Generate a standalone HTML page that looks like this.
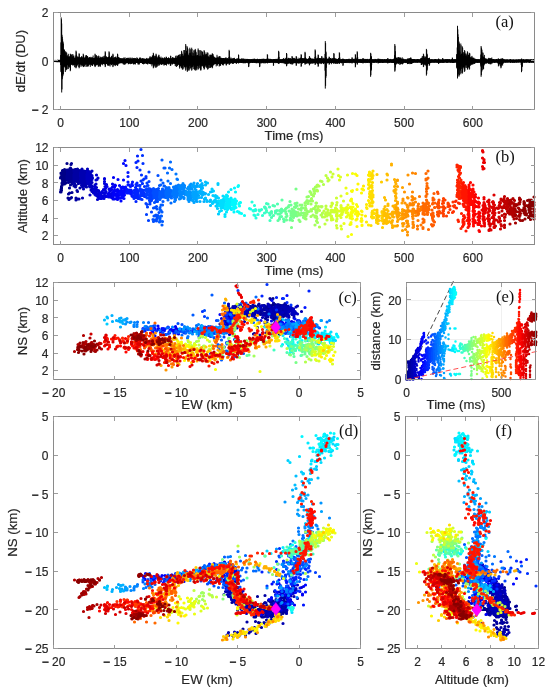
<!DOCTYPE html>
<html lang="en"><head><meta charset="utf-8"><title>Lightning flash mapping, panels (a)-(f)</title>
<style>html,body{margin:0;padding:0;background:#fff}body{width:550px;height:692px;overflow:hidden}svg{display:block}text{font-family:"Liberation Sans",sans-serif;fill:#262626;stroke:#262626;stroke-width:.18px}text.s{font-family:"Liberation Serif",serif;font-size:16.5px;fill:#111;stroke:none}</style></head><body>
<svg width="550" height="692" viewBox="0 0 550 692">
<rect width="550" height="692" fill="#fff"/><defs>
<clipPath id="ca"><rect x="51.5" y="10.5" width="485" height="101"/></clipPath>
<clipPath id="cb"><rect x="51.5" y="145.5" width="485" height="101"/></clipPath>
<clipPath id="cc"><rect x="51.5" y="280.5" width="311" height="101"/></clipPath>
<clipPath id="ce"><rect x="404.5" y="280.5" width="133" height="101"/></clipPath>
<clipPath id="cd"><rect x="51.5" y="414.5" width="311" height="236"/></clipPath>
<clipPath id="cf"><rect x="403.5" y="414.5" width="137" height="236"/></clipPath>
</defs>
<g clip-path="url(#ca)"><path d="M53.5 61H534.5" stroke="#000" stroke-width="1.7" fill="none"/>
<path d="M53.5 62.0V60.0M53.8 62.0V60.0M54 62.1V59.9M54.3 62.0V60.0M54.6 62.0V60.0M54.9 62.0V60.0M55.1 62.0V60.0M55.4 62.1V60.0M55.7 62.0V59.9M56 62.0V60.0M56.2 62.0V60.0M56.5 62.0V60.0M56.8 62.2V60.0M57.1 62.2V60.0M57.3 62.0V59.9M57.6 62.1V59.8M57.9 62.1V60.0M58.2 62.0V59.9M58.4 62.0V59.9M58.7 62.2V60.0M59 62.1V60.0M59.3 62.1V59.8M59.5 62.2V60.0M59.8 62.0V60.0M60.1 62.0V59.8M60.4 62.0V60.0M60.6 65.0V55.0M60.9 72.1V42.4M61.2 70.7V17.4M61.5 75.6V19.3M61.7 92.5V23.5M62 89.4V34.8M62.3 79.2V36.8M62.6 77.4V39.2M62.8 68.3V51.3M63.1 75.6V41.6M63.4 74.1V43.5M63.7 66.8V49.0M63.9 66.5V50.2M64.2 66.4V54.4M64.5 66.2V49.6M64.8 67.5V52.3M65 66.2V52.5M65.3 72.0V51.2M65.6 67.4V55.1M65.9 70.4V52.9M66.1 67.9V51.8M66.4 69.4V56.4M66.7 69.8V52.7M67 65.5V56.1M67.2 65.1V55.9M67.5 64.9V56.8M67.8 69.1V54.9M68.1 64.8V56.9M68.3 68.9V53.8M68.6 66.4V57.1M68.9 66.9V56.4M69.2 64.4V57.0M69.4 67.6V56.2M69.7 64.4V57.4M70 66.7V57.5M70.3 71.2V53.7M70.5 70.2V54.5M70.8 65.1V56.6M71.1 64.3V54.3M71.4 64.8V57.6M71.6 64.3V55.0M71.9 64.2V57.7M72.2 64.5V54.1M72.5 64.2V56.6M72.7 65.1V56.7M73 65.8V54.3M73.3 64.7V55.8M73.6 65.0V55.8M73.8 64.2V57.9M74.1 64.6V57.6M74.4 65.1V57.9M74.7 67.1V57.9M74.9 64.7V57.9M75.2 67.5V55.5M75.5 64.4V57.9M75.8 65.0V57.4M76 68.3V50.6M76.3 67.5V51.6M76.6 66.3V54.7M76.9 66.3V56.5M77.1 64.1V57.9M77.4 65.3V57.2M77.7 64.4V56.5M78 64.1V58.0M78.2 64.1V56.7M78.5 64.1V57.7M78.8 67.0V57.1M79.1 68.3V53.2M79.3 67.5V54.0M79.6 64.1V57.4M79.9 65.7V57.2M80.2 64.2V58.0M80.4 64.7V57.4M80.7 64.1V58.0M81 66.9V57.5M81.3 64.3V57.3M81.5 65.5V56.2M81.8 64.1V57.7M82.1 64.1V58.0M82.4 65.8V57.4M82.6 65.5V58.0M82.9 65.0V56.5M83.2 67.1V53.7M83.5 66.5V54.5M83.7 66.9V55.4M84 66.2V57.8M84.3 66.0V57.8M84.6 64.5V57.8M84.8 64.5V57.6M85.1 66.8V58.1M85.4 64.2V57.4M85.7 64.8V55.3M85.9 64.1V57.3M86.2 64.5V56.5M86.5 64.1V55.1M86.8 66.6V55.9M87 66.8V56.5M87.3 64.3V56.1M87.6 66.0V56.1M87.9 66.1V58.0M88.1 66.6V57.6M88.4 65.7V57.9M88.7 64.1V58.0M89 65.2V57.3M89.2 64.2V57.9M89.5 64.6V57.2M89.8 64.1V57.3M90.1 64.1V58.1M90.3 66.9V57.7M90.6 64.5V57.8M90.9 64.6V56.8M91.2 65.1V58.1M91.4 64.0V58.1M91.7 65.2V57.6M92 65.5V57.8M92.2 64.0V57.0M92.5 66.0V58.0M92.8 64.6V58.1M93.1 64.6V55.5M93.3 64.1V58.1M93.6 64.0V58.2M93.9 64.0V58.1M94.2 64.0V58.0M94.4 65.8V58.1M94.7 64.9V57.6M95 67.1V53.7M95.3 66.5V54.5M95.5 65.7V57.9M95.8 65.1V57.1M96.1 64.3V55.9M96.4 65.2V55.1M96.6 63.9V58.2M96.9 65.3V57.6M97.2 63.9V56.0M97.5 64.5V58.2M97.7 64.9V57.5M98 63.9V58.2M98.3 66.7V56.7M98.6 63.8V55.6M98.8 66.2V57.6M99.1 66.7V58.3M99.4 65.6V58.3M99.7 64.1V58.0M99.9 65.4V56.3M100.2 64.7V58.2M100.5 66.7V57.2M100.8 64.9V58.0M101 63.7V58.2M101.3 64.3V57.1M101.6 63.7V58.2M101.9 64.3V58.1M102.1 63.7V56.8M102.4 64.2V57.8M102.7 65.3V56.7M103 63.7V57.8M103.2 63.9V58.3M103.5 63.7V57.9M103.8 63.8V56.2M104.1 63.9V57.6M104.3 63.7V55.6M104.6 63.8V58.3M104.9 64.8V57.6M105.2 67.1V51.3M105.4 66.5V52.3M105.7 64.0V57.1M106 63.7V57.3M106.3 63.7V56.2M106.5 64.0V57.2M106.8 63.7V57.7M107.1 64.3V57.6M107.4 63.7V57.3M107.6 65.2V58.1M107.9 65.6V57.2M108.2 65.5V57.5M108.5 65.2V56.7M108.7 64.5V57.6M109 65.8V51.3M109.3 65.4V52.3M109.6 63.7V56.3M109.8 63.9V57.4M110.1 66.5V57.4M110.4 64.1V58.0M110.7 64.4V58.1M110.9 63.8V57.0M111.2 64.3V58.3M111.5 65.2V56.2M111.8 64.4V56.2M112 63.7V55.6M112.3 63.9V58.3M112.6 64.0V58.3M112.9 67.1V53.7M113.1 66.5V54.5M113.4 64.9V58.1M113.7 63.7V58.1M114 63.8V57.3M114.2 64.5V58.3M114.5 65.3V57.8M114.8 63.8V57.3M115.1 63.7V57.0M115.3 66.1V58.3M115.6 64.8V56.6M115.9 65.2V58.0M116.2 64.8V58.0M116.4 64.8V57.7M116.7 63.6V58.3M117 63.5V56.5M117.3 65.4V58.5M117.5 65.8V53.7M117.8 65.4V54.5M118.1 64.3V58.0M118.4 63.6V57.0M118.6 63.2V57.3M118.9 63.6V58.9M119.2 63.3V58.4M119.5 63.1V57.6M119.7 63.2V59.0M120 63.4V58.9M120.3 63.0V58.3M120.6 63.1V58.2M120.8 63.0V58.8M121.1 63.2V58.5M121.4 63.0V58.4M121.7 63.1V58.9M121.9 63.2V58.5M122.2 63.0V58.6M122.5 63.0V58.4M122.8 63.4V58.7M123 63.5V59.0M123.3 64.4V58.9M123.6 63.5V57.6M123.9 63.3V59.0M124.1 64.6V59.0M124.4 64.6V59.1M124.7 63.3V57.9M125 63.2V57.3M125.2 64.5V59.0M125.5 63.1V59.0M125.8 64.0V59.0M126.1 63.0V58.6M126.3 63.0V58.8M126.6 63.0V58.0M126.9 63.2V59.0M127.2 63.1V57.8M127.4 63.0V58.8M127.7 62.9V58.1M128 62.9V58.1M128.3 64.3V57.7M128.5 63.9V58.8M128.8 63.9V58.6M129.1 63.5V58.7M129.3 63.3V59.1M129.6 63.2V58.8M129.9 63.6V57.6M130.2 63.1V57.7M130.4 64.2V59.1M130.7 63.0V58.5M131 63.1V59.0M131.3 63.8V59.1M131.5 63.3V59.1M131.8 63.8V58.1M132.1 63.7V57.5M132.4 63.1V58.8M132.6 63.1V58.9M132.9 62.9V58.8M133.2 63.1V58.0M133.5 64.4V58.3M133.7 62.9V59.1M134 64.3V59.1M134.3 64.1V57.9M134.6 63.8V58.8M134.8 62.9V58.5M135.1 64.0V58.2M135.4 64.5V58.6M135.7 63.0V58.3M135.9 62.9V58.7M136.2 62.9V59.1M136.5 63.0V59.1M136.8 62.9V57.4M137 62.9V59.1M137.3 62.9V58.4M137.6 63.0V57.9M137.9 63.7V59.1M138.1 64.6V59.1M138.4 62.9V58.9M138.7 64.2V59.0M139 64.2V58.9M139.2 64.5V58.9M139.5 63.2V57.7M139.8 63.0V59.1M140.1 62.9V57.6M140.3 63.0V59.1M140.6 62.9V57.7M140.9 62.9V59.0M141.2 63.1V58.4M141.4 62.9V59.1M141.7 62.9V58.9M142 63.1V58.5M142.3 62.9V58.6M142.5 64.0V58.2M142.8 63.6V59.1M143.1 62.9V59.0M143.4 63.7V58.6M143.6 64.4V59.1M143.9 63.8V58.1M144.2 62.9V59.0M144.5 63.3V59.1M144.7 63.6V59.1M145 64.0V58.6M145.3 63.0V59.1M145.6 62.9V59.1M145.8 63.0V59.1M146.1 62.9V59.1M146.4 64.0V58.4M146.7 63.5V58.7M146.9 63.2V57.9M147.2 63.2V58.5M147.5 64.4V59.1M147.8 62.9V59.0M148 64.2V59.1M148.3 62.9V59.1M148.6 63.2V58.7M148.9 63.3V58.2M149.1 63.3V58.8M149.4 63.5V58.6M149.7 64.0V57.3M150 63.7V56.2M150.2 63.8V58.4M150.5 63.8V58.3M150.8 64.1V56.8M151.1 64.5V57.8M151.3 63.9V58.0M151.6 63.9V57.3M151.9 66.3V56.8M152.2 63.9V58.3M152.4 63.9V55.5M152.7 64.2V55.5M153 65.2V57.9M153.3 68.3V52.8M153.5 67.5V53.6M153.8 64.3V57.4M154.1 64.3V58.2M154.4 64.0V57.6M154.6 65.5V55.7M154.9 66.4V57.6M155.2 67.5V56.2M155.5 64.1V58.1M155.7 64.5V55.8M156 67.8V53.7M156.3 67.1V54.5M156.6 65.6V56.7M156.8 64.1V58.0M157.1 64.1V58.2M157.4 66.6V58.2M157.7 64.7V56.6M157.9 63.8V58.3M158.2 64.0V58.4M158.5 64.0V56.0M158.8 65.8V54.7M159 65.4V55.3M159.3 65.1V58.5M159.6 63.5V57.0M159.9 63.4V57.4M160.1 64.1V58.0M160.4 64.3V58.3M160.7 63.3V58.3M161 63.8V56.6M161.2 64.7V58.3M161.5 64.5V58.8M161.8 65.0V58.8M162.1 63.8V58.2M162.3 63.6V57.7M162.6 64.0V58.1M162.9 64.3V57.7M163.2 63.4V58.7M163.4 64.4V58.6M163.7 63.5V58.7M164 65.7V58.6M164.3 63.4V58.7M164.5 64.6V57.3M164.8 65.0V58.7M165.1 64.6V58.7M165.4 64.1V57.8M165.6 65.0V58.5M165.9 63.3V58.6M166.2 63.5V56.6M166.5 65.6V57.0M166.7 63.8V58.7M167 63.5V58.7M167.3 63.4V58.4M167.5 63.4V58.2M167.8 63.3V58.6M168.1 64.3V58.1M168.4 63.3V57.9M168.6 64.4V57.3M168.9 63.3V58.7M169.2 63.3V58.0M169.5 63.6V58.7M169.7 63.3V58.7M170 63.3V58.7M170.3 65.6V58.7M170.6 65.8V55.7M170.8 65.4V56.2M171.1 64.3V58.3M171.4 63.3V58.4M171.7 63.3V58.7M171.9 63.4V58.7M172.2 63.7V58.7M172.5 64.5V57.1M172.8 63.6V58.5M173 63.5V58.4M173.3 63.3V58.6M173.6 63.3V57.6M173.9 63.6V57.7M174.1 63.4V58.5M174.4 63.6V58.3M174.7 64.0V58.4M175 63.5V58.0M175.2 65.9V57.8M175.5 64.1V57.7M175.8 66.3V56.0M176.1 64.1V55.5M176.3 64.5V58.1M176.6 67.0V57.8M176.9 64.2V58.0M177.2 65.5V57.6M177.4 66.0V55.6M177.7 64.2V56.3M178 64.5V56.7M178.3 64.6V57.5M178.5 64.4V54.9M178.8 64.6V56.1M179.1 64.6V57.1M179.4 66.9V54.6M179.6 68.6V57.1M179.9 64.6V57.0M180.2 66.1V54.1M180.5 66.2V56.9M180.7 64.9V56.8M181 67.5V55.8M181.3 65.2V54.3M181.6 68.3V50.8M181.8 67.5V51.8M182.1 66.7V56.2M182.4 69.5V53.7M182.7 66.1V55.8M182.9 69.6V56.0M183.2 65.1V56.0M183.5 65.2V55.7M183.8 68.6V50.1M184 65.5V55.8M184.3 67.1V54.2M184.6 66.6V50.1M184.9 65.7V52.9M185.1 67.4V55.5M185.4 67.2V53.4M185.7 70.7V44.0M186 69.7V45.7M186.2 67.5V54.2M186.5 65.6V50.8M186.8 66.8V50.9M187.1 65.4V52.3M187.3 71.9V46.4M187.6 70.8V47.9M187.9 65.4V49.2M188.2 68.4V55.3M188.4 68.0V54.6M188.7 70.3V55.8M189 70.7V55.9M189.3 66.2V52.9M189.5 65.3V55.9M189.8 69.5V47.7M190.1 68.6V49.0M190.4 65.3V53.5M190.6 67.9V52.7M190.9 65.3V50.1M191.2 66.0V55.4M191.5 67.3V55.4M191.7 70.7V47.7M192 69.7V49.0M192.3 67.3V52.4M192.6 66.5V56.0M192.8 65.3V55.7M193.1 66.9V56.0M193.4 65.3V55.9M193.7 65.3V53.1M193.9 69.2V50.5M194.2 69.0V49.8M194.5 69.8V56.1M194.8 65.3V55.5M195 65.6V51.5M195.3 70.7V48.9M195.6 69.7V50.1M195.9 65.3V52.8M196.1 66.4V51.8M196.4 68.5V56.2M196.7 70.3V55.1M197 68.4V56.2M197.2 66.1V56.2M197.5 65.6V55.0M197.8 65.6V56.1M198.1 69.7V48.4M198.3 68.9V49.7M198.6 65.6V56.0M198.9 66.8V54.5M199.2 65.2V56.2M199.4 65.2V56.4M199.7 68.2V50.2M200 65.3V56.3M200.3 68.9V56.4M200.5 69.9V55.5M200.8 70.7V50.1M201.1 69.7V51.2M201.4 66.4V56.5M201.6 65.4V56.5M201.9 65.1V51.1M202.2 66.2V55.5M202.5 65.1V51.8M202.7 66.2V52.3M203 65.1V54.1M203.3 66.7V56.7M203.6 68.0V55.0M203.8 65.0V56.8M204.1 69.7V50.1M204.4 68.9V51.2M204.6 66.6V56.6M204.9 66.5V54.5M205.2 65.0V56.0M205.5 64.8V54.3M205.7 66.6V55.5M206 65.2V52.4M206.3 68.2V56.4M206.6 64.9V53.9M206.8 66.9V54.3M207.1 66.8V56.0M207.4 66.7V56.5M207.7 69.7V52.3M207.9 68.9V53.1M208.2 68.6V57.3M208.5 64.8V56.9M208.8 64.8V56.0M209 67.5V57.2M209.3 68.1V57.4M209.6 65.0V57.5M209.9 64.5V55.1M210.1 65.4V54.5M210.4 67.4V54.9M210.7 68.0V55.9M211 64.5V56.5M211.2 66.8V57.6M211.5 66.3V54.7M211.8 67.1V57.1M212.1 66.8V56.2M212.3 68.3V53.2M212.6 67.5V54.0M212.9 64.6V57.7M213.2 65.6V54.3M213.4 64.3V56.2M213.7 65.1V57.1M214 64.1V56.6M214.3 64.3V57.8M214.5 64.1V57.3M214.8 64.1V57.9M215.1 64.1V57.8M215.4 64.0V57.8M215.6 64.0V58.0M215.9 64.0V57.7M216.2 66.4V58.0M216.5 64.6V58.1M216.7 63.9V57.9M217 63.9V54.8M217.3 65.8V56.7M217.6 64.8V57.8M217.8 64.0V58.1M218.1 63.8V58.2M218.4 64.0V57.9M218.7 63.9V57.2M218.9 63.9V56.3M219.2 66.5V57.8M219.5 65.6V56.3M219.8 65.3V56.5M220 64.4V56.3M220.3 65.6V58.2M220.6 65.8V57.9M220.9 64.3V58.3M221.1 63.9V57.7M221.4 63.7V58.4M221.7 64.1V58.0M222 63.6V58.4M222.2 63.6V58.1M222.5 65.1V58.4M222.8 63.5V58.5M223.1 63.6V58.2M223.3 65.5V58.2M223.6 64.5V58.0M223.9 64.1V58.6M224.2 63.4V58.2M224.4 63.4V58.5M224.7 63.4V58.6M225 63.4V58.4M225.3 63.4V57.8M225.5 63.3V58.6M225.8 63.3V57.7M226.1 65.3V57.5M226.4 65.4V58.7M226.6 64.1V58.7M226.9 64.2V58.7M227.2 63.3V58.2M227.5 63.4V58.5M227.7 63.3V58.3M228 63.9V58.8M228.3 63.2V58.8M228.6 63.2V58.9M228.8 63.1V57.1M229.1 64.6V49.8M229.4 64.8V51.0M229.7 63.7V56.5M229.9 63.0V59.0M230.2 63.0V59.0M230.5 63.5V58.9M230.8 63.4V58.4M231 63.1V57.5M231.3 62.9V58.8M231.6 62.9V59.1M231.9 62.9V58.7M232.1 63.3V59.1M232.4 63.6V58.2M232.7 63.7V59.1M233 63.7V59.2M233.2 62.8V59.2M233.5 63.7V58.3M233.8 62.8V58.1M234.1 62.8V59.2M234.3 62.8V57.8M234.6 62.8V58.3M234.9 62.8V59.2M235.2 63.3V59.3M235.4 62.7V59.3M235.7 62.7V59.2M236 63.1V59.3M236.3 62.8V59.3M236.5 63.9V59.3M236.8 62.6V58.4M237.1 62.6V59.4M237.4 62.8V58.4M237.6 62.6V59.2M237.9 63.1V58.8M238.2 62.8V58.7M238.5 63.4V54.5M238.7 63.2V55.1M239 63.0V58.4M239.3 62.7V59.3M239.6 62.6V59.3M239.8 62.9V59.4M240.1 62.5V59.4M240.4 62.6V59.5M240.7 62.8V59.3M240.9 62.6V58.9M241.2 62.9V58.8M241.5 63.0V59.4M241.8 63.0V58.5M242 62.8V58.5M242.3 62.5V59.5M242.6 62.6V59.5M242.8 62.9V58.9M243.1 63.3V58.6M243.4 63.2V59.2M243.7 62.8V58.6M243.9 62.9V59.4M244.2 62.5V59.3M244.5 62.6V59.5M244.8 63.4V59.4M245 62.9V58.7M245.3 62.9V59.5M245.6 63.2V59.5M245.9 62.5V59.5M246.1 62.5V59.4M246.4 62.8V59.2M246.7 62.6V59.3M247 62.6V58.8M247.2 62.5V59.1M247.5 62.5V59.2M247.8 63.0V59.2M248.1 63.4V59.3M248.3 63.1V59.5M248.6 67.1V59.1M248.9 66.5V59.2M249.2 63.4V59.5M249.4 62.5V59.4M249.7 63.3V59.2M250 62.5V59.3M250.3 62.8V59.5M250.5 62.6V59.5M250.8 62.9V59.5M251.1 62.8V59.2M251.4 62.5V59.1M251.6 62.5V59.5M251.9 62.5V59.5M252.2 62.5V59.5M252.5 63.0V59.3M252.7 62.7V59.5M253 62.6V58.8M253.3 62.5V59.5M253.6 62.5V59.2M253.8 62.7V59.2M254.1 62.9V58.7M254.4 62.9V59.1M254.7 62.5V58.7M254.9 62.9V59.3M255.2 62.5V59.5M255.5 62.6V59.5M255.8 62.8V59.1M256 63.1V59.5M256.3 63.3V59.2M256.6 62.9V59.5M256.9 62.9V59.2M257.1 62.6V59.5M257.4 62.6V58.7M257.7 62.5V59.5M258 63.3V59.5M258.2 62.5V59.0M258.5 62.5V59.5M258.8 63.0V59.4M259.1 62.6V59.5M259.3 63.1V59.5M259.6 67.1V59.1M259.9 66.5V58.9M260.2 63.4V59.1M260.4 62.7V59.5M260.7 62.4V59.2M261 63.2V59.0M261.3 63.3V59.0M261.5 62.5V59.6M261.8 63.1V59.5M262.1 62.6V58.7M262.4 62.7V59.5M262.6 62.6V59.0M262.9 63.2V59.3M263.2 62.5V58.9M263.5 63.2V59.6M263.7 62.5V58.7M264 62.5V58.9M264.3 63.4V59.5M264.6 62.4V59.2M264.8 62.4V59.6M265.1 62.7V58.9M265.4 63.3V59.5M265.7 63.1V59.1M265.9 62.8V59.0M266.2 62.4V59.6M266.5 62.4V58.9M266.8 63.0V59.6M267 63.0V58.6M267.3 63.4V54.2M267.6 63.2V54.9M267.9 62.6V58.3M268.1 62.5V59.6M268.4 62.4V59.3M268.7 62.8V59.1M269 62.8V58.7M269.2 62.4V59.5M269.5 62.7V59.5M269.8 63.0V59.3M270.1 62.9V59.3M270.3 62.5V58.8M270.6 62.4V59.3M270.9 62.4V59.5M271.2 62.4V59.5M271.4 62.5V59.2M271.7 62.6V59.3M272 62.6V59.6M272.3 62.4V59.5M272.5 62.5V59.6M272.8 62.4V59.4M273.1 63.0V59.5M273.4 65.8V59.1M273.6 65.4V59.3M273.9 62.9V59.3M274.2 62.9V59.5M274.5 62.4V59.0M274.7 62.5V59.6M275 62.5V59.6M275.3 62.5V59.2M275.6 62.4V59.4M275.8 63.2V59.1M276.1 62.5V58.8M276.4 62.8V59.4M276.7 62.4V59.0M276.9 62.8V59.3M277.2 62.8V59.4M277.5 63.1V59.4M277.8 62.4V58.7M278 63.2V59.5M278.3 63.0V57.4M278.6 63.9V50.8M278.9 63.6V51.8M279.1 62.5V56.9M279.4 63.3V59.3M279.7 62.7V59.6M279.9 62.4V59.5M280.2 62.5V59.5M280.5 62.9V59.4M280.8 62.4V59.4M281 62.8V59.4M281.3 62.7V59.6M281.6 62.8V59.5M281.9 62.4V59.2M282.1 63.3V59.5M282.4 62.6V58.9M282.7 62.9V59.3M283 62.6V59.2M283.2 62.6V59.0M283.5 62.6V58.1M283.8 63.0V59.3M284.1 63.8V59.3M284.3 63.3V59.3M284.6 62.8V59.2M284.9 62.8V59.2M285.2 64.2V57.8M285.4 62.9V59.2M285.7 63.9V59.0M286 63.5V58.1M286.3 63.4V58.2M286.5 66.3V53.0M286.8 65.8V53.8M287.1 63.1V57.8M287.4 62.8V59.2M287.6 64.2V59.0M287.9 62.8V59.1M288.2 63.8V59.2M288.5 62.8V58.2M288.7 63.2V57.8M289 63.8V58.9M289.3 63.1V59.2M289.6 63.1V58.1M289.8 63.1V59.1M290.1 62.8V59.1M290.4 64.1V59.2M290.7 63.3V58.0M290.9 64.1V58.7M291.2 63.8V59.2M291.5 62.8V59.1M291.8 63.5V59.1M292 64.6V56.1M292.3 64.3V56.6M292.6 63.1V57.9M292.9 64.2V59.2M293.1 62.8V58.3M293.4 63.3V58.2M293.7 62.9V59.2M294 63.0V57.8M294.2 63.3V58.2M294.5 62.8V58.6M294.8 62.8V59.2M295.1 62.8V59.0M295.3 62.9V58.5M295.6 63.3V58.9M295.9 63.0V59.2M296.2 65.8V56.1M296.4 65.4V56.6M296.7 62.9V59.1M297 63.1V59.1M297.3 63.4V59.2M297.5 63.0V59.1M297.8 62.8V59.2M298.1 63.0V57.7M298.4 63.4V59.2M298.6 62.9V59.1M298.9 63.7V59.2M299.2 62.8V59.0M299.5 63.3V59.1M299.7 62.9V58.1M300 62.8V59.2M300.3 62.8V57.7M300.6 62.8V59.1M300.8 63.1V57.8M301.1 66.8V54.2M301.4 66.2V54.9M301.7 63.3V58.3M301.9 62.8V59.2M302.2 63.2V58.5M302.5 63.5V58.1M302.8 62.8V59.2M303 63.0V59.2M303.3 63.0V58.9M303.6 63.0V58.2M303.9 62.8V58.2M304.1 63.0V59.0M304.4 62.8V58.9M304.7 63.1V57.8M305 64.6V51.8M305.2 64.3V52.7M305.5 62.8V57.3M305.8 63.5V59.2M306.1 64.0V58.8M306.3 63.4V58.6M306.6 62.9V58.7M306.9 62.9V59.2M307.2 63.2V59.2M307.4 62.8V59.2M307.7 62.8V59.2M308 63.8V59.0M308.3 63.0V58.5M308.5 63.4V58.9M308.8 63.0V58.1M309.1 62.8V59.0M309.4 65.4V56.1M309.6 64.9V56.6M309.9 63.1V57.9M310.2 62.8V58.7M310.5 62.8V57.8M310.7 64.0V58.0M311 63.4V59.2M311.3 62.8V58.8M311.6 62.9V59.0M311.8 63.3V58.5M312.1 63.7V59.2M312.4 62.8V58.7M312.7 63.3V58.8M312.9 63.1V59.1M313.2 63.4V59.2M313.5 62.8V58.7M313.8 62.9V59.2M314 63.3V59.1M314.3 62.8V59.2M314.6 63.1V59.2M314.9 62.9V56.9M315.1 64.9V49.4M315.4 64.5V50.5M315.7 63.5V56.3M316 62.8V59.1M316.2 63.3V58.5M316.5 62.8V58.7M316.8 62.9V58.9M317.1 63.4V58.4M317.3 63.5V57.8M317.6 64.2V59.0M317.9 63.0V57.9M318.1 66.8V54.5M318.4 66.2V55.1M318.7 63.6V58.4M319 63.8V58.7M319.2 62.8V59.2M319.5 62.8V58.0M319.8 62.8V59.1M320.1 63.5V58.8M320.3 62.8V58.2M320.6 62.8V58.3M320.9 63.7V58.7M321.2 64.1V58.6M321.4 63.0V58.5M321.7 63.5V56.1M322 63.2V56.6M322.3 62.8V58.1M322.5 63.1V59.2M322.8 62.8V59.2M323.1 63.0V59.2M323.4 63.3V59.2M323.6 64.1V57.8M323.9 63.9V58.9M324.2 62.8V58.1M324.5 62.9V58.9M324.7 62.8V59.2M325 70.7V54.0M325.3 88.6V41.1M325.6 85.9V43.1M325.8 78.0V51.3M326.1 76.3V52.3M326.4 67.8V57.1M326.7 62.9V59.1M326.9 62.8V58.6M327.2 63.6V59.2M327.5 62.9V58.8M327.8 62.8V58.9M328 62.8V58.9M328.3 63.1V59.2M328.6 62.9V58.3M328.9 62.8V58.9M329.1 64.6V56.6M329.4 64.3V57.1M329.7 63.0V59.2M330 62.9V58.6M330.2 63.3V59.1M330.5 62.9V58.0M330.8 62.8V59.0M331.1 62.8V59.2M331.3 62.9V59.0M331.6 64.2V59.1M331.9 62.9V57.9M332.2 62.9V59.2M332.4 62.8V58.1M332.7 63.0V59.2M333 62.8V59.2M333.3 62.8V59.2M333.5 62.8V58.2M333.8 63.9V53.0M334.1 63.6V53.8M334.4 62.8V57.8M334.6 62.8V58.3M334.9 63.0V59.2M335.2 62.8V58.4M335.5 63.7V59.1M335.7 63.5V58.7M336 62.9V58.4M336.3 63.8V59.1M336.6 62.8V59.3M336.8 62.7V59.3M337.1 63.6V59.3M337.4 63.9V59.3M337.7 62.7V59.2M337.9 62.8V58.9M338.2 62.6V59.2M338.5 63.1V58.2M338.8 63.4V58.3M339 62.6V57.9M339.3 63.9V52.3M339.6 63.6V53.1M339.9 62.6V57.5M340.1 62.6V59.4M340.4 62.6V59.5M340.7 62.6V59.5M341 62.7V59.4M341.2 62.5V59.0M341.5 63.3V59.5M341.8 62.6V59.4M342.1 62.6V59.3M342.3 62.9V58.9M342.6 62.7V59.3M342.9 65.8V58.6M343.2 65.4V58.8M343.4 62.9V59.4M343.7 62.5V59.1M344 62.8V59.0M344.3 62.7V59.3M344.5 62.8V59.6M344.8 63.0V59.6M345.1 62.8V59.6M345.4 63.0V59.6M345.6 62.5V59.4M345.9 62.9V59.6M346.2 62.8V59.3M346.5 62.4V59.6M346.7 62.6V59.1M347 63.1V59.4M347.3 62.5V59.2M347.6 62.5V59.6M347.8 62.5V59.4M348.1 62.9V59.0M348.4 62.5V59.6M348.7 62.4V58.9M348.9 62.7V59.4M349.2 63.2V58.7M349.5 62.6V59.6M349.8 62.4V59.5M350 62.4V59.3M350.3 62.4V59.4M350.6 62.8V59.4M350.9 63.1V59.0M351.1 62.8V59.6M351.4 62.4V59.2M351.7 62.7V59.5M352 63.4V57.4M352.2 63.2V57.7M352.5 62.4V59.5M352.8 62.5V59.6M353.1 62.5V59.0M353.3 62.4V58.9M353.6 62.4V59.2M353.9 62.4V58.9M354.2 62.8V58.9M354.4 62.4V59.5M354.7 62.7V59.6M355 63.2V58.6M355.3 67.3V54.2M355.5 66.7V54.9M355.8 63.5V58.3M356.1 62.7V59.4M356.3 62.8V58.9M356.6 62.5V59.3M356.9 63.0V57.6M357.2 64.6V51.3M357.4 64.3V52.3M357.7 62.8V57.1M358 62.4V58.9M358.3 62.4V59.4M358.5 62.7V59.6M358.8 62.4V59.6M359.1 62.4V59.4M359.4 62.6V59.6M359.6 62.4V59.5M359.9 62.6V59.0M360.2 62.7V58.9M360.5 62.8V59.4M360.7 62.4V59.5M361 62.4V59.6M361.3 62.8V59.4M361.6 63.0V59.5M361.8 63.0V59.4M362.1 62.5V58.9M362.4 62.4V59.2M362.7 62.9V59.6M362.9 63.4V58.1M363.2 63.2V58.4M363.5 62.5V58.8M363.8 62.4V59.4M364 62.4V59.1M364.3 63.0V59.6M364.6 62.4V59.6M364.9 62.4V58.8M365.1 62.4V59.0M365.4 62.4V59.5M365.7 63.1V59.1M366 62.4V59.4M366.2 62.8V59.2M366.5 62.4V59.4M366.8 62.8V59.3M367.1 62.9V58.9M367.3 63.0V59.5M367.6 62.4V59.3M367.9 62.7V58.9M368.2 62.4V59.6M368.4 62.4V59.6M368.7 62.4V59.6M369 63.1V59.5M369.3 63.0V59.5M369.5 62.7V58.9M369.8 62.4V59.6M370.1 62.4V59.6M370.4 66.5V58.1M370.6 76.8V52.8M370.9 75.2V53.6M371.2 70.7V56.1M371.5 69.7V56.6M371.7 64.9V59.1M372 62.8V59.6M372.3 62.5V59.2M372.6 62.3V59.6M372.8 62.4V59.5M373.1 62.7V59.6M373.4 62.5V59.6M373.7 62.8V59.5M373.9 62.7V59.1M374.2 62.6V59.7M374.5 62.7V59.6M374.8 62.4V59.5M375 62.4V58.9M375.3 62.3V59.6M375.6 62.4V59.1M375.9 62.4V59.5M376.1 62.4V59.6M376.4 62.8V59.3M376.7 62.4V59.6M377 62.3V59.5M377.2 62.4V59.7M377.5 62.4V59.5M377.8 62.3V58.9M378.1 63.4V58.6M378.3 63.2V58.8M378.6 62.9V59.5M378.9 62.6V59.0M379.2 62.4V59.5M379.4 63.0V58.9M379.7 62.8V59.6M380 62.9V58.9M380.3 62.4V59.7M380.5 62.4V59.3M380.8 62.9V59.6M381.1 62.8V59.2M381.4 62.6V59.7M381.6 62.3V59.6M381.9 62.4V59.0M382.2 62.3V59.3M382.5 63.0V59.6M382.7 62.4V59.6M383 62.9V59.0M383.3 62.7V59.7M383.6 62.5V59.7M383.8 62.7V59.7M384.1 62.4V59.4M384.4 62.3V59.1M384.7 62.8V59.7M384.9 62.4V59.3M385.2 62.3V59.3M385.5 62.4V59.7M385.8 62.6V59.5M386 62.7V59.5M386.3 62.7V59.7M386.6 62.3V59.0M386.9 62.3V59.7M387.1 62.9V59.7M387.4 62.4V59.4M387.7 63.4V58.1M388 63.2V58.4M388.2 62.8V59.4M388.5 62.3V59.7M388.8 62.8V59.6M389.1 62.6V59.0M389.3 62.3V59.6M389.6 62.9V59.7M389.9 62.9V59.1M390.2 62.3V59.7M390.4 62.4V59.6M390.7 62.4V58.9M391 62.4V59.2M391.3 63.0V59.7M391.5 62.4V59.7M391.8 62.6V59.6M392.1 62.9V59.4M392.4 62.9V59.3M392.6 62.5V59.7M392.9 63.0V59.6M393.2 62.5V59.5M393.4 63.0V59.4M393.7 62.7V58.8M394 63.0V58.8M394.3 63.1V58.8M394.5 64.7V55.1M394.8 71.7V44.0M395.1 70.6V45.7M395.4 67.5V51.2M395.6 65.0V56.6M395.9 64.8V58.9M396.2 63.5V58.9M396.5 63.1V57.8M396.7 63.9V57.7M397 63.2V58.1M397.3 63.1V58.9M397.6 63.4V58.9M397.8 63.1V57.2M398.1 63.1V58.5M398.4 64.1V58.7M398.7 63.1V57.1M398.9 63.0V57.2M399.2 63.3V58.9M399.5 63.1V58.2M399.8 64.9V57.8M400 63.3V57.7M400.3 63.7V57.5M400.6 64.4V58.1M400.9 63.3V59.0M401.1 63.7V58.9M401.4 63.2V59.0M401.7 64.1V58.5M402 63.3V58.6M402.2 63.2V57.3M402.5 64.4V59.0M402.8 63.1V59.1M403.1 62.9V59.2M403.3 63.6V59.3M403.6 62.8V58.6M403.9 62.7V59.3M404.2 62.4V59.7M404.4 62.4V59.5M404.7 62.8V59.4M405 62.3V59.6M405.3 63.0V59.7M405.5 62.5V59.4M405.8 62.7V59.5M406.1 63.1V59.7M406.4 62.7V59.6M406.6 62.3V59.7M406.9 62.9V59.6M407.2 63.2V58.9M407.5 64.1V58.8M407.7 62.9V59.0M408 63.8V58.3M408.3 63.7V59.1M408.6 63.3V58.6M408.8 63.7V59.1M409.1 62.9V58.6M409.4 63.1V58.7M409.7 63.2V58.7M409.9 64.2V58.1M410.2 63.6V58.2M410.5 62.9V57.6M410.8 63.9V59.1M411 63.6V57.6M411.3 63.9V58.6M411.6 63.8V59.1M411.9 63.5V59.1M412.1 63.3V59.1M412.4 62.8V59.0M412.7 62.8V59.0M413 62.9V59.0M413.2 63.0V59.2M413.5 62.3V59.1M413.8 62.6V59.2M414.1 62.3V59.2M414.3 62.5V59.0M414.6 62.4V59.3M414.9 62.3V59.7M415.2 62.5V59.5M415.4 62.4V59.6M415.7 62.4V59.4M416 62.8V59.7M416.3 62.5V59.1M416.5 62.3V59.7M416.8 62.3V59.6M417.1 62.5V59.7M417.4 62.3V59.1M417.6 62.8V59.1M417.9 62.6V59.0M418.2 62.3V59.7M418.5 62.3V59.6M418.7 62.3V59.1M419 62.4V59.2M419.3 62.3V59.7M419.6 62.4V59.6M419.8 62.4V59.7M420.1 62.8V59.2M420.4 62.5V59.2M420.7 62.4V58.8M420.9 63.0V58.1M421.2 64.8V58.3M421.5 64.9V58.3M421.8 65.0V57.6M422 64.6V58.2M422.3 63.5V56.1M422.6 63.6V58.2M422.9 63.6V58.2M423.1 63.5V56.1M423.4 67.1V53.7M423.7 66.5V54.5M424 64.7V58.1M424.2 63.4V56.4M424.5 64.4V58.1M424.8 63.5V58.3M425.1 65.0V56.7M425.3 65.3V56.6M425.6 64.0V58.5M425.9 63.4V58.6M426.2 66.1V56.8M426.4 75.6V48.9M426.7 74.1V50.1M427 70.7V53.7M427.3 69.7V54.5M427.5 64.9V58.1M427.8 65.8V58.6M428.1 64.1V58.6M428.4 63.5V58.6M428.6 63.8V58.2M428.9 63.7V58.1M429.2 63.5V58.4M429.5 65.7V57.7M429.7 64.4V59.0M430 62.7V59.4M430.3 63.0V59.7M430.6 63.0V59.6M430.8 62.4V59.3M431.1 62.5V59.7M431.4 62.4V59.1M431.6 62.5V59.6M431.9 62.7V59.7M432.2 62.6V59.7M432.5 62.3V59.3M432.7 62.3V59.7M433 62.5V59.6M433.3 62.3V59.7M433.6 62.7V59.5M433.8 62.3V59.6M434.1 62.3V59.7M434.4 62.5V59.7M434.7 62.7V59.0M434.9 62.4V59.5M435.2 62.4V59.1M435.5 62.4V59.0M435.8 62.3V59.5M436 62.4V59.1M436.3 62.6V59.6M436.6 62.5V59.7M436.9 62.3V59.3M437.1 62.5V59.6M437.4 62.8V59.7M437.7 62.4V59.6M438 62.8V59.6M438.2 62.6V59.0M438.5 63.9V58.6M438.8 63.6V58.8M439.1 62.5V59.1M439.3 62.3V59.7M439.6 63.0V59.7M439.9 62.8V59.6M440.2 62.5V59.5M440.4 62.6V59.7M440.7 62.7V59.7M441 62.9V59.7M441.3 62.6V59.7M441.5 62.4V59.7M441.8 62.3V59.7M442.1 62.7V59.7M442.4 62.3V59.6M442.6 62.9V58.1M442.9 62.7V58.4M443.2 62.6V59.7M443.5 62.4V59.6M443.7 62.8V59.2M444 62.9V59.7M444.3 62.4V59.6M444.6 62.3V59.7M444.8 62.3V59.7M445.1 62.4V59.1M445.4 62.3V59.4M445.7 62.3V59.6M445.9 62.4V59.3M446.2 62.4V59.0M446.5 62.6V59.5M446.8 62.8V59.6M447 62.5V59.7M447.3 63.0V59.0M447.6 62.3V59.3M447.9 62.4V59.7M448.1 62.4V59.6M448.4 62.4V59.7M448.7 62.3V59.0M449 62.5V59.7M449.2 62.5V59.7M449.5 62.3V59.1M449.8 62.3V59.7M450.1 62.3V59.7M450.3 62.4V59.7M450.6 62.9V59.7M450.9 62.3V59.6M451.2 62.3V59.7M451.4 62.7V59.4M451.7 62.4V59.1M452 62.4V59.7M452.3 62.9V57.6M452.5 62.7V57.9M452.8 63.0V59.4M453.1 62.4V59.2M453.4 62.4V59.7M453.6 63.0V59.4M453.9 62.5V59.7M454.2 62.3V59.7M454.5 62.3V59.6M454.7 62.8V59.2M455 62.4V59.2M455.3 62.4V59.2M455.6 62.3V59.7M455.8 62.3V59.6M456.1 62.3V59.7M456.4 62.8V59.2M456.7 68.4V54.0M456.9 67.3V55.1M457.2 67.1V47.5M457.5 78.5V25.8M457.8 76.7V29.4M458 75.6V34.3M458.3 74.1V37.0M458.6 68.0V50.3M458.9 70.1V50.3M459.1 76.5V41.6M459.4 75.0V43.5M459.7 69.0V50.7M460 66.4V51.9M460.2 67.6V54.7M460.5 70.6V54.9M460.8 74.3V43.5M461.1 73.0V45.3M461.3 66.3V54.0M461.6 68.9V53.8M461.9 66.1V55.0M462.2 66.8V53.0M462.4 73.6V46.4M462.7 72.3V47.9M463 67.7V54.1M463.3 65.7V52.2M463.5 67.5V56.2M463.8 66.6V55.4M464.1 69.4V52.7M464.4 66.2V54.1M464.6 71.9V50.1M464.9 70.8V51.2M465.2 67.6V56.6M465.5 65.3V55.8M465.7 65.3V53.5M466 65.2V53.6M466.3 68.0V54.7M466.6 65.2V56.1M466.8 65.1V56.9M467.1 66.7V56.9M467.4 69.7V51.3M467.7 68.9V52.3M467.9 67.4V57.1M468.2 66.3V56.7M468.5 67.6V54.9M468.7 64.9V57.1M469 66.8V54.5M469.3 69.7V52.8M469.6 68.9V53.6M469.8 66.0V53.4M470.1 65.9V57.6M470.4 64.5V57.3M470.7 64.6V57.7M470.9 65.2V57.8M471.2 64.3V56.5M471.5 64.5V58.1M471.8 64.2V57.4M472 64.4V55.9M472.3 63.7V58.1M472.6 64.3V57.6M472.9 64.5V58.7M473.1 63.6V57.7M473.4 63.3V57.9M473.7 63.0V58.6M474 64.0V57.8M474.2 64.0V58.9M474.5 63.4V58.9M474.8 62.7V59.3M475.1 63.4V58.6M475.3 62.7V59.4M475.6 62.5V59.0M475.9 62.6V59.4M476.2 62.4V59.6M476.4 62.4V59.5M476.7 62.5V59.0M477 62.9V59.4M477.3 63.0V59.7M477.5 62.6V59.5M477.8 62.3V59.1M478.1 62.3V59.7M478.4 62.8V59.7M478.6 62.3V59.2M478.9 62.7V59.5M479.2 62.7V59.3M479.5 62.3V59.7M479.7 62.7V59.5M480 62.4V59.7M480.3 62.3V59.7M480.6 64.6V58.2M480.8 66.5V54.5M481.1 76.8V46.0M481.4 75.2V47.5M481.7 71.9V48.9M481.9 70.8V50.1M482.2 65.8V56.1M482.5 65.1V56.9M482.8 70.0V52.3M483 67.5V53.1M483.3 68.6V56.5M483.6 69.1V57.3M483.9 65.6V57.4M484.1 64.8V57.7M484.4 64.1V54.9M484.7 64.2V57.9M485 63.7V58.2M485.2 63.2V58.8M485.5 62.9V59.0M485.8 63.5V58.6M486.1 63.4V58.7M486.3 62.7V59.3M486.6 63.5V59.5M486.9 62.7V58.7M487.2 62.5V59.5M487.4 62.8V59.6M487.7 62.6V59.7M488 62.8V59.5M488.3 64.0V58.5M488.5 63.1V58.7M488.8 63.1V57.8M489.1 63.5V58.8M489.4 63.2V58.2M489.6 63.5V58.9M489.9 64.2V58.7M490.2 63.1V58.9M490.5 63.5V58.9M490.7 64.3V58.0M491 64.2V58.9M491.3 63.1V58.6M491.6 63.2V58.8M491.8 63.2V57.5M492.1 63.5V59.0M492.4 62.8V59.2M492.7 62.4V59.3M492.9 62.4V59.7M493.2 62.5V59.4M493.5 62.3V59.0M493.8 62.4V59.6M494 62.9V59.5M494.3 62.5V59.7M494.6 62.7V59.3M494.9 62.7V59.6M495.1 62.9V59.5M495.4 62.3V59.7M495.7 62.3V59.4M496 62.3V59.6M496.2 62.3V59.0M496.5 62.3V59.0M496.8 62.5V59.5M497.1 62.7V59.7M497.3 62.7V59.7M497.6 62.6V59.5M497.9 63.2V59.0M498.2 63.7V58.6M498.4 66.4V58.6M498.7 65.4V58.8M499 65.5V59.3M499.3 64.2V59.1M499.5 63.7V59.4M499.8 63.7V59.2M500.1 63.7V59.3M500.4 66.3V59.2M500.6 63.7V59.4M500.9 68.3V58.6M501.2 67.5V58.8M501.5 65.5V59.3M501.7 64.3V59.4M502 64.7V58.3M502.3 64.0V59.4M502.6 65.6V58.4M502.8 63.7V58.6M503.1 63.6V59.5M503.4 63.0V59.0M503.7 62.6V59.5M503.9 62.2V59.8M504.2 62.2V59.6M504.5 62.6V59.3M504.8 62.2V59.8M505 62.2V59.8M505.3 62.7V59.8M505.6 62.5V59.4M505.9 62.4V59.8M506.1 62.5V59.8M506.4 62.2V59.8M506.7 62.5V59.4M506.9 62.3V59.8M507.2 62.3V59.2M507.5 62.4V59.8M507.8 62.3V59.7M508 62.7V59.8M508.3 62.2V59.8M508.6 62.2V59.8M508.9 62.5V59.6M509.1 62.2V59.8M509.4 62.2V59.7M509.7 62.5V59.4M510 62.2V59.6M510.2 62.2V59.8M510.5 62.9V59.1M510.8 62.7V59.3M511.1 62.2V59.8M511.3 62.2V59.8M511.6 62.5V59.8M511.9 62.3V59.7M512.2 62.4V59.6M512.4 62.7V59.7M512.7 62.8V59.8M513 62.5V59.8M513.3 62.3V59.8M513.5 62.4V59.4M513.8 62.7V59.8M514.1 62.6V59.8M514.4 62.3V59.8M514.6 62.7V59.7M514.9 62.7V59.8M515.2 62.3V59.8M515.5 62.3V59.8M515.7 62.3V59.7M516 62.2V59.7M516.3 62.7V59.4M516.6 62.6V59.8M516.8 62.2V59.8M517.1 62.2V59.5M517.4 62.6V59.8M517.7 62.2V59.8M517.9 62.2V59.8M518.2 62.3V59.2M518.5 62.4V59.6M518.8 62.6V59.6M519 62.2V59.8M519.3 62.2V59.4M519.6 62.2V59.8M519.9 62.2V59.5M520.1 62.5V59.4M520.4 62.3V59.7M520.7 62.4V59.8M521 62.4V59.2M521.2 64.9V59.8M521.5 72.2V58.6M521.8 71.0V58.8M522.1 67.1V59.5M522.3 66.5V59.7M522.6 63.4V59.8M522.9 62.2V59.7M523.2 62.2V59.2M523.4 62.2V59.2M523.7 62.8V59.8M524 62.2V59.4M524.3 62.5V59.7M524.5 62.4V59.8M524.8 62.8V59.7M525.1 62.2V59.8M525.4 62.6V59.5M525.6 62.2V59.5M525.9 62.2V59.8M526.2 62.3V59.8M526.5 62.6V59.5M526.7 62.4V59.2M527 62.5V59.8M527.3 62.3V59.2M527.6 62.2V59.7M527.8 62.2V59.8M528.1 62.2V59.5M528.4 62.2V59.5M528.7 62.7V59.7M528.9 62.3V59.6M529.2 62.6V59.8M529.5 62.8V59.6M529.8 62.7V59.8M530 62.2V59.7M530.3 62.2V59.5M530.6 62.5V59.5M530.9 62.3V59.6M531.1 62.3V59.3M531.4 62.6V59.5M531.7 62.4V59.6M532 62.6V59.6M532.2 62.5V59.8M532.5 62.3V59.8M532.8 62.3V59.8M533.1 62.4V59.5M533.3 62.7V59.2M533.6 62.6V59.8M533.9 62.6V59.2M534.2 62.2V59.4M534.4 62.2V59.8" stroke="#000" stroke-width=".95" fill="none"/></g>
<path d="M53.5 12.5H534.5V109.5H53.5Z" stroke="#8a8a8a" stroke-width="1" fill="none" shape-rendering="crispEdges"/>
<path d="M60.5 109.5v-4M60.5 12.5v4M129.5 109.5v-4M129.5 12.5v4M197.5 109.5v-4M197.5 12.5v4M266.5 109.5v-4M266.5 12.5v4M335.5 109.5v-4M335.5 12.5v4M404.5 109.5v-4M404.5 12.5v4M472.5 109.5v-4M472.5 12.5v4M53.5 109.5h4M534.5 109.5h-4M53.5 60.5h4M534.5 60.5h-4M53.5 12.5h4M534.5 12.5h-4" stroke="#9d9d9d" stroke-width="1" fill="none" shape-rendering="crispEdges"/>
<g font-size="12" text-anchor="middle">
<text x="60.6" y="126.8">0</text>
<text x="129.3" y="126.8">100</text>
<text x="198" y="126.8">200</text>
<text x="266.7" y="126.8">300</text>
<text x="335.4" y="126.8">400</text>
<text x="404.1" y="126.8">500</text>
<text x="472.8" y="126.8">600</text>
</g><g font-size="12" text-anchor="end">
<text x="48.5" y="114.2"><tspan font-weight="bold">−</tspan> 2</text>
<text x="48.5" y="65.7">0</text>
<text x="48.5" y="17.2">2</text>
</g>
<text font-size="13.2" text-anchor="middle" x="294" y="140">Time (ms)</text>
<text font-size="13.2" text-anchor="middle" transform="translate(24.5 61) rotate(-90)">dE/dt (DU)</text>
<text class="s" x="495.5" y="27.3">(a)</text>
<g clip-path="url(#cb)"><g transform="scale(.5)" fill="none" stroke-linecap="round" stroke-width="6.4">
<path stroke="#000087" d="M121 384h0M121 356h0M121 356h0M122 384h0M122 356h0M122 381h0M122 382h0M122 347h0M122 382h0M122 346h0M122 380h0M122 379h0M122 379h0M122 353h0M122 382h0M123 375h0M123 377h0M123 381h0M123 380h0M123 374h0M123 374h0M123 380h0M123 373h0M124 371h0M124 367h0M124 347h0M124 366h0M125 366h0M125 369h0M125 359h0M125 367h0M125 364h0M125 360h0M125 366h0M125 341h0M125 349h0M125 364h0M126 357h0M126 362h0M126 348h0M126 355h0M126 354h0M126 360h0M126 352h0M126 360h0M126 341h0M126 356h0M127 356h0M127 349h0M127 358h0M127 350h0M127 346h0M127 367h0M127 343h0M127 353h0M127 352h0M127 353h0M127 351h0M127 349h0M127 353h0M127 357h0M128 350h0M128 355h0M128 348h0M128 346h0M128 350h0M128 352h0M128 348h0M129 358h0M129 349h0M129 343h0M129 353h0M129 359h0M129 365h0M129 339h0M129 341h0M129 368h0M130 358h0M130 361h0M130 359h0M130 359h0M130 348h0M130 343h0M130 359h0M131 340h0M131 359h0M131 346h0M131 354h0M131 366h0M131 348h0M131 350h0M131 350h0M131 356h0M132 361h0M132 355h0M132 350h0M132 356h0M132 366h0M132 356h0M132 349h0M132 351h0M132 340h0M133 348h0M133 360h0M133 345h0M133 356h0M133 357h0M133 343h0M134 359h0M134 350h0M134 352h0M134 347h0M134 352h0M134 359h0M134 353h0M134 358h0M134 327h0M134 343h0M134 351h0M134 347h0"/>
<path stroke="#000095" d="M134 355h0M134 352h0M134 353h0M134 358h0M135 349h0M135 350h0M135 340h0M135 343h0M135 342h0M135 348h0M135 347h0M135 344h0M135 346h0M135 351h0M136 352h0M136 355h0M136 352h0M136 358h0M136 340h0M136 396h0M136 349h0M136 341h0M136 349h0M136 349h0M136 342h0M136 351h0M137 344h0M137 359h0M137 365h0M137 344h0M137 349h0M137 345h0M137 348h0M137 356h0M137 357h0M137 341h0M137 343h0M137 358h0M137 347h0M137 353h0M137 388h0M137 355h0M137 362h0M137 352h0M138 348h0M138 350h0M138 347h0M138 362h0M138 351h0M138 399h0M138 348h0M138 351h0M138 354h0M139 359h0M139 348h0M139 354h0M139 376h0M139 355h0M139 342h0M139 349h0M139 343h0M139 359h0M139 340h0M139 386h0M139 358h0M139 348h0M139 360h0M139 353h0M139 352h0M139 360h0M139 350h0M140 351h0M140 362h0M140 353h0M140 357h0M140 349h0M140 397h0M140 356h0M140 363h0M140 337h0M140 347h0M140 357h0M140 353h0M140 397h0M141 341h0M141 360h0M141 370h0M141 336h0M141 349h0M141 349h0M141 341h0M141 363h0M141 355h0M141 354h0M141 343h0M141 351h0M141 352h0M141 352h0M141 349h0M141 360h0M141 352h0M141 348h0M142 357h0M142 359h0M142 353h0M142 356h0M142 350h0M142 347h0M142 329h0M142 396h0M142 354h0M142 346h0M142 342h0M142 359h0M142 359h0M143 352h0M143 351h0M143 355h0M143 348h0M143 359h0M143 340h0M143 355h0M143 327h0M143 348h0M143 348h0M143 395h0M144 368h0M144 343h0M144 350h0M144 349h0M144 351h0M144 345h0M144 351h0M144 345h0M144 343h0M144 385h0M144 344h0M144 340h0M145 349h0M145 340h0M145 352h0M145 357h0M145 343h0M145 364h0M145 361h0M145 355h0M145 353h0M145 346h0M145 353h0M146 349h0M146 350h0M146 353h0M146 360h0M146 340h0M146 353h0M147 347h0M147 341h0M147 364h0M147 352h0M147 351h0M147 356h0M147 357h0M147 352h0M147 343h0M147 345h0M147 364h0M147 345h0"/>
<path stroke="#0000a3" d="M148 352h0M148 341h0M148 353h0M148 362h0M148 343h0M148 361h0M148 343h0M148 367h0M148 351h0M148 359h0M148 372h0M148 356h0M148 349h0M148 343h0M148 343h0M149 350h0M149 342h0M149 353h0M149 355h0M149 353h0M149 344h0M149 355h0M149 367h0M149 352h0M149 354h0M149 349h0M149 351h0M149 345h0M149 347h0M150 362h0M150 350h0M150 353h0M150 355h0M150 356h0M150 354h0M150 359h0M150 359h0M150 339h0M151 355h0M151 352h0M151 352h0M151 353h0M151 353h0M151 359h0M151 362h0M151 354h0M151 359h0M151 374h0M151 348h0M151 339h0M151 351h0M151 361h0M151 361h0M152 396h0M152 356h0M152 347h0M152 348h0M152 400h0M152 371h0M152 348h0M152 344h0M153 359h0M153 357h0M153 347h0M153 397h0M153 353h0M153 352h0M153 350h0M153 362h0M153 358h0M153 354h0M153 346h0M153 355h0M154 352h0M154 355h0M154 381h0M154 360h0M154 353h0M154 362h0M154 356h0M154 346h0M154 345h0M154 351h0M154 354h0M154 359h0M154 348h0M154 343h0M154 350h0M154 339h0M154 340h0M154 344h0M155 341h0M155 342h0M155 383h0M155 344h0M155 398h0M155 343h0M155 351h0M155 346h0M155 338h0M155 359h0M155 347h0M155 343h0M155 362h0M155 355h0M155 348h0M155 364h0M156 352h0M156 347h0M156 356h0M156 355h0M156 348h0M156 355h0M156 354h0M156 346h0M156 352h0M156 359h0M156 356h0M157 346h0M157 356h0M157 352h0M157 353h0M157 360h0M157 367h0M157 352h0M157 346h0M157 364h0M157 351h0M157 346h0M158 398h0M158 345h0M158 356h0M158 348h0M158 343h0M158 357h0M158 352h0M158 358h0M158 345h0M158 352h0M159 355h0M159 347h0M159 353h0M159 341h0M159 351h0M159 354h0M159 357h0M159 346h0M159 348h0M159 351h0M159 349h0M159 363h0M160 351h0M160 351h0M160 348h0M160 360h0M160 348h0M160 376h0M160 346h0M160 354h0M160 346h0M160 349h0M160 360h0M160 363h0M161 348h0"/>
<path stroke="#0000b1" d="M161 366h0M161 351h0M161 359h0M161 353h0M161 347h0M161 350h0M161 346h0M162 367h0M162 344h0M162 355h0M162 361h0M162 360h0M162 355h0M162 356h0M162 362h0M162 349h0M162 358h0M162 354h0M162 360h0M162 355h0M162 360h0M163 346h0M163 346h0M163 352h0M163 370h0M163 354h0M163 359h0M163 365h0M163 340h0M163 351h0M163 353h0M163 352h0M163 353h0M164 353h0M164 363h0M164 353h0M164 373h0M164 342h0M164 349h0M164 362h0M164 355h0M164 338h0M164 357h0M165 354h0M165 396h0M165 352h0M165 366h0M165 354h0M165 352h0M165 352h0M165 351h0M165 350h0M165 350h0M165 357h0M165 356h0M166 359h0M166 351h0M166 361h0M166 344h0M166 354h0M166 351h0M166 353h0M166 347h0M166 364h0M166 351h0M167 378h0M167 360h0M167 347h0M167 349h0M167 358h0M167 358h0M167 354h0M167 355h0M167 359h0M167 372h0M167 359h0M167 347h0M167 361h0M167 354h0M167 356h0M167 360h0M167 353h0M168 359h0M168 369h0M168 358h0M168 358h0M168 352h0M168 342h0M168 354h0M168 354h0M168 366h0M169 345h0M169 360h0M169 354h0M169 344h0M169 363h0M169 362h0M169 354h0M169 370h0M169 355h0M169 346h0M169 357h0M169 353h0M169 362h0M169 344h0M169 361h0M169 352h0M170 357h0M170 353h0M170 368h0M170 360h0M170 362h0M170 366h0M170 368h0M170 349h0M171 360h0M171 356h0M171 350h0M171 365h0M171 361h0M171 364h0M171 348h0M171 373h0M171 360h0M171 360h0M171 357h0M171 351h0M171 346h0M171 362h0M171 351h0M172 358h0M172 362h0M172 354h0M172 353h0M172 346h0M172 357h0M172 345h0M172 369h0M172 346h0M172 373h0M173 348h0M173 364h0M173 364h0M173 365h0M173 351h0M173 359h0M173 374h0M173 361h0M173 347h0M173 342h0M174 348h0M174 357h0M174 349h0M174 361h0M174 349h0"/>
<path stroke="#0000bf" d="M174 356h0M174 349h0M174 356h0M174 353h0M174 359h0M175 349h0M175 354h0M175 355h0M175 338h0M175 356h0M175 353h0M175 355h0M175 353h0M175 349h0M175 363h0M175 354h0M175 356h0M175 343h0M175 348h0M176 357h0M176 358h0M176 344h0M176 368h0M176 363h0M176 342h0M176 366h0M177 350h0M177 368h0M178 357h0M178 366h0M178 362h0M178 354h0M178 355h0M178 353h0M178 343h0M179 356h0M179 370h0M179 359h0M179 364h0M179 373h0M179 348h0M179 358h0M179 365h0M179 368h0M180 390h0M180 374h0M180 360h0M180 353h0M180 347h0M180 373h0M180 372h0M180 352h0M180 367h0M181 354h0M181 347h0M181 372h0M181 352h0M181 344h0M181 351h0M182 344h0M182 380h0M182 362h0M182 369h0M182 361h0M183 343h0M183 374h0M183 353h0M183 358h0M183 356h0M183 359h0M184 342h0M184 359h0M184 383h0M184 353h0M184 378h0M184 351h0M184 365h0M185 378h0M185 382h0M185 373h0M185 378h0M185 356h0M186 383h0"/>
<path stroke="#0000cd" d="M187 386h0M188 381h0M189 378h0M189 381h0M189 377h0M190 380h0M190 384h0M190 388h0M190 370h0M190 384h0M190 380h0M190 380h0M190 374h0M190 389h0M191 386h0M191 390h0M192 384h0M192 368h0M192 377h0M192 380h0M192 386h0M192 360h0M192 389h0M193 375h0M193 380h0M193 381h0M193 380h0M193 350h0M193 391h0M194 359h0M195 399h0M196 356h0M196 394h0M196 387h0M197 390h0M197 381h0M197 389h0M198 395h0M198 392h0M199 392h0M199 386h0M199 385h0M199 388h0M200 389h0"/>
<path stroke="#0000dc" d="M200 397h0M201 386h0M201 390h0M201 389h0M201 389h0M201 393h0M202 395h0M202 391h0M202 390h0M202 393h0M203 395h0M203 397h0M204 383h0M205 392h0M206 385h0M206 396h0M207 379h0M208 397h0M208 386h0M209 363h0M209 358h0M209 390h0M209 367h0M209 357h0M210 391h0M210 373h0M210 380h0M211 384h0M211 377h0M211 391h0M212 385h0M212 383h0M212 372h0M212 393h0M213 393h0M213 369h0M213 392h0"/>
<path stroke="#0000ea" d="M214 373h0M216 393h0M216 388h0M217 394h0M218 388h0M218 378h0M218 385h0M219 393h0M219 380h0M220 392h0M221 393h0M221 390h0M221 394h0M222 377h0M222 381h0M222 388h0M223 389h0M223 379h0M223 391h0M223 391h0M223 387h0M223 395h0M225 374h0M225 394h0M225 393h0M225 389h0M225 368h0M226 396h0M226 390h0M226 398h0M226 391h0M226 386h0M226 391h0"/>
<path stroke="#0000f8" d="M227 382h0M227 355h0M227 388h0M227 391h0M228 382h0M229 398h0M229 372h0M229 383h0M229 380h0M229 375h0M230 370h0M230 389h0M231 389h0M231 371h0M231 382h0M231 381h0M231 389h0M232 397h0M232 391h0M233 388h0M233 388h0M233 389h0M234 392h0M234 390h0M234 396h0M235 379h0M235 394h0M235 383h0M235 396h0M235 399h0M235 387h0M236 359h0M236 390h0M236 388h0M236 382h0M237 397h0M237 381h0M238 391h0M238 396h0M239 387h0M239 371h0M239 389h0M239 382h0"/>
<path stroke="#0007ff" d="M240 387h0M240 387h0M241 396h0M242 375h0M242 384h0M242 402h0M242 382h0M242 389h0M243 390h0M243 387h0M243 380h0M243 381h0M244 394h0M244 389h0M244 385h0M245 383h0M245 374h0M245 375h0M246 396h0M246 389h0M246 374h0M247 360h0M247 327h0M247 391h0M247 385h0M247 388h0M247 387h0M247 392h0M248 397h0M248 389h0M248 387h0M248 387h0M249 382h0M249 390h0M249 378h0M250 381h0M250 321h0M251 376h0M251 374h0M252 331h0M252 379h0M252 381h0M252 384h0"/>
<path stroke="#0015ff" d="M253 385h0M253 378h0M254 386h0M254 381h0M256 370h0M256 353h0M256 345h0M256 364h0M256 386h0M257 386h0M257 381h0M257 380h0M258 370h0M259 382h0M259 380h0M261 386h0M261 387h0M261 373h0M262 388h0M262 384h0M262 380h0M263 382h0M263 387h0M263 385h0M264 392h0M264 368h0M264 384h0M265 393h0M265 364h0M265 371h0M266 392h0"/>
<path stroke="#0023ff" d="M267 386h0M267 392h0M267 386h0M268 381h0M268 397h0M269 395h0M269 384h0M270 393h0M271 375h0M271 382h0M271 388h0M271 384h0M271 394h0M271 381h0M271 380h0M272 392h0M272 382h0M272 388h0M272 403h0M272 369h0M272 325h0M273 378h0M273 391h0M273 395h0M273 380h0M273 385h0M274 366h0M274 383h0M274 371h0M274 335h0M275 388h0M275 382h0M275 385h0M275 312h0M275 383h0M275 387h0M276 381h0M276 386h0M276 322h0M276 393h0M276 385h0M276 388h0M276 390h0M276 391h0M276 393h0M276 397h0M278 392h0M278 395h0M278 381h0M278 397h0M279 371h0"/>
<path stroke="#0032ff" d="M280 391h0M280 371h0M280 340h0M280 379h0M280 377h0M281 398h0M281 379h0M281 392h0M281 392h0M282 391h0M282 379h0M282 299h0M282 386h0M282 362h0M282 383h0M282 390h0M283 350h0M284 399h0M284 391h0M284 388h0M285 367h0M285 380h0M285 311h0M286 327h0M286 384h0M286 360h0M287 389h0M288 387h0M288 386h0M288 358h0M288 386h0M288 389h0M289 392h0M289 393h0M289 373h0M290 380h0M290 391h0M290 393h0M291 393h0M291 389h0M292 388h0M292 353h0M292 356h0"/>
<path stroke="#0040ff" d="M292 407h0M292 380h0M292 381h0M293 379h0M293 429h0M293 391h0M293 378h0M293 388h0M294 387h0M294 409h0M294 396h0M294 396h0M294 372h0M294 386h0M294 388h0M294 366h0M295 414h0M296 371h0M296 382h0M297 441h0M298 363h0M298 391h0M298 344h0M298 377h0M299 389h0M299 397h0M299 383h0M299 401h0M299 394h0M299 395h0M300 385h0M300 397h0M300 408h0M300 404h0M300 395h0M300 389h0M301 378h0M301 390h0M302 384h0M302 393h0M302 400h0M302 383h0M302 392h0M303 424h0M303 380h0M303 388h0M303 391h0M303 401h0M303 382h0M303 390h0M304 394h0M304 383h0M304 383h0M304 388h0M305 392h0M305 390h0M305 390h0M305 397h0"/>
<path stroke="#004eff" d="M306 439h0M306 386h0M307 384h0M307 416h0M307 379h0M307 443h0M307 377h0M308 391h0M308 395h0M308 384h0M308 393h0M308 432h0M308 390h0M308 383h0M309 405h0M309 389h0M309 395h0M310 383h0M310 393h0M310 388h0M310 383h0M310 440h0M310 389h0M310 386h0M310 415h0M310 431h0M312 389h0M312 394h0M312 400h0M312 385h0M312 388h0M312 391h0M312 379h0M312 430h0M313 379h0M313 403h0M313 380h0M313 442h0M313 394h0M313 413h0M314 434h0M314 418h0M314 437h0M314 439h0M315 379h0M315 384h0M315 383h0M315 398h0M315 403h0M315 381h0M316 382h0M316 387h0M316 431h0M316 396h0M316 391h0M316 433h0M316 388h0M316 398h0M316 351h0M316 435h0M317 393h0M317 398h0M317 390h0M317 385h0M317 388h0M317 383h0M317 390h0M317 377h0M318 425h0M318 390h0M318 393h0M318 394h0M318 382h0M318 395h0"/>
<path stroke="#005cff" d="M319 444h0M319 393h0M319 394h0M319 393h0M319 371h0M319 434h0M320 390h0M320 389h0M320 392h0M320 415h0M320 437h0M320 387h0M320 399h0M320 440h0M320 384h0M320 386h0M320 419h0M320 385h0M320 388h0M321 370h0M321 394h0M321 390h0M321 385h0M321 396h0M322 385h0M322 421h0M322 432h0M322 410h0M322 384h0M322 360h0M323 432h0M323 432h0M324 382h0M324 389h0M324 424h0M324 384h0M324 320h0M324 393h0M324 394h0M324 450h0M324 393h0M324 389h0M324 388h0M325 392h0M325 378h0M325 378h0M325 384h0M325 383h0M325 386h0M325 388h0M325 443h0M325 410h0M326 385h0M326 393h0M326 403h0M326 391h0M326 387h0M326 366h0M326 394h0M327 384h0M327 383h0M327 386h0M327 388h0M327 384h0M328 393h0M328 388h0M328 391h0M328 372h0M328 336h0M329 389h0M329 394h0M329 372h0M330 393h0M330 391h0M330 392h0M330 381h0M330 384h0M330 336h0M330 381h0M330 394h0M331 395h0M331 393h0M331 395h0M331 386h0M331 393h0M331 391h0M332 377h0"/>
<path stroke="#006aff" d="M332 386h0M332 383h0M332 388h0M332 389h0M332 384h0M332 388h0M333 388h0M333 394h0M333 382h0M333 389h0M333 389h0M333 388h0M333 395h0M333 375h0M334 385h0M334 388h0M334 389h0M334 391h0M335 346h0M335 376h0M336 389h0M336 362h0M336 396h0M336 378h0M336 400h0M336 393h0M336 387h0M336 382h0M337 387h0M337 387h0M337 387h0M337 379h0M337 391h0M337 387h0M338 386h0M338 393h0M338 384h0M338 375h0M338 393h0M338 385h0M339 336h0M340 392h0M340 383h0M341 386h0M341 380h0M341 387h0M341 367h0M341 324h0M341 385h0M341 383h0M342 381h0M342 391h0M342 406h0M342 388h0M342 383h0M343 396h0M343 396h0M344 389h0M344 382h0M344 386h0M344 339h0M344 393h0M344 383h0M344 391h0"/>
<path stroke="#0078ff" d="M345 388h0M346 386h0M347 381h0M347 374h0M347 384h0M348 376h0M348 391h0M348 383h0M348 378h0M348 384h0M349 385h0M349 394h0M349 388h0M349 403h0M349 390h0M349 395h0M349 394h0M350 379h0M350 374h0M350 384h0M350 398h0M350 379h0M350 385h0M350 387h0M350 379h0M351 382h0M351 381h0M351 373h0M351 400h0M351 389h0M351 379h0M351 396h0M351 374h0M352 375h0M352 389h0M352 382h0M352 379h0M352 383h0M352 372h0M352 391h0M352 348h0M353 381h0M353 383h0M353 383h0M353 388h0M354 358h0M354 392h0M354 384h0M354 394h0M354 390h0M354 393h0M355 372h0M355 386h0M355 387h0M355 359h0M355 390h0M355 384h0M356 377h0M357 370h0M357 383h0M357 387h0M357 386h0M357 378h0M357 374h0M357 388h0M357 384h0M358 379h0M358 380h0"/>
<path stroke="#0087ff" d="M358 373h0M359 390h0M359 383h0M359 373h0M359 398h0M360 393h0M360 380h0M360 377h0M360 379h0M360 393h0M360 374h0M361 395h0M361 384h0M361 386h0M361 383h0M361 397h0M361 378h0M362 371h0M362 372h0M362 384h0M363 388h0M363 385h0M363 392h0M363 378h0M363 374h0M365 385h0M365 394h0M365 375h0M365 387h0M366 367h0M366 375h0M366 370h0M367 387h0M367 380h0M367 385h0M368 395h0M368 397h0M368 382h0M369 374h0M369 388h0M369 386h0M369 375h0M369 371h0M370 383h0M370 382h0M370 389h0M370 389h0M371 382h0"/>
<path stroke="#0095ff" d="M372 384h0M373 385h0M373 384h0M373 384h0M373 388h0M374 386h0M374 387h0M375 377h0M375 391h0M375 386h0M375 388h0M376 387h0M376 396h0M376 399h0M376 378h0M377 384h0M377 374h0M378 393h0M378 384h0M378 403h0M379 378h0M380 388h0M380 384h0M380 370h0M380 395h0M381 371h0M381 399h0M381 388h0M381 378h0M381 386h0M381 389h0M382 389h0M382 389h0M382 393h0M382 375h0M382 388h0M382 368h0M382 385h0M383 398h0M383 387h0M384 391h0M384 389h0M384 395h0M384 393h0M384 378h0M384 394h0"/>
<path stroke="#00a3ff" d="M385 371h0M385 401h0M385 388h0M386 373h0M386 383h0M386 393h0M387 387h0M387 390h0M387 369h0M388 390h0M388 405h0M388 366h0M389 397h0M389 397h0M389 387h0M389 397h0M390 378h0M390 385h0M390 398h0M390 373h0M391 389h0M391 386h0M391 384h0M391 388h0M391 393h0M392 401h0M392 381h0M392 380h0M392 380h0M393 388h0M393 388h0M393 384h0M394 403h0M394 397h0M394 373h0M394 387h0M394 370h0M395 386h0M395 372h0M395 391h0M395 367h0M396 393h0M396 387h0M397 384h0M397 391h0"/>
<path stroke="#00b1ff" d="M398 395h0M398 385h0M399 373h0M400 403h0M400 382h0M401 386h0M401 384h0M401 372h0M401 370h0M401 361h0M402 383h0M402 388h0M403 377h0M403 374h0M403 395h0M404 367h0M404 377h0M404 372h0M404 383h0M405 371h0M405 390h0M405 376h0M407 385h0M408 403h0M409 398h0M410 398h0M410 388h0M411 387h0"/>
<path stroke="#00bfff" d="M411 370h0M411 396h0M411 364h0M414 401h0M414 403h0M415 366h0M417 389h0M420 403h0M421 384h0M421 400h0M421 411h0M424 383h0"/>
<path stroke="#00cdff" d="M424 378h0M425 407h0M425 404h0M426 404h0M426 391h0M427 382h0M427 403h0M429 392h0M429 401h0M430 404h0M431 391h0M431 401h0M432 412h0M432 393h0M432 396h0M434 393h0M435 417h0M435 406h0M435 405h0M435 403h0M435 411h0M435 409h0M436 409h0M436 369h0M436 367h0M437 408h0M437 396h0M437 428h0"/>
<path stroke="#00dcff" d="M437 402h0M438 411h0M439 423h0M440 402h0M441 406h0M442 401h0M442 411h0M442 406h0M442 416h0M443 421h0M443 412h0M444 406h0M444 401h0M445 408h0M446 399h0M446 415h0M446 392h0M447 408h0M448 407h0M448 411h0M448 405h0M448 407h0M448 409h0M449 394h0M449 412h0M449 404h0M450 418h0M450 399h0M450 429h0M450 403h0"/>
<path stroke="#00eaff" d="M450 433h0M451 396h0M451 416h0M451 414h0M452 394h0M452 408h0M452 411h0M453 408h0M453 424h0M453 409h0M453 390h0M453 401h0M454 409h0M454 398h0M455 403h0M455 397h0M455 419h0M455 392h0M455 404h0M455 398h0M455 414h0M456 398h0M456 400h0M456 402h0M457 408h0M457 403h0M457 402h0M457 384h0M457 407h0M458 409h0M458 416h0M458 407h0M459 416h0M459 399h0M459 403h0M459 405h0M459 408h0M459 406h0M460 408h0M460 408h0M460 413h0M461 402h0M461 409h0M462 379h0M462 398h0M462 396h0M463 419h0M463 406h0M463 417h0M463 405h0"/>
<path stroke="#00f8ff" d="M464 400h0M464 409h0M464 407h0M465 402h0M465 417h0M465 404h0M465 401h0M465 400h0M466 415h0M466 409h0M467 408h0M467 402h0M467 404h0M467 405h0M468 424h0M468 414h0M468 411h0M468 406h0M468 418h0M469 376h0M470 407h0M470 409h0M470 398h0M470 411h0M471 384h0M471 402h0M471 406h0M472 415h0M472 407h0M473 402h0M473 402h0M475 423h0M476 373h0"/>
<path stroke="#07fff8" d="M477 371h0M478 424h0M478 409h0M479 426h0M479 406h0M479 412h0M480 405h0M481 405h0M483 427h0M489 431h0"/>
<path stroke="#15ffea" d="M499 417h0M501 418h0"/>
<path stroke="#23ffdc" d="M504 404h0M506 421h0M507 422h0M508 430h0M509 411h0M510 431h0M510 420h0M511 421h0M511 419h0M512 436h0M516 429h0"/>
<path stroke="#32ffcd" d="M518 420h0M519 422h0M520 421h0M523 419h0M525 431h0M529 426h0"/>
<path stroke="#40ffbf" d="M529 414h0M530 416h0M530 414h0M532 417h0M533 421h0M533 407h0M533 424h0M536 408h0M539 426h0M539 414h0M540 430h0M540 441h0"/>
<path stroke="#4effb1" d="M543 426h0M543 423h0M543 435h0M546 411h0M547 431h0M549 412h0M551 424h0M551 422h0M551 426h0M554 421h0M555 408h0"/>
<path stroke="#5cffa3" d="M556 441h0M556 428h0M559 421h0M559 428h0M559 437h0M559 438h0M560 434h0M562 426h0M563 433h0M563 418h0M564 400h0M564 423h0M567 438h0M568 421h0M568 443h0M568 439h0"/>
<path stroke="#6aff95" d="M571 423h0M571 418h0M572 434h0M572 427h0M573 440h0M573 416h0M573 428h0M574 432h0M577 413h0M577 414h0M578 422h0M578 411h0M579 422h0M580 403h0M580 440h0M581 436h0M582 410h0M582 427h0M582 438h0"/>
<path stroke="#78ff87" d="M582 431h0M583 455h0M583 423h0M583 425h0M584 418h0M585 441h0M585 432h0M586 424h0M587 435h0M587 428h0M588 421h0M589 414h0M589 431h0M589 429h0M589 426h0M590 427h0M590 407h0M590 424h0M591 413h0M591 415h0M591 431h0M591 413h0M592 378h0M592 411h0M592 424h0M592 427h0M594 406h0M594 412h0M594 432h0"/>
<path stroke="#87ff78" d="M596 425h0M597 430h0M597 418h0M597 427h0M598 440h0M600 410h0M600 443h0M601 430h0M601 428h0M602 418h0M602 420h0M603 426h0M603 416h0M604 410h0M606 416h0M607 435h0M607 431h0M608 426h0"/>
<path stroke="#95ff6a" d="M610 429h0M610 437h0M610 432h0M610 406h0M611 430h0M611 411h0M611 433h0M611 420h0M611 431h0M611 416h0M612 438h0M612 432h0M612 428h0M612 404h0M612 426h0M612 418h0M613 428h0M613 421h0M613 426h0M614 401h0M614 394h0M614 428h0M615 424h0M616 407h0M617 393h0M618 423h0M618 402h0M620 383h0M620 402h0"/>
<path stroke="#a3ff5c" d="M622 419h0M622 433h0M622 408h0M622 386h0M623 397h0M623 399h0M623 389h0M623 422h0M625 402h0M626 430h0M627 392h0M627 417h0M627 378h0M628 382h0M628 378h0M629 387h0M630 434h0M630 382h0M630 450h0M630 432h0M631 419h0M631 413h0M631 374h0M632 424h0M632 412h0M632 406h0M633 425h0M633 426h0M633 442h0M633 406h0M633 433h0M633 422h0M633 373h0M634 420h0M634 422h0M634 424h0M634 380h0M634 371h0M634 437h0M634 372h0M635 445h0"/>
<path stroke="#b1ff4e" d="M635 370h0M635 382h0M636 372h0M636 416h0M637 413h0M638 372h0M639 421h0M639 454h0M641 362h0M642 413h0M642 430h0M643 414h0M644 363h0M644 413h0M644 429h0M645 434h0M645 426h0M647 369h0"/>
<path stroke="#bfff40" d="M648 422h0M649 434h0M650 448h0M651 428h0M652 351h0M652 417h0M652 351h0M652 426h0M652 432h0M652 412h0M654 430h0M654 427h0M654 432h0M654 425h0M654 440h0M655 356h0M656 362h0M656 420h0M656 427h0M656 429h0M657 426h0M658 360h0M659 429h0M660 428h0M661 344h0"/>
<path stroke="#cdff32" d="M662 412h0M662 413h0M662 422h0M662 424h0M662 433h0M663 440h0M663 432h0M663 437h0M663 420h0M663 424h0M663 424h0M663 411h0M664 406h0M664 436h0M664 354h0M665 407h0M666 348h0M666 439h0M667 421h0M668 424h0M669 423h0M671 419h0M671 416h0M672 424h0M672 420h0M672 424h0M672 420h0M672 422h0M673 396h0M673 442h0M673 424h0M673 451h0M673 430h0M673 418h0M673 410h0M673 432h0M673 410h0M673 441h0M673 425h0M674 438h0M674 456h0M674 405h0M674 426h0M674 433h0M674 426h0"/>
<path stroke="#dcff23" d="M674 420h0M674 431h0M676 338h0M677 351h0M678 422h0M679 431h0M679 360h0M681 354h0M682 411h0M682 452h0M682 392h0M682 435h0M682 415h0M683 417h0M683 423h0M683 418h0M683 422h0M683 429h0M683 415h0M683 458h0M683 428h0M684 429h0M684 420h0M685 425h0M687 421h0M687 402h0"/>
<path stroke="#eaff15" d="M688 417h0M688 447h0M692 376h0M692 425h0M693 415h0M693 434h0M693 420h0M693 424h0M694 387h0M694 419h0M694 420h0M694 416h0M695 418h0M695 425h0M695 350h0M696 473h0M696 430h0M696 410h0M698 430h0M700 430h0M700 436h0M700 434h0M700 415h0M700 449h0"/>
<path stroke="#f8ff07" d="M701 401h0M702 414h0M702 445h0M702 448h0M702 425h0M702 430h0M702 427h0M703 434h0M703 418h0M703 382h0M703 435h0M703 402h0M703 398h0M703 469h0M704 438h0M704 383h0M704 426h0M704 421h0M704 422h0M704 426h0M704 427h0M704 424h0M704 432h0M705 381h0M705 437h0M705 425h0M705 347h0M706 407h0M706 414h0M708 421h0M711 428h0M711 423h0M711 348h0M711 418h0M712 440h0M713 409h0M714 423h0M714 428h0"/>
<path stroke="#fff800" d="M714 438h0M714 453h0M714 379h0M714 351h0M715 425h0M715 432h0M715 413h0M716 424h0M716 368h0M718 428h0M722 442h0M723 441h0M723 437h0M723 443h0M723 386h0M723 422h0M724 430h0M724 451h0M724 450h0M724 441h0M724 423h0M724 423h0M724 378h0M725 378h0M727 380h0"/>
<path stroke="#ffea00" d="M727 372h0M731 432h0M733 444h0M733 415h0M733 409h0M734 417h0M737 369h0M737 369h0M737 401h0M737 359h0M737 377h0M737 350h0M737 450h0M737 361h0M738 351h0M738 359h0M738 365h0M738 370h0M739 344h0M739 387h0M739 351h0M739 406h0M739 346h0M739 394h0M740 345h0M740 352h0M740 363h0M740 412h0"/>
<path stroke="#ffdc00" d="M740 393h0M740 383h0M740 390h0M740 374h0M740 411h0M741 395h0M742 392h0M742 451h0M743 398h0M743 358h0M743 405h0M743 434h0M743 350h0M743 394h0M743 371h0M743 433h0M743 352h0M743 433h0M744 412h0M744 425h0M744 386h0M744 401h0M744 432h0M744 375h0M744 428h0M744 433h0M744 347h0M744 371h0M744 391h0M744 350h0M744 388h0M744 405h0M745 406h0M745 436h0M745 394h0M745 365h0M745 425h0M745 422h0M745 381h0M745 356h0M745 394h0M746 404h0M746 394h0M746 390h0M746 342h0M746 351h0M748 435h0M749 427h0M749 420h0M753 441h0M753 445h0"/>
<path stroke="#ffcd00" d="M753 431h0M753 439h0M754 420h0M754 433h0M754 424h0M754 349h0M754 426h0M754 437h0M755 431h0M755 442h0M755 439h0M755 440h0M756 447h0M756 431h0M757 434h0M758 441h0M758 432h0M763 364h0M764 441h0M764 441h0M764 425h0M764 423h0M764 436h0M764 431h0M765 439h0M765 435h0M765 442h0M765 455h0M766 433h0M766 426h0"/>
<path stroke="#ffbf00" d="M767 447h0M768 443h0M768 431h0M768 418h0M768 423h0M769 420h0M769 429h0M769 395h0M769 425h0M770 413h0M770 444h0M770 431h0M770 440h0M771 400h0M773 434h0M773 447h0M773 438h0M774 436h0M774 435h0M774 435h0M774 431h0M774 427h0M774 360h0M774 443h0M774 435h0M774 419h0M774 437h0M774 419h0M774 442h0M774 429h0M774 348h0M774 432h0M775 430h0M775 350h0M775 430h0M775 428h0M775 431h0M776 445h0M776 408h0M776 422h0M776 430h0M776 411h0M776 431h0M777 434h0M779 443h0"/>
<path stroke="#ffb100" d="M780 436h0M781 428h0M783 330h0M783 328h0M783 446h0M784 444h0M784 428h0M785 451h0M785 424h0M785 432h0M785 455h0M785 441h0M785 429h0M786 412h0M787 434h0M787 424h0M788 426h0M788 382h0M788 381h0M788 381h0M789 359h0M789 415h0M789 373h0M790 452h0M790 411h0M790 385h0M790 412h0M790 418h0M791 426h0M791 418h0M791 425h0M791 401h0M791 364h0M791 379h0M791 381h0M791 392h0M792 410h0M792 379h0M792 387h0M792 424h0M792 426h0M792 396h0M792 395h0M792 368h0"/>
<path stroke="#ffa300" d="M793 420h0M793 424h0M793 423h0M793 415h0M794 452h0M794 432h0M794 418h0M794 433h0M794 429h0M794 417h0M795 435h0M795 443h0M795 404h0M795 451h0M795 373h0M795 361h0M795 360h0M795 420h0M795 407h0M795 435h0M795 416h0M795 421h0M796 426h0M796 440h0M796 419h0M796 431h0M797 425h0M798 431h0M799 426h0M801 437h0M804 431h0M804 438h0M804 406h0M805 447h0M805 430h0M805 423h0M805 433h0M805 437h0M805 447h0M805 375h0M805 427h0M805 461h0M805 429h0M805 419h0M806 436h0M806 452h0"/>
<path stroke="#ff9500" d="M806 437h0M806 401h0M806 398h0M806 428h0M808 447h0M809 435h0M809 384h0M809 421h0M810 406h0M810 406h0M810 430h0M811 459h0M811 427h0M811 431h0M811 427h0M812 424h0M812 425h0M812 427h0M812 434h0M813 427h0M813 442h0M814 453h0M814 410h0M815 413h0M815 395h0M815 446h0M815 412h0M815 431h0M815 470h0M815 442h0M815 464h0M815 429h0M815 421h0M815 414h0M816 414h0M816 421h0M816 396h0M816 423h0M816 421h0M816 419h0M816 350h0M816 414h0M816 448h0M816 432h0M817 452h0"/>
<path stroke="#ff8700" d="M819 368h0M820 422h0M820 407h0M820 410h0M824 400h0M824 393h0M825 427h0M825 421h0M825 428h0M825 433h0M825 346h0M825 410h0M825 425h0M825 428h0M825 394h0M825 384h0M826 406h0M826 418h0M826 448h0M826 428h0M826 432h0M826 437h0M826 410h0M826 444h0M826 455h0M826 399h0M826 444h0M827 454h0M827 418h0M827 450h0M827 425h0M827 409h0M827 426h0M827 420h0M827 422h0M829 423h0M830 397h0M831 404h0M831 347h0M832 431h0M832 425h0"/>
<path stroke="#ff7800" d="M832 422h0M834 424h0M835 452h0M835 458h0M836 412h0M836 417h0M836 430h0M836 420h0M836 441h0M836 421h0M836 424h0M837 408h0M837 423h0M837 408h0M837 426h0M837 428h0M837 424h0M837 426h0M837 421h0M838 422h0M839 393h0M839 419h0M840 421h0M842 450h0M842 414h0M844 418h0M845 417h0M845 419h0"/>
<path stroke="#ff6a00" d="M846 455h0M846 457h0M846 426h0M846 406h0M846 413h0M846 428h0M846 421h0M846 438h0M846 412h0M846 445h0M847 427h0M847 417h0M847 418h0M847 424h0M848 443h0M848 440h0M848 410h0M848 444h0M848 408h0M849 429h0M851 414h0M851 408h0M851 421h0M852 393h0M852 413h0M852 414h0M852 360h0M852 392h0M852 422h0M852 413h0M852 358h0M852 347h0M852 407h0M853 378h0M853 418h0M853 400h0M853 383h0M853 408h0M853 377h0M854 372h0M854 403h0M854 423h0M854 427h0M854 408h0M854 358h0M854 419h0M854 388h0M854 367h0M855 415h0M855 422h0M855 424h0M855 376h0M855 429h0M856 418h0M856 356h0M856 425h0M856 376h0M856 418h0M856 408h0M856 419h0M856 342h0M857 459h0M857 419h0M857 406h0M857 417h0M858 419h0M859 412h0"/>
<path stroke="#ff5c00" d="M863 430h0M863 449h0M863 428h0M864 420h0M865 408h0M865 433h0M865 431h0M865 432h0M865 452h0M865 435h0M865 437h0M866 426h0M866 406h0M866 428h0M866 400h0M866 440h0M866 432h0M866 396h0M867 432h0M867 450h0M867 442h0M867 433h0M868 399h0M868 387h0M869 444h0M869 415h0M870 406h0M870 415h0"/>
<path stroke="#ff4e00" d="M875 384h0M875 424h0M875 429h0M875 408h0M875 413h0M876 427h0M876 408h0M876 430h0M876 387h0M876 431h0M876 413h0M877 404h0M877 431h0M877 432h0M877 407h0M877 405h0M877 416h0M877 425h0M877 410h0M878 400h0M878 423h0M878 416h0M879 414h0M879 423h0M880 426h0M885 414h0"/>
<path stroke="#ff4000" d="M885 426h0M885 407h0M886 402h0M886 422h0M887 422h0M887 422h0M887 428h0M887 397h0M887 401h0M887 406h0M887 415h0M887 420h0M887 413h0M887 432h0M890 400h0M890 416h0M893 432h0M896 413h0M896 408h0M896 406h0M897 408h0M897 425h0M897 413h0"/>
<path stroke="#ff3200" d="M900 419h0M900 412h0M905 425h0M906 404h0M907 412h0M907 423h0M909 414h0M909 411h0"/>
<path stroke="#ff2300" d="M911 403h0M912 402h0M913 416h0M914 334h0M914 372h0M914 393h0M914 330h0M914 390h0M915 393h0M915 365h0M915 370h0M915 380h0M915 360h0M915 386h0M916 340h0M916 381h0M916 385h0M916 376h0M916 389h0M916 366h0M916 363h0M916 368h0M916 440h0M916 392h0M917 387h0M917 385h0M917 386h0M917 342h0M917 378h0M917 353h0M917 387h0M917 443h0M917 332h0M917 406h0M917 393h0M918 391h0M918 343h0M918 392h0M918 397h0M919 371h0M919 349h0M919 407h0M919 335h0M919 356h0M919 390h0M919 392h0M919 340h0M920 397h0M920 390h0M920 385h0M920 389h0M920 366h0M920 386h0M920 392h0M920 387h0M920 390h0M920 348h0M920 363h0M920 394h0M920 383h0M921 333h0M921 384h0M921 365h0M921 375h0M921 335h0M921 376h0M921 363h0M921 389h0M921 391h0M921 396h0M921 346h0M921 395h0M922 383h0M922 366h0M922 457h0M922 364h0M922 360h0M922 382h0M922 391h0M922 392h0M923 393h0M923 394h0M923 427h0M923 389h0M923 394h0M923 390h0M923 390h0M924 391h0M924 394h0M924 375h0M924 386h0M924 390h0M924 376h0M924 382h0"/>
<path stroke="#ff1500" d="M924 385h0M924 396h0M925 368h0M925 453h0M925 372h0M925 389h0M925 384h0M925 395h0M925 383h0M925 387h0M925 389h0M926 445h0M926 388h0M926 393h0M926 378h0M926 408h0M926 389h0M926 389h0M926 443h0M926 408h0M926 440h0M926 390h0M926 389h0M927 443h0M927 410h0M927 447h0M927 448h0M927 365h0M927 401h0M927 375h0M927 380h0M927 408h0M927 393h0M927 374h0M927 388h0M927 438h0M927 432h0M927 383h0M927 382h0M927 411h0M927 391h0M927 450h0M928 407h0M928 447h0M928 384h0M928 392h0M928 413h0M928 409h0M928 444h0M928 390h0M928 392h0M928 431h0M928 448h0M929 401h0M929 393h0M929 396h0M929 387h0M929 375h0M929 381h0M929 400h0M930 379h0M930 389h0M930 383h0M930 387h0M930 413h0M930 435h0M930 371h0M931 375h0M931 380h0M931 390h0M931 381h0M931 403h0M931 395h0M931 374h0M931 394h0M931 386h0M931 383h0M932 392h0M932 414h0M932 419h0M932 374h0M932 392h0M932 376h0M932 396h0M932 462h0M932 397h0M932 390h0M933 398h0M933 392h0M933 381h0M934 420h0M934 381h0M934 382h0M934 384h0M934 393h0M934 441h0M934 406h0M934 392h0M934 382h0M935 389h0M935 403h0M935 398h0M935 381h0M935 397h0M935 406h0M935 396h0M935 406h0M935 401h0M935 391h0M936 429h0M936 384h0M936 455h0M936 411h0M936 390h0M936 414h0M936 417h0M936 406h0M936 409h0M936 408h0M936 401h0M937 426h0M937 387h0M937 437h0M937 419h0M937 397h0M937 413h0M937 421h0M937 447h0M937 403h0M937 406h0M937 407h0M937 414h0M937 422h0M937 409h0M937 435h0M937 398h0M937 382h0M937 396h0M937 403h0M937 440h0M937 414h0"/>
<path stroke="#ff0700" d="M938 434h0M938 422h0M938 438h0M938 440h0M938 438h0M938 446h0M938 431h0M938 428h0M938 443h0M938 394h0M938 414h0M938 374h0M938 417h0M938 432h0M938 434h0M938 434h0M938 405h0M938 393h0M938 382h0M938 378h0M938 452h0M938 392h0M938 440h0M938 418h0M938 370h0M938 386h0M938 399h0M938 442h0M939 448h0M939 386h0M939 403h0M939 392h0M939 440h0M939 392h0M939 393h0M939 403h0M939 389h0M939 396h0M940 402h0M940 398h0M941 407h0M941 409h0M941 365h0M941 399h0M941 395h0M941 379h0M941 406h0M941 401h0M941 396h0M942 389h0M942 402h0M942 389h0M942 393h0M942 405h0M943 391h0M943 391h0M943 403h0M944 385h0M944 389h0M944 386h0M945 390h0M945 409h0M945 391h0M945 382h0M945 388h0M945 402h0M946 393h0M946 370h0M946 379h0M946 381h0M946 422h0M946 443h0M946 378h0M946 437h0M946 438h0M946 380h0M947 452h0M947 438h0M947 413h0M947 448h0M947 414h0M947 443h0M947 424h0M947 429h0M947 431h0M947 440h0M947 416h0M947 432h0M947 444h0M947 419h0M948 444h0M948 391h0M948 431h0M948 432h0M948 428h0M948 422h0M948 441h0M948 406h0M948 433h0M948 406h0M948 446h0M948 384h0M948 416h0M948 396h0M948 405h0M949 400h0M949 428h0M949 422h0M949 410h0M949 430h0M950 441h0M950 403h0M951 413h0"/>
<path stroke="#f80000" d="M951 445h0M951 394h0M951 428h0M951 403h0M951 389h0M952 403h0M953 413h0M955 405h0M956 449h0M956 434h0M957 396h0M957 406h0M957 427h0M957 440h0M957 449h0M957 446h0M957 404h0M957 414h0M958 424h0M958 405h0M958 461h0M958 407h0M958 446h0M958 409h0M958 429h0M958 439h0M958 409h0M958 405h0M958 436h0M958 427h0M958 449h0M958 414h0M958 424h0M959 436h0M959 447h0M959 406h0M959 443h0M959 463h0M960 432h0M960 426h0M963 452h0"/>
<path stroke="#ea0000" d="M964 420h0M965 301h0M965 333h0M965 316h0M965 302h0M966 438h0M966 433h0M966 304h0M966 338h0M966 411h0M966 438h0M967 325h0M967 423h0M967 416h0M967 427h0M967 439h0M967 429h0M967 412h0M967 441h0M968 436h0M968 437h0M968 337h0M968 410h0M968 319h0M968 441h0M968 407h0M968 421h0M968 443h0M968 446h0M968 324h0M968 320h0M968 437h0M968 434h0M968 436h0M968 398h0M968 405h0M968 395h0M968 427h0M968 441h0M968 425h0M968 424h0M969 440h0M969 452h0M969 418h0M969 325h0M969 446h0M969 409h0M969 452h0M969 448h0M969 413h0M969 439h0M969 408h0M970 414h0M970 426h0M970 411h0M971 415h0M971 421h0M973 417h0M975 403h0M975 437h0M976 403h0M976 425h0M977 431h0"/>
<path stroke="#dc0000" d="M977 433h0M977 442h0M978 439h0M978 460h0M978 400h0M978 405h0M978 444h0M978 461h0M978 417h0M978 448h0M978 421h0M978 442h0M978 440h0M978 430h0M978 409h0M979 439h0M979 420h0M979 422h0M979 412h0M980 458h0M980 449h0M980 452h0M982 448h0M982 460h0M984 414h0M984 415h0M984 435h0M985 404h0M985 426h0M986 403h0M986 422h0M987 408h0M987 424h0M987 405h0M987 432h0M987 444h0M987 435h0M987 414h0M987 419h0M988 424h0M988 417h0M988 437h0M988 444h0M988 425h0M988 417h0M988 419h0M988 441h0M988 390h0M988 417h0M988 428h0M988 418h0M988 425h0M988 454h0M988 448h0M988 444h0M988 447h0M988 455h0M989 410h0M989 428h0M989 430h0M989 440h0M989 418h0M989 420h0M989 455h0M990 426h0M990 440h0"/>
<path stroke="#cd0000" d="M991 452h0M993 440h0M993 416h0M996 417h0M997 444h0M998 443h0M998 434h0M998 444h0M998 425h0M998 416h0M998 412h0M999 405h0M999 443h0M999 410h0M999 437h0M999 436h0M1001 442h0M1001 406h0M1001 458h0M1001 442h0M1002 398h0M1002 400h0M1002 449h0M1003 414h0M1003 452h0"/>
<path stroke="#bf0000" d="M1004 431h0M1004 422h0M1005 416h0M1005 401h0M1008 403h0M1008 413h0M1008 404h0M1008 411h0M1008 397h0M1009 428h0M1009 401h0M1009 451h0M1009 393h0M1009 450h0M1009 415h0M1009 455h0M1009 435h0M1009 441h0M1010 434h0M1010 405h0M1010 406h0M1011 429h0M1012 407h0M1012 406h0M1012 405h0M1013 413h0M1013 418h0M1014 407h0M1014 401h0M1014 409h0M1015 408h0M1015 406h0M1015 412h0M1015 423h0M1015 409h0M1015 397h0M1015 400h0M1016 405h0M1016 413h0M1016 415h0M1016 425h0"/>
<path stroke="#b10000" d="M1017 422h0M1017 421h0M1018 422h0M1018 408h0M1018 401h0M1018 426h0M1018 425h0M1019 402h0M1019 420h0M1019 428h0M1019 402h0M1019 428h0M1019 421h0M1020 402h0M1020 405h0M1020 411h0M1020 417h0M1020 425h0M1020 448h0M1021 423h0M1021 420h0M1021 423h0M1022 400h0M1022 407h0M1022 418h0M1022 424h0M1022 415h0M1023 423h0M1023 421h0M1023 419h0M1023 425h0M1023 404h0M1023 426h0M1024 406h0M1024 429h0M1026 421h0M1026 397h0M1026 433h0M1027 428h0M1027 419h0M1027 417h0M1027 423h0M1028 428h0M1028 413h0M1028 412h0M1028 438h0M1028 407h0M1028 410h0M1028 424h0M1029 411h0M1029 431h0M1029 401h0M1029 419h0M1029 419h0M1029 424h0M1030 419h0M1030 410h0M1030 423h0M1030 432h0"/>
<path stroke="#a30000" d="M1030 410h0M1030 418h0M1031 429h0M1031 431h0M1031 446h0M1032 412h0M1032 409h0M1033 437h0M1033 423h0M1035 409h0M1037 432h0M1037 416h0M1038 424h0M1038 406h0M1039 424h0M1039 424h0M1039 439h0M1039 424h0M1039 430h0M1039 419h0M1039 399h0M1039 433h0M1039 425h0M1039 408h0M1039 396h0M1040 423h0M1040 429h0M1040 404h0M1040 431h0M1041 427h0M1041 399h0M1041 441h0"/>
<path stroke="#950000" d="M1045 420h0M1045 441h0M1045 421h0M1048 408h0M1048 406h0M1048 403h0M1048 415h0M1048 426h0M1048 419h0M1049 419h0M1049 426h0M1049 427h0M1049 406h0M1049 424h0M1049 410h0M1049 415h0M1050 429h0M1050 413h0M1050 418h0M1050 419h0M1050 438h0M1051 422h0M1053 427h0M1053 430h0M1054 411h0M1055 401h0"/>
<path stroke="#870000" d="M1057 435h0M1057 414h0M1058 400h0M1058 421h0M1058 413h0M1058 419h0M1059 432h0M1059 409h0M1059 422h0M1059 410h0M1059 425h0M1060 423h0M1060 415h0M1060 405h0M1060 420h0M1061 412h0M1061 429h0M1061 439h0M1062 426h0M1062 417h0M1062 424h0M1062 400h0M1062 408h0M1063 432h0M1064 407h0M1064 405h0M1065 402h0M1065 408h0M1065 405h0M1066 412h0M1066 430h0M1067 409h0M1068 433h0M1068 432h0M1068 429h0M1068 423h0M1068 438h0M1068 394h0M1068 405h0M1068 410h0M1068 419h0M1068 405h0M1068 418h0"/>
</g></g>
<path d="M53.5 147.5H534.5V244.5H53.5Z" stroke="#8a8a8a" stroke-width="1" fill="none" shape-rendering="crispEdges"/>
<path d="M60.5 244.5v-4M60.5 147.5v4M129.5 244.5v-4M129.5 147.5v4M197.5 244.5v-4M197.5 147.5v4M266.5 244.5v-4M266.5 147.5v4M335.5 244.5v-4M335.5 147.5v4M404.5 244.5v-4M404.5 147.5v4M472.5 244.5v-4M472.5 147.5v4M53.5 235.5h4M534.5 235.5h-4M53.5 218.5h4M534.5 218.5h-4M53.5 200.5h4M534.5 200.5h-4M53.5 182.5h4M534.5 182.5h-4M53.5 165.5h4M534.5 165.5h-4M53.5 147.5h4M534.5 147.5h-4" stroke="#9d9d9d" stroke-width="1" fill="none" shape-rendering="crispEdges"/>
<g font-size="12" text-anchor="middle">
<text x="60.6" y="261.8">0</text>
<text x="129.3" y="261.8">100</text>
<text x="198" y="261.8">200</text>
<text x="266.7" y="261.8">300</text>
<text x="335.4" y="261.8">400</text>
<text x="404.1" y="261.8">500</text>
<text x="472.8" y="261.8">600</text>
</g><g font-size="12" text-anchor="end">
<text x="48.5" y="240.4">2</text>
<text x="48.5" y="222.7">4</text>
<text x="48.5" y="205.1">6</text>
<text x="48.5" y="187.5">8</text>
<text x="48.5" y="169.8">10</text>
<text x="48.5" y="152.2">12</text>
</g>
<text font-size="13.2" text-anchor="middle" x="294" y="275">Time (ms)</text>
<text font-size="13.2" text-anchor="middle" transform="translate(26.5 196) rotate(-90)">Altitude (km)</text>
<text class="s" x="495.5" y="162.2">(b)</text>
<g clip-path="url(#cc)"><g transform="scale(.5)" fill="none" stroke-linecap="round" stroke-width="6.4">
<path stroke="#000087" d="M547 654h0M539 626h0M570 626h0M550 654h0M554 626h0M554 651h0M553 652h0M552 617h0M551 652h0M535 616h0M552 650h0M548 649h0M553 649h0M556 623h0M555 652h0M550 645h0M550 647h0M551 651h0M556 650h0M551 644h0M557 644h0M554 650h0M554 643h0M550 641h0M546 637h0M543 617h0M550 636h0M547 636h0M548 639h0M548 629h0M548 637h0M553 634h0M547 630h0M552 636h0M562 611h0M549 619h0M551 634h0M552 627h0M547 632h0M535 618h0M557 625h0M543 624h0M551 630h0M553 622h0M548 630h0M561 611h0M549 626h0M555 626h0M539 619h0M548 628h0M550 620h0M513 616h0M531 637h0M539 613h0M540 623h0M541 622h0M552 623h0M541 621h0M552 619h0M551 623h0M533 627h0M548 620h0M544 625h0M550 618h0M545 616h0M530 620h0M541 622h0M550 618h0M532 628h0M555 619h0M552 613h0M558 623h0M540 629h0M554 635h0M550 609h0M529 611h0M553 638h0M561 628h0M562 631h0M521 629h0M545 629h0M558 618h0M541 613h0M548 629h0M545 610h0M576 629h0M556 616h0M535 624h0M555 636h0M547 618h0M533 620h0M549 620h0M541 626h0M544 631h0M535 625h0M542 620h0M516 626h0M461 636h0M505 626h0M573 619h0M554 621h0M537 610h0M532 618h0M546 630h0M472 615h0M539 626h0M534 627h0M510 613h0M545 629h0M513 620h0M544 622h0M554 617h0M565 622h0M564 629h0M555 623h0M544 628h0M546 597h0M511 613h0M541 621h0M554 617h0"/>
<path stroke="#000095" d="M566 625h0M543 622h0M553 623h0M540 628h0M546 619h0M562 620h0M539 610h0M534 613h0M563 612h0M556 618h0M482 617h0M540 614h0M554 616h0M538 621h0M558 622h0M505 625h0M556 622h0M466 628h0M517 610h0M553 666h0M540 619h0M524 611h0M544 619h0M461 619h0M471 612h0M548 621h0M559 614h0M501 629h0M550 635h0M543 614h0M549 619h0M530 615h0M533 618h0M549 626h0M464 627h0M539 611h0M551 613h0M524 628h0M534 617h0M554 623h0M555 658h0M522 625h0M486 632h0M516 622h0M476 618h0M567 620h0M520 617h0M462 632h0M564 621h0M559 669h0M553 618h0M504 621h0M469 624h0M544 629h0M555 618h0M573 624h0M534 646h0M554 625h0M510 612h0M542 619h0M542 613h0M475 629h0M552 610h0M549 656h0M540 628h0M521 618h0M554 630h0M568 623h0M499 622h0M533 630h0M525 620h0M566 621h0M550 632h0M565 623h0M530 627h0M563 619h0M509 667h0M538 626h0M548 633h0M570 607h0M514 617h0M555 627h0M564 623h0M542 667h0M495 611h0M566 630h0M562 640h0M547 606h0M476 619h0M533 619h0M558 611h0M534 633h0M506 625h0M561 624h0M568 613h0M481 621h0M518 622h0M553 622h0M564 619h0M567 630h0M496 622h0M566 618h0M516 627h0M509 629h0M561 623h0M554 626h0M464 620h0M556 617h0M542 599h0M538 666h0M508 624h0M528 616h0M569 612h0M487 629h0M499 629h0M566 622h0M568 621h0M487 625h0M505 618h0M503 629h0M559 610h0M496 625h0M540 597h0M552 618h0M506 618h0M569 665h0M507 638h0M502 613h0M523 620h0M510 619h0M553 621h0M529 615h0M498 621h0M576 615h0M501 613h0M515 655h0M532 614h0M496 610h0M570 619h0M492 610h0M560 622h0M553 627h0M542 613h0M536 634h0M556 631h0M509 625h0M509 623h0M503 616h0M551 623h0M558 619h0M525 620h0M493 623h0M554 630h0M567 610h0M553 623h0M546 617h0M517 611h0M486 634h0M557 622h0M520 621h0M535 626h0M494 627h0M555 622h0M466 613h0M494 615h0M549 634h0M508 615h0"/>
<path stroke="#0000a3" d="M573 622h0M494 611h0M489 623h0M493 632h0M576 613h0M495 631h0M482 613h0M510 637h0M508 621h0M475 629h0M562 642h0M494 626h0M562 619h0M556 613h0M550 613h0M569 620h0M576 612h0M484 623h0M497 625h0M485 623h0M495 614h0M477 625h0M489 637h0M501 622h0M537 624h0M512 619h0M541 621h0M555 615h0M491 617h0M562 632h0M563 620h0M506 623h0M493 625h0M461 626h0M553 624h0M473 629h0M562 629h0M571 609h0M466 625h0M568 622h0M548 622h0M477 623h0M499 623h0M584 629h0M574 632h0M563 624h0M471 629h0M530 644h0M496 618h0M477 609h0M472 621h0M531 631h0M542 631h0M532 666h0M540 626h0M464 617h0M530 618h0M520 670h0M563 641h0M511 618h0M498 614h0M568 629h0M464 627h0M522 617h0M562 667h0M514 623h0M548 622h0M571 620h0M498 632h0M572 628h0M478 624h0M514 616h0M549 625h0M499 622h0M486 625h0M585 651h0M546 630h0M498 623h0M455 632h0M563 626h0M508 616h0M503 615h0M524 621h0M484 624h0M477 629h0M574 618h0M567 613h0M458 620h0M556 609h0M506 610h0M485 614h0M571 611h0M562 612h0M536 653h0M550 614h0M507 668h0M536 613h0M541 621h0M522 616h0M518 608h0M544 629h0M467 617h0M569 613h0M556 632h0M501 625h0M561 618h0M532 634h0M537 622h0M505 617h0M509 626h0M468 625h0M459 618h0M572 625h0M572 624h0M561 616h0M571 622h0M490 629h0M533 626h0M566 616h0M491 626h0M565 622h0M484 623h0M543 630h0M554 637h0M539 622h0M472 616h0M561 634h0M491 621h0M498 616h0M544 668h0M486 615h0M527 626h0M487 618h0M505 613h0M550 627h0M541 622h0M557 628h0M582 615h0M547 622h0M489 625h0M497 617h0M577 623h0M527 611h0M545 621h0M469 624h0M481 627h0M545 616h0M506 618h0M469 621h0M559 619h0M451 633h0M553 621h0M517 621h0M483 618h0M552 630h0M563 618h0M530 646h0M470 616h0M548 624h0M456 616h0M508 619h0M553 630h0M567 633h0M460 618h0"/>
<path stroke="#0000b1" d="M453 636h0M488 621h0M574 629h0M476 623h0M482 617h0M533 620h0M578 616h0M462 637h0M573 614h0M560 625h0M508 631h0M526 630h0M559 625h0M478 626h0M588 632h0M483 619h0M584 628h0M576 624h0M460 630h0M463 625h0M448 630h0M475 616h0M501 616h0M560 622h0M576 640h0M570 624h0M541 629h0M543 635h0M481 610h0M482 621h0M554 623h0M455 622h0M455 623h0M467 623h0M466 633h0M572 623h0M489 643h0M595 612h0M548 619h0M451 632h0M458 625h0M457 608h0M552 627h0M453 624h0M525 666h0M573 622h0M511 636h0M460 624h0M560 622h0M492 622h0M465 621h0M485 620h0M562 620h0M464 627h0M461 626h0M467 629h0M570 621h0M573 631h0M564 614h0M549 624h0M476 621h0M470 623h0M467 617h0M463 634h0M553 621h0M566 648h0M477 630h0M491 617h0M549 619h0M589 628h0M464 628h0M464 624h0M539 625h0M465 629h0M469 642h0M462 629h0M471 617h0M577 631h0M499 624h0M455 626h0M471 630h0M554 623h0M547 629h0M462 639h0M560 628h0M468 628h0M517 622h0M457 612h0M570 624h0M577 624h0M459 636h0M558 615h0M467 630h0M454 624h0M469 614h0M449 633h0M455 632h0M456 624h0M535 640h0M486 625h0M547 616h0M543 627h0M561 623h0M505 632h0M467 614h0M552 631h0M458 622h0M468 627h0M603 623h0M463 638h0M463 630h0M457 632h0M459 636h0M456 638h0M578 619h0M548 630h0M508 626h0M462 620h0M525 635h0M449 631h0M578 634h0M542 618h0M451 643h0M471 630h0M469 630h0M460 627h0M585 621h0M478 616h0M564 632h0M472 621h0M560 628h0M573 632h0M551 624h0M590 623h0M583 616h0M546 627h0M546 615h0M463 639h0M569 616h0M453 643h0M587 618h0M456 634h0M467 634h0M462 635h0M559 621h0M459 629h0M454 644h0M531 631h0M573 617h0M567 612h0M543 618h0M550 627h0M581 619h0M535 631h0M494 619h0"/>
<path stroke="#0000bf" d="M466 626h0M484 619h0M479 626h0M578 623h0M469 629h0M555 619h0M589 624h0M517 625h0M536 608h0M485 626h0M456 623h0M565 625h0M542 623h0M501 619h0M555 633h0M490 624h0M461 626h0M552 613h0M551 618h0M584 627h0M595 628h0M581 614h0M457 638h0M468 633h0M521 612h0M588 636h0M587 620h0M462 638h0M482 627h0M468 636h0M453 632h0M578 624h0M464 625h0M584 623h0M493 613h0M592 626h0M448 640h0M587 629h0M476 634h0M468 643h0M587 618h0M464 628h0M456 635h0M458 638h0M535 660h0M453 644h0M467 630h0M493 623h0M521 617h0M469 643h0M466 642h0M476 622h0M468 637h0M514 624h0M469 617h0M459 642h0M505 622h0M592 614h0M540 621h0M469 614h0M460 650h0M576 632h0M461 639h0M463 631h0M539 613h0M461 644h0M506 623h0M497 628h0M464 626h0M470 629h0M528 612h0M502 629h0M454 653h0M482 623h0M447 648h0M475 621h0M466 635h0M440 648h0M454 652h0M473 643h0M453 648h0M464 626h0M530 653h0"/>
<path stroke="#0000cd" d="M581 656h0M461 651h0M456 648h0M463 651h0M459 647h0M470 650h0M449 654h0M458 658h0M472 640h0M458 654h0M463 650h0M454 650h0M471 644h0M450 659h0M441 656h0M562 660h0M458 654h0M458 638h0M459 647h0M464 650h0M474 656h0M479 630h0M454 659h0M468 645h0M474 650h0M575 651h0M569 650h0M470 620h0M468 661h0M489 629h0M459 669h0M486 626h0M449 664h0M448 657h0M453 660h0M559 651h0M438 659h0M431 665h0M425 662h0M432 662h0M434 656h0M441 655h0M432 658h0M436 659h0"/>
<path stroke="#0000dc" d="M433 667h0M576 656h0M419 660h0M417 659h0M424 659h0M428 663h0M425 665h0M413 661h0M432 660h0M416 663h0M398 665h0M416 667h0M452 653h0M411 662h0M413 655h0M418 666h0M567 649h0M438 667h0M419 656h0M465 633h0M462 628h0M409 660h0M443 637h0M452 627h0M421 661h0M583 643h0M554 650h0M562 654h0M559 647h0M413 661h0M409 655h0M578 653h0M457 642h0M549 663h0M398 663h0M577 639h0M397 662h0"/>
<path stroke="#0000ea" d="M463 643h0M405 663h0M555 658h0M395 664h0M386 658h0M581 648h0M580 655h0M381 663h0M543 650h0M391 662h0M386 663h0M353 660h0M368 664h0M605 647h0M578 651h0M370 658h0M356 659h0M538 649h0M362 661h0M580 661h0M577 657h0M368 665h0M585 644h0M358 664h0M347 663h0M581 659h0M458 638h0M370 666h0M364 660h0M357 668h0M356 661h0M352 656h0M344 661h0"/>
<path stroke="#0000f8" d="M571 652h0M464 625h0M582 658h0M352 661h0M589 652h0M350 668h0M543 642h0M351 653h0M558 650h0M565 645h0M459 640h0M342 659h0M605 659h0M522 641h0M570 652h0M551 651h0M343 659h0M322 667h0M323 661h0M576 658h0M586 658h0M316 659h0M576 662h0M348 660h0M339 666h0M566 649h0M338 664h0M600 653h0M321 666h0M331 669h0M317 657h0M440 629h0M340 660h0M330 658h0M575 652h0M308 667h0M580 651h0M329 661h0M575 666h0M324 657h0M459 641h0M308 659h0M607 652h0"/>
<path stroke="#0007ff" d="M571 657h0M309 657h0M304 666h0M562 645h0M580 654h0M310 672h0M316 652h0M574 659h0M309 660h0M310 657h0M591 650h0M561 651h0M305 664h0M291 659h0M553 655h0M558 653h0M447 644h0M588 645h0M306 666h0M554 659h0M576 644h0M453 630h0M565 597h0M287 661h0M578 655h0M310 658h0M286 657h0M290 662h0M302 667h0M302 659h0M591 657h0M571 657h0M307 652h0M290 660h0M584 648h0M582 651h0M574 591h0M572 646h0M469 644h0M544 601h0M611 649h0M583 651h0M336 654h0"/>
<path stroke="#0015ff" d="M573 655h0M469 648h0M576 656h0M578 651h0M611 640h0M451 623h0M610 615h0M463 634h0M574 656h0M457 656h0M551 651h0M576 650h0M572 640h0M554 652h0M607 650h0M582 656h0M404 657h0M600 643h0M425 658h0M440 654h0M576 650h0M588 652h0M327 657h0M431 655h0M441 662h0M590 638h0M558 654h0M451 663h0M449 634h0M458 641h0M361 662h0"/>
<path stroke="#0023ff" d="M559 656h0M592 662h0M450 656h0M561 651h0M428 667h0M432 665h0M410 654h0M427 663h0M459 645h0M581 652h0M412 658h0M471 654h0M462 664h0M600 651h0M571 650h0M403 662h0M573 652h0M428 658h0M398 673h0M465 639h0M553 595h0M586 648h0M592 661h0M443 665h0M580 650h0M585 655h0M454 636h0M550 653h0M612 641h0M574 605h0M608 658h0M601 652h0M566 655h0M618 582h0M594 653h0M586 657h0M600 651h0M575 656h0M524 592h0M419 663h0M407 655h0M592 658h0M412 660h0M419 661h0M578 663h0M348 667h0M567 662h0M584 665h0M582 651h0M599 667h0M595 641h0"/>
<path stroke="#0032ff" d="M418 661h0M598 641h0M582 610h0M597 649h0M575 647h0M398 668h0M566 649h0M313 662h0M412 662h0M408 661h0M596 649h0M534 569h0M452 656h0M464 632h0M594 653h0M446 660h0M553 620h0M410 669h0M567 661h0M587 658h0M473 637h0M560 650h0M476 581h0M567 597h0M547 654h0M453 630h0M590 659h0M413 657h0M598 656h0M459 628h0M591 656h0M433 659h0M453 662h0M400 663h0M461 643h0M617 650h0M418 661h0M601 663h0M443 663h0M579 659h0M413 658h0M405 623h0M454 626h0"/>
<path stroke="#0040ff" d="M429 677h0M584 650h0M460 651h0M588 649h0M438 699h0M458 661h0M616 648h0M452 658h0M603 657h0M469 679h0M403 666h0M620 666h0M618 642h0M639 656h0M439 658h0M471 636h0M458 684h0M433 641h0M588 652h0M405 711h0M409 633h0M594 661h0M482 614h0M465 647h0M307 659h0M404 667h0M631 653h0M418 671h0M411 664h0M368 665h0M584 655h0M606 667h0M471 678h0M448 674h0M351 665h0M296 659h0M470 648h0M598 660h0M588 654h0M582 663h0M404 670h0M607 653h0M582 662h0M449 694h0M587 650h0M408 658h0M459 661h0M419 671h0M562 652h0M578 660h0M423 664h0M592 653h0M405 653h0M361 658h0M414 662h0M619 660h0M413 660h0M571 667h0"/>
<path stroke="#004eff" d="M427 709h0M602 656h0M577 654h0M455 686h0M593 649h0M469 713h0M602 647h0M598 661h0M453 665h0M607 654h0M423 663h0M459 702h0M594 660h0M570 653h0M428 675h0M363 659h0M326 665h0M582 653h0M440 663h0M299 658h0M581 653h0M458 710h0M611 659h0M573 656h0M455 685h0M470 701h0M582 659h0M566 664h0M589 670h0M394 655h0M411 658h0M592 661h0M603 649h0M402 700h0M465 649h0M422 673h0M584 650h0M415 712h0M451 664h0M458 683h0M454 704h0M454 688h0M421 707h0M438 709h0M364 649h0M587 654h0M417 653h0M404 668h0M421 673h0M576 651h0M593 652h0M558 657h0M480 701h0M397 666h0M368 661h0M441 703h0M403 658h0M417 668h0M409 621h0M463 705h0M410 663h0M336 668h0M437 660h0M595 655h0M589 658h0M582 653h0M375 660h0M356 647h0M480 695h0M430 660h0M286 663h0M430 664h0M621 652h0M594 665h0"/>
<path stroke="#005cff" d="M468 714h0M439 663h0M417 664h0M603 663h0M436 641h0M447 704h0M612 660h0M559 659h0M376 662h0M453 685h0M487 707h0M566 657h0M332 669h0M475 710h0M580 654h0M406 656h0M436 689h0M597 655h0M386 658h0M554 640h0M426 664h0M610 660h0M576 655h0M603 666h0M337 655h0M441 691h0M454 702h0M477 680h0M417 654h0M386 630h0M440 702h0M452 702h0M581 652h0M595 659h0M437 694h0M453 654h0M424 590h0M373 663h0M595 664h0M443 720h0M365 663h0M436 659h0M417 658h0M352 662h0M582 648h0M579 648h0M294 654h0M576 653h0M608 656h0M292 658h0M446 713h0M443 680h0M471 655h0M582 663h0M581 673h0M577 661h0M402 657h0M415 636h0M555 664h0M616 654h0M421 653h0M594 656h0M444 658h0M611 654h0M364 663h0M301 658h0M599 661h0M552 642h0M449 606h0M389 659h0M436 664h0M481 642h0M594 663h0M589 661h0M589 662h0M310 651h0M599 654h0M492 606h0M574 651h0M596 664h0M607 665h0M382 663h0M357 665h0M460 656h0M440 663h0M365 661h0M485 647h0"/>
<path stroke="#006aff" d="M334 656h0M304 653h0M605 658h0M286 659h0M612 654h0M438 658h0M611 658h0M398 664h0M601 652h0M616 659h0M601 659h0M592 658h0M409 665h0M507 645h0M302 655h0M301 658h0M304 659h0M598 661h0M494 616h0M616 646h0M602 659h0M556 632h0M372 666h0M562 648h0M364 670h0M592 663h0M457 657h0M606 652h0M583 657h0M564 657h0M611 657h0M602 649h0M606 661h0M608 657h0M576 656h0M568 663h0M609 654h0M297 645h0M459 663h0M577 655h0M483 606h0M565 662h0M595 653h0M602 656h0M574 650h0M373 657h0M491 637h0M512 594h0M295 655h0M613 653h0M393 651h0M611 661h0M375 676h0M446 658h0M292 653h0M444 666h0M453 666h0M419 659h0M621 652h0M620 656h0M476 609h0M422 663h0M612 653h0M605 661h0"/>
<path stroke="#0078ff" d="M553 658h0M573 656h0M590 651h0M654 644h0M607 654h0M518 646h0M611 661h0M301 653h0M574 648h0M621 654h0M456 655h0M401 664h0M564 658h0M376 673h0M405 660h0M592 665h0M340 664h0M632 649h0M597 644h0M426 654h0M401 668h0M274 649h0M611 655h0M407 657h0M585 649h0M623 652h0M622 651h0M625 643h0M420 670h0M613 659h0M586 649h0M379 666h0M622 644h0M594 645h0M439 659h0M618 652h0M467 649h0M268 653h0M607 642h0M320 661h0M516 618h0M403 651h0M615 653h0M586 653h0M625 658h0M538 628h0M417 662h0M597 654h0M614 664h0M367 660h0M418 663h0M456 642h0M433 656h0M568 657h0M461 629h0M606 660h0M402 654h0M580 647h0M515 640h0M567 653h0M620 657h0M436 656h0M590 648h0M275 644h0M412 658h0M636 654h0M625 649h0M573 650h0"/>
<path stroke="#0087ff" d="M621 643h0M453 660h0M274 653h0M618 643h0M385 668h0M418 663h0M634 650h0M620 647h0M397 649h0M444 663h0M577 644h0M404 665h0M562 654h0M598 656h0M290 653h0M423 667h0M560 648h0M572 641h0M621 642h0M345 654h0M359 658h0M554 655h0M570 662h0M617 648h0M614 644h0M591 655h0M602 664h0M287 645h0M377 657h0M611 637h0M269 645h0M577 640h0M400 657h0M268 650h0M369 655h0M584 665h0M581 667h0M582 652h0M262 644h0M424 658h0M610 656h0M622 645h0M659 641h0M369 653h0M606 652h0M407 659h0M597 659h0M607 652h0"/>
<path stroke="#0095ff" d="M555 654h0M564 655h0M594 654h0M595 654h0M451 658h0M620 656h0M380 657h0M606 647h0M427 661h0M420 656h0M596 658h0M564 657h0M414 666h0M437 669h0M619 648h0M375 654h0M254 644h0M437 663h0M432 654h0M440 673h0M251 648h0M405 658h0M611 654h0M250 640h0M422 665h0M642 641h0M424 669h0M399 658h0M585 648h0M409 656h0M570 659h0M437 659h0M620 659h0M394 663h0M260 645h0M628 658h0M610 638h0M438 655h0M448 668h0M601 657h0M553 661h0M617 659h0M381 665h0M466 663h0M534 648h0M597 664h0"/>
<path stroke="#00a3ff" d="M643 641h0M424 671h0M359 658h0M625 643h0M608 653h0M389 663h0M608 657h0M432 660h0M251 639h0M603 660h0M399 675h0M242 636h0M562 667h0M603 667h0M625 657h0M433 667h0M587 648h0M614 655h0M394 668h0M244 643h0M580 659h0M598 656h0M449 654h0M367 658h0M596 663h0M413 671h0M549 651h0M612 650h0M596 650h0M607 658h0M613 658h0M556 654h0M595 673h0M577 667h0M241 643h0M582 657h0M616 640h0M554 656h0M237 642h0M602 661h0M254 637h0M598 663h0M606 657h0M442 654h0M467 661h0"/>
<path stroke="#00b1ff" d="M602 665h0M442 655h0M225 643h0M586 673h0M404 652h0M392 656h0M241 654h0M241 642h0M247 640h0M224 631h0M600 653h0M610 658h0M246 647h0M241 644h0M585 665h0M239 637h0M592 647h0M617 642h0M592 653h0M233 641h0M604 660h0M610 646h0M602 655h0M606 673h0M609 668h0M616 668h0M601 658h0M619 657h0"/>
<path stroke="#00bfff" d="M209 640h0M636 666h0M214 634h0M633 671h0M607 673h0M215 636h0M619 659h0M590 673h0M615 654h0M592 670h0M616 681h0M624 653h0"/>
<path stroke="#00cdff" d="M214 648h0M620 677h0M621 674h0M621 674h0M534 661h0M611 652h0M612 673h0M603 662h0M622 671h0M629 674h0M623 661h0M623 671h0M576 682h0M606 663h0M633 666h0M622 663h0M636 687h0M651 676h0M655 675h0M633 673h0M637 681h0M650 679h0M668 679h0M566 639h0M622 637h0M644 678h0M644 666h0M585 698h0"/>
<path stroke="#00dcff" d="M599 672h0M638 681h0M584 693h0M658 672h0M665 676h0M650 671h0M666 681h0M644 676h0M667 686h0M577 691h0M641 682h0M630 676h0M642 671h0M645 678h0M658 669h0M661 685h0M580 662h0M574 678h0M647 677h0M671 681h0M653 675h0M620 677h0M666 679h0M662 664h0M664 682h0M649 674h0M637 688h0M644 669h0M581 699h0M639 673h0"/>
<path stroke="#00eaff" d="M584 703h0M648 666h0M639 686h0M641 684h0M634 664h0M648 678h0M660 681h0M654 678h0M586 694h0M639 679h0M622 660h0M566 671h0M654 679h0M659 668h0M635 673h0M627 667h0M578 689h0M650 662h0M676 674h0M653 668h0M632 684h0M624 668h0M652 670h0M640 672h0M659 678h0M642 673h0M635 672h0M651 654h0M616 677h0M586 679h0M662 686h0M643 677h0M582 686h0M649 669h0M645 673h0M658 675h0M658 678h0M643 676h0M644 678h0M646 678h0M660 683h0M652 672h0M649 679h0M614 649h0M673 668h0M542 666h0M565 689h0M649 676h0M574 687h0M662 675h0"/>
<path stroke="#00f8ff" d="M634 670h0M625 679h0M652 677h0M662 672h0M662 687h0M648 674h0M674 671h0M658 670h0M638 685h0M642 679h0M643 678h0M647 672h0M632 674h0M668 675h0M585 694h0M586 684h0M604 681h0M600 676h0M648 688h0M615 646h0M658 677h0M655 679h0M659 668h0M661 681h0M530 654h0M675 672h0M655 676h0M596 685h0M653 677h0M638 672h0M626 672h0M581 693h0M625 643h0"/>
<path stroke="#07fff8" d="M618 641h0M584 694h0M655 679h0M583 696h0M642 676h0M600 682h0M639 675h0M654 675h0M584 697h0M581 701h0"/>
<path stroke="#15ffea" d="M586 687h0M585 688h0"/>
<path stroke="#23ffdc" d="M583 674h0M607 691h0M612 692h0M599 700h0M585 681h0M591 701h0M590 690h0M604 691h0M617 689h0M580 706h0M590 699h0"/>
<path stroke="#32ffcd" d="M613 690h0M563 692h0M589 691h0M619 689h0M583 701h0M603 696h0"/>
<path stroke="#40ffbf" d="M571 684h0M579 686h0M575 684h0M577 687h0M581 691h0M569 677h0M626 694h0M592 678h0M578 696h0M583 684h0M548 700h0M602 711h0"/>
<path stroke="#4effb1" d="M595 696h0M587 693h0M574 705h0M624 681h0M590 701h0M611 682h0M613 694h0M595 692h0M586 696h0M594 691h0M624 678h0"/>
<path stroke="#5cffa3" d="M494 711h0M604 698h0M611 691h0M590 698h0M587 707h0M621 708h0M622 704h0M610 696h0M605 703h0M601 688h0M612 670h0M623 693h0M620 708h0M609 691h0M588 713h0M579 709h0"/>
<path stroke="#6aff95" d="M614 693h0M600 688h0M610 704h0M618 697h0M498 710h0M632 686h0M629 698h0M604 702h0M600 683h0M624 684h0M612 692h0M618 681h0M603 692h0M557 673h0M604 710h0M619 706h0M618 680h0M625 697h0M610 708h0"/>
<path stroke="#78ff87" d="M584 701h0M592 725h0M583 693h0M634 695h0M623 688h0M445 711h0M622 702h0M624 694h0M622 705h0M613 698h0M603 691h0M526 684h0M460 701h0M480 699h0M621 696h0M638 697h0M520 677h0M633 694h0M526 683h0M604 685h0M461 701h0M507 683h0M551 648h0M502 681h0M486 694h0M631 697h0M642 676h0M530 682h0M616 702h0"/>
<path stroke="#87ff78" d="M632 695h0M602 700h0M626 688h0M612 697h0M581 710h0M555 680h0M614 713h0M446 700h0M636 698h0M617 688h0M612 690h0M618 696h0M455 686h0M471 680h0M460 686h0M403 705h0M645 701h0M600 696h0"/>
<path stroke="#95ff6a" d="M609 699h0M647 707h0M625 702h0M458 676h0M460 700h0M493 681h0M466 703h0M461 690h0M461 701h0M473 686h0M464 708h0M462 702h0M635 698h0M405 674h0M610 696h0M600 688h0M647 698h0M627 691h0M464 696h0M466 671h0M461 664h0M461 698h0M448 694h0M457 677h0M466 663h0M617 693h0M545 672h0M460 653h0M469 672h0"/>
<path stroke="#a3ff5c" d="M619 689h0M652 703h0M611 678h0M470 656h0M600 667h0M469 669h0M470 659h0M407 692h0M405 672h0M407 700h0M462 662h0M389 687h0M476 648h0M466 652h0M469 648h0M468 657h0M467 704h0M466 652h0M622 720h0M462 702h0M483 689h0M494 683h0M466 644h0M623 694h0M622 682h0M519 676h0M465 695h0M490 696h0M508 712h0M398 676h0M464 703h0M614 692h0M469 643h0M424 690h0M498 692h0M460 694h0M471 650h0M477 641h0M622 707h0M466 642h0M479 715h0"/>
<path stroke="#b1ff4e" d="M476 640h0M469 652h0M474 642h0M649 686h0M419 683h0M467 642h0M383 691h0M611 724h0M477 632h0M393 683h0M613 700h0M377 684h0M483 633h0M638 683h0M418 699h0M643 704h0M637 696h0M479 639h0"/>
<path stroke="#bfff40" d="M409 692h0M624 704h0M618 718h0M408 698h0M481 621h0M645 687h0M485 621h0M425 696h0M403 702h0M397 682h0M388 700h0M400 697h0M639 702h0M599 695h0M625 710h0M484 626h0M479 632h0M398 690h0M574 697h0M640 699h0M476 696h0M477 630h0M420 699h0M626 698h0M481 614h0"/>
<path stroke="#cdff32" d="M634 682h0M634 683h0M656 692h0M387 694h0M638 703h0M632 710h0M626 702h0M637 707h0M647 690h0M658 694h0M639 694h0M376 681h0M433 676h0M650 706h0M501 624h0M624 677h0M488 618h0M640 709h0M377 691h0M649 694h0M621 693h0M463 689h0M504 686h0M476 694h0M464 690h0M358 694h0M343 690h0M380 692h0M547 666h0M385 712h0M464 694h0M633 721h0M358 700h0M492 688h0M628 680h0M383 702h0M354 680h0M624 711h0M493 695h0M631 708h0M355 726h0M411 675h0M358 696h0M631 703h0M641 696h0"/>
<path stroke="#dcff23" d="M477 690h0M463 701h0M474 608h0M505 621h0M380 692h0M659 701h0M479 630h0M478 624h0M639 681h0M638 722h0M567 662h0M629 705h0M361 685h0M667 687h0M667 693h0M389 688h0M540 692h0M658 699h0M338 685h0M665 728h0M640 698h0M664 699h0M378 690h0M654 695h0M652 691h0M402 672h0"/>
<path stroke="#eaff15" d="M363 687h0M650 717h0M516 646h0M356 695h0M381 685h0M658 704h0M391 690h0M387 694h0M549 657h0M361 689h0M389 690h0M663 686h0M371 688h0M388 695h0M506 620h0M520 743h0M367 700h0M415 680h0M364 700h0M335 700h0M384 706h0M670 704h0M311 685h0M631 719h0"/>
<path stroke="#f8ff07" d="M531 671h0M512 684h0M417 715h0M661 718h0M484 695h0M406 700h0M461 697h0M656 704h0M479 688h0M544 652h0M656 705h0M514 672h0M537 668h0M431 739h0M641 708h0M523 653h0M462 696h0M353 691h0M652 692h0M380 696h0M368 697h0M470 694h0M461 702h0M510 651h0M380 707h0M643 695h0M511 617h0M346 677h0M363 684h0M375 691h0M644 698h0M358 693h0M475 618h0M357 688h0M629 710h0M647 679h0M661 693h0M649 698h0"/>
<path stroke="#fff800" d="M438 708h0M661 723h0M538 649h0M475 621h0M659 695h0M644 702h0M356 683h0M351 694h0M504 638h0M361 698h0M639 712h0M667 711h0M432 707h0M416 713h0M514 656h0M344 692h0M358 700h0M369 721h0M659 720h0M653 711h0M377 693h0M372 693h0M514 648h0M537 648h0M532 650h0"/>
<path stroke="#ffea00" d="M504 642h0M397 702h0M643 714h0M638 685h0M348 679h0M339 687h0M504 639h0M493 639h0M551 671h0M478 629h0M517 647h0M463 620h0M665 720h0M485 631h0M466 621h0M478 629h0M485 635h0M509 640h0M451 614h0M538 657h0M481 621h0M552 676h0M450 616h0M557 664h0M451 615h0M470 622h0M490 633h0M555 682h0"/>
<path stroke="#ffdc00" d="M557 663h0M539 653h0M544 660h0M530 644h0M558 681h0M555 665h0M553 662h0M420 721h0M562 668h0M474 628h0M555 675h0M415 704h0M453 620h0M559 664h0M499 641h0M440 703h0M473 622h0M374 703h0M551 682h0M321 695h0M537 656h0M552 671h0M335 702h0M503 645h0M322 698h0M656 703h0M451 617h0M503 641h0M555 661h0M475 620h0M545 658h0M553 675h0M551 676h0M329 706h0M551 664h0M488 635h0M657 695h0M419 692h0M533 651h0M468 626h0M553 664h0M554 674h0M548 664h0M540 660h0M450 612h0M469 621h0M442 705h0M394 697h0M356 690h0M379 711h0M426 715h0"/>
<path stroke="#ffcd00" d="M420 701h0M387 709h0M359 690h0M353 703h0M412 694h0M447 619h0M369 696h0M337 707h0M647 701h0M354 712h0M405 709h0M424 710h0M392 717h0M357 701h0M393 704h0M387 711h0M376 702h0M478 634h0M338 711h0M473 711h0M384 695h0M321 693h0M406 706h0M398 701h0M346 709h0M394 705h0M428 712h0M383 725h0M416 703h0M362 696h0"/>
<path stroke="#ffbf00" d="M425 717h0M392 713h0M466 701h0M510 688h0M469 693h0M497 690h0M466 699h0M535 665h0M461 695h0M490 683h0M372 714h0M461 701h0M424 710h0M532 670h0M347 704h0M441 717h0M395 708h0M384 706h0M443 705h0M329 705h0M359 701h0M346 697h0M483 630h0M408 713h0M347 705h0M358 689h0M407 707h0M338 689h0M393 712h0M371 699h0M475 618h0M349 702h0M461 700h0M455 620h0M328 700h0M323 698h0M394 701h0M455 715h0M346 678h0M320 692h0M340 700h0M429 681h0M399 701h0M442 704h0M441 713h0"/>
<path stroke="#ffb100" d="M386 706h0M366 698h0M452 600h0M451 598h0M418 716h0M380 714h0M362 698h0M377 721h0M346 694h0M489 702h0M355 725h0M342 711h0M384 699h0M326 682h0M444 704h0M314 694h0M458 696h0M538 652h0M553 651h0M555 651h0M555 629h0M533 685h0M554 643h0M412 722h0M538 681h0M556 655h0M540 682h0M528 688h0M513 696h0M529 688h0M403 695h0M549 671h0M560 634h0M555 649h0M554 651h0M549 662h0M543 680h0M554 649h0M555 657h0M532 694h0M511 696h0M564 666h0M555 665h0M559 638h0"/>
<path stroke="#ffa300" d="M302 690h0M513 694h0M518 693h0M539 685h0M336 722h0M361 702h0M328 688h0M355 703h0M462 699h0M461 687h0M373 705h0M435 713h0M306 674h0M412 721h0M481 643h0M515 631h0M499 630h0M491 690h0M352 677h0M375 705h0M344 686h0M329 691h0M355 696h0M402 710h0M316 689h0M406 701h0M356 695h0M361 701h0M489 696h0M356 707h0M345 701h0M311 708h0M307 676h0M371 717h0M436 700h0M439 693h0M323 703h0M365 707h0M353 717h0M519 645h0M338 697h0M322 731h0M444 699h0M334 689h0M356 706h0M394 722h0"/>
<path stroke="#ff9500" d="M340 707h0M349 671h0M304 668h0M334 698h0M445 717h0M482 705h0M541 654h0M470 691h0M538 676h0M514 676h0M464 700h0M358 729h0M360 697h0M465 701h0M467 697h0M460 694h0M463 695h0M334 697h0M471 704h0M320 697h0M341 712h0M416 723h0M332 680h0M501 683h0M555 665h0M331 716h0M314 682h0M376 701h0M332 740h0M382 712h0M344 734h0M382 699h0M346 691h0M321 684h0M330 684h0M459 691h0M311 666h0M292 693h0M499 691h0M321 689h0M445 620h0M309 684h0M332 718h0M336 702h0M353 722h0"/>
<path stroke="#ff8700" d="M491 638h0M321 692h0M334 677h0M332 680h0M306 670h0M556 663h0M321 697h0M332 691h0M389 698h0M498 703h0M454 616h0M337 680h0M334 695h0M386 698h0M537 664h0M534 654h0M363 676h0M313 688h0M431 718h0M322 698h0M352 702h0M351 707h0M321 680h0M428 714h0M333 725h0M321 669h0M442 714h0M331 724h0M304 688h0M430 720h0M444 695h0M328 679h0M351 696h0M307 690h0M360 692h0M318 693h0M546 667h0M285 674h0M452 617h0M349 701h0M322 695h0"/>
<path stroke="#ff7800" d="M348 692h0M299 694h0M331 722h0M343 728h0M307 682h0M350 687h0M348 700h0M322 690h0M424 711h0M480 691h0M462 694h0M310 678h0M479 693h0M312 678h0M461 696h0M461 698h0M462 694h0M463 696h0M367 691h0M487 692h0M534 663h0M501 689h0M322 691h0M347 720h0M310 684h0M305 688h0M317 687h0M332 689h0"/>
<path stroke="#ff6a00" d="M332 725h0M346 727h0M311 696h0M330 676h0M296 683h0M493 698h0M342 691h0M316 708h0M305 682h0M327 715h0M318 697h0M315 687h0M316 688h0M477 694h0M344 713h0M351 710h0M323 680h0M355 714h0M303 678h0M281 699h0M269 684h0M288 678h0M488 691h0M441 663h0M433 683h0M431 684h0M446 630h0M440 662h0M432 692h0M279 683h0M444 628h0M449 617h0M435 677h0M445 648h0M322 688h0M436 670h0M447 653h0M433 678h0M442 647h0M444 642h0M437 673h0M472 693h0M427 697h0M436 678h0M446 628h0M336 689h0M445 658h0M448 637h0M432 685h0M427 692h0M321 694h0M445 646h0M321 699h0M289 688h0M450 626h0M511 695h0M310 646h0M318 688h0M306 678h0M511 689h0M446 612h0M347 729h0M298 689h0M290 676h0M321 687h0M444 689h0M295 682h0"/>
<path stroke="#ff5c00" d="M335 700h0M343 719h0M347 698h0M293 690h0M293 678h0M448 703h0M488 701h0M314 702h0M340 722h0M446 705h0M330 707h0M466 696h0M314 676h0M302 698h0M293 670h0M351 710h0M314 702h0M293 666h0M304 702h0M461 720h0M343 712h0M333 703h0M284 669h0M302 657h0M456 714h0M320 685h0M288 676h0M320 685h0"/>
<path stroke="#ff4e00" d="M543 654h0M460 694h0M475 699h0M273 678h0M291 683h0M331 697h0M281 678h0M462 700h0M547 657h0M484 701h0M310 683h0M275 674h0M303 701h0M464 702h0M309 677h0M522 675h0M310 686h0M301 695h0M279 680h0M510 670h0M486 693h0M293 686h0M278 684h0M280 693h0M289 696h0M274 684h0"/>
<path stroke="#ff4000" d="M315 696h0M271 677h0M291 672h0M269 692h0M326 692h0M279 692h0M272 698h0M282 667h0M268 671h0M267 676h0M254 685h0M291 690h0M271 683h0M275 702h0M272 670h0M274 686h0M307 702h0M278 683h0M256 678h0M266 676h0M317 678h0M252 695h0M255 683h0"/>
<path stroke="#ff3200" d="M320 689h0M322 682h0M248 695h0M286 674h0M254 682h0M234 693h0M305 684h0M246 681h0"/>
<path stroke="#ff2300" d="M257 673h0M299 672h0M241 686h0M503 604h0M473 642h0M461 663h0M517 600h0M462 660h0M458 663h0M478 635h0M474 640h0M466 650h0M475 630h0M616 656h0M489 610h0M466 651h0M462 655h0M469 646h0M462 659h0M469 636h0M473 633h0M476 638h0M356 710h0M461 662h0M464 657h0M617 655h0M612 656h0M494 612h0M468 648h0M485 623h0M463 657h0M333 713h0M507 602h0M245 676h0M464 663h0M453 661h0M496 613h0M455 662h0M465 667h0M472 641h0M482 619h0M231 677h0M501 605h0M484 626h0M460 660h0M460 662h0M491 610h0M405 667h0M458 660h0M612 655h0M616 659h0M488 636h0M462 656h0M444 662h0M463 657h0M463 660h0M488 618h0M474 633h0M623 664h0M612 653h0M507 603h0M485 654h0M478 635h0M619 645h0M508 605h0M622 646h0M478 633h0M433 659h0M515 661h0M604 666h0M488 616h0M460 665h0M617 653h0M621 636h0M428 727h0M473 634h0M478 630h0M609 652h0M462 661h0M500 662h0M409 663h0M408 664h0M250 697h0M525 659h0M435 664h0M503 660h0M448 660h0M459 661h0M552 664h0M624 645h0M622 656h0M621 660h0M495 646h0M610 652h0"/>
<path stroke="#ff1500" d="M622 655h0M539 666h0M620 638h0M387 723h0M622 642h0M611 659h0M480 654h0M623 665h0M607 653h0M396 657h0M619 659h0M367 715h0M598 658h0M562 663h0M623 648h0M228 678h0M608 659h0M578 659h0M309 713h0M215 678h0M310 710h0M592 660h0M614 659h0M405 713h0M240 680h0M302 717h0M411 718h0M480 635h0M212 671h0M624 645h0M612 650h0M223 678h0M606 663h0M484 644h0M610 658h0M355 708h0M318 702h0M625 653h0M476 652h0M516 681h0M481 661h0M334 720h0M232 677h0M295 717h0M599 654h0M612 662h0M209 683h0M512 679h0M361 714h0M571 660h0M448 662h0M488 701h0M307 718h0M230 671h0M607 663h0M622 666h0M606 657h0M615 645h0M620 651h0M627 670h0M620 649h0M609 659h0M613 653h0M623 657h0M247 683h0M295 705h0M617 641h0M618 645h0M618 650h0M425 660h0M616 651h0M434 673h0M600 665h0M615 644h0M605 664h0M409 656h0M610 653h0M624 662h0M288 684h0M270 689h0M624 644h0M600 662h0M618 646h0M601 666h0M418 732h0M621 667h0M604 660h0M600 668h0M611 662h0M603 651h0M219 690h0M629 651h0M613 652h0M424 654h0M603 663h0M395 711h0M270 676h0M598 662h0M609 652h0M598 659h0M607 673h0M608 668h0M620 651h0M611 667h0M236 676h0M404 666h0M265 676h0M621 671h0M500 661h0M476 699h0M611 654h0M329 725h0M212 681h0M596 660h0M291 684h0M272 687h0M214 676h0M505 679h0M511 678h0M595 671h0M259 696h0M498 657h0M305 707h0M263 689h0M624 667h0M276 683h0M476 691h0M389 717h0M624 673h0M611 676h0M275 677h0M209 684h0M236 692h0M239 679h0M370 705h0M525 668h0M625 652h0M594 666h0M593 673h0M411 710h0M477 684h0"/>
<path stroke="#ff0700" d="M252 704h0M265 692h0M462 708h0M426 710h0M427 708h0M390 716h0M493 701h0M320 698h0M424 713h0M599 664h0M263 684h0M621 644h0M306 687h0M480 702h0M305 704h0M282 704h0M265 675h0M595 663h0M623 652h0M484 648h0M349 722h0M626 662h0M340 710h0M199 688h0M622 640h0M409 656h0M622 669h0M439 712h0M467 718h0M429 656h0M635 673h0M516 662h0M293 710h0M630 662h0M601 663h0M643 673h0M483 659h0M596 666h0M639 672h0M592 668h0M652 677h0M643 679h0M623 635h0M621 669h0M441 665h0M623 649h0M652 676h0M636 671h0M623 666h0M447 659h0M654 672h0M458 659h0M626 663h0M643 675h0M595 661h0M439 661h0M658 673h0M423 655h0M623 659h0M418 656h0M424 660h0M226 679h0M454 661h0M622 652h0M620 658h0M595 672h0M439 663h0M622 640h0M488 649h0M619 651h0M469 692h0M361 713h0M626 648h0M459 707h0M317 708h0M546 650h0M386 722h0M428 708h0M460 683h0M313 718h0M476 684h0M308 713h0M276 694h0M257 699h0M465 701h0M412 710h0M491 686h0M400 702h0M465 714h0M286 689h0M420 714h0M621 661h0M476 701h0M408 702h0M460 698h0M209 692h0M340 711h0M474 676h0M480 703h0M499 676h0M316 716h0M550 654h0M509 686h0M514 666h0M538 675h0M586 670h0M472 698h0M241 692h0M527 680h0M469 700h0M471 711h0M475 673h0M482 683h0"/>
<path stroke="#f80000" d="M326 715h0M588 664h0M216 698h0M595 673h0M481 659h0M592 673h0M215 683h0M476 675h0M310 719h0M461 704h0M301 666h0M270 676h0M488 697h0M322 710h0M303 719h0M340 716h0M524 674h0M264 684h0M219 694h0M519 675h0M337 731h0M251 677h0M383 716h0M278 679h0M275 699h0M333 709h0M515 679h0M515 675h0M484 706h0M490 697h0M295 719h0M272 684h0M487 694h0M476 706h0M356 717h0M211 676h0M349 713h0M380 733h0M323 702h0M268 696h0M414 722h0"/>
<path stroke="#ea0000" d="M275 690h0M474 571h0M485 603h0M477 586h0M472 572h0M458 708h0M286 703h0M474 574h0M489 608h0M281 681h0M296 708h0M483 595h0M472 693h0M299 686h0M477 697h0M440 709h0M496 699h0M474 682h0M414 711h0M423 706h0M482 707h0M488 607h0M274 680h0M479 589h0M376 711h0M528 677h0M486 691h0M314 713h0M406 716h0M483 594h0M481 590h0M453 707h0M345 704h0M475 706h0M540 668h0M280 675h0M526 665h0M298 697h0M437 711h0M474 695h0M234 694h0M333 710h0M333 722h0M501 688h0M483 595h0M304 716h0M515 679h0M360 722h0M377 718h0M471 683h0M467 709h0M289 678h0M511 684h0M475 696h0M512 681h0M512 685h0M477 691h0M295 687h0M471 673h0M325 707h0M283 673h0M273 695h0M276 701h0"/>
<path stroke="#dc0000" d="M477 703h0M328 712h0M403 709h0M314 730h0M212 670h0M227 675h0M358 714h0M355 731h0M280 687h0M303 718h0M288 691h0M333 712h0M395 710h0M402 700h0M476 679h0M413 709h0M211 690h0M492 692h0M255 682h0M318 728h0M396 719h0M405 722h0M401 718h0M384 730h0M263 684h0M242 685h0M476 705h0M523 674h0M463 696h0M530 673h0M470 692h0M520 678h0M464 694h0M209 675h0M315 702h0M317 714h0M482 705h0M226 684h0M214 689h0M249 694h0M276 687h0M318 707h0M331 714h0M458 695h0M264 687h0M499 689h0M431 711h0M544 660h0M494 687h0M466 698h0M282 688h0M272 695h0M435 724h0M331 718h0M445 714h0M464 717h0M424 725h0M279 680h0M231 698h0M275 700h0M382 710h0M302 688h0M279 690h0M333 725h0M252 696h0M349 710h0"/>
<path stroke="#cd0000" d="M412 722h0M434 710h0M199 686h0M202 687h0M474 714h0M356 713h0M282 704h0M419 714h0M257 695h0M263 686h0M240 682h0M267 675h0M322 713h0M211 680h0M475 707h0M364 706h0M404 712h0M288 676h0M318 728h0M282 712h0M182 668h0M322 670h0M345 719h0M217 684h0M354 722h0"/>
<path stroke="#bf0000" d="M380 701h0M175 692h0M249 686h0M274 671h0M276 673h0M342 683h0M279 674h0M305 681h0M273 667h0M342 698h0M281 671h0M318 721h0M284 663h0M400 720h0M184 685h0M334 725h0M369 705h0M299 711h0M428 704h0M317 675h0M275 676h0M388 699h0M277 677h0M285 676h0M275 675h0M294 683h0M185 688h0M264 677h0M267 671h0M523 679h0M500 678h0M506 676h0M489 682h0M191 693h0M522 679h0M538 667h0M277 670h0M537 675h0M527 683h0M170 685h0M168 695h0"/>
<path stroke="#b10000" d="M163 692h0M487 691h0M481 692h0M330 678h0M167 671h0M185 696h0M183 695h0M267 672h0M196 690h0M203 698h0M285 672h0M189 698h0M168 691h0M273 672h0M271 675h0M273 681h0M171 687h0M199 695h0M290 718h0M181 693h0M181 690h0M188 693h0M327 670h0M325 677h0M179 688h0M178 694h0M183 685h0M178 693h0M179 691h0M186 689h0M167 695h0M339 674h0M172 696h0M180 676h0M155 699h0M175 691h0M268 667h0M149 703h0M178 698h0M182 689h0M318 687h0M184 693h0M176 698h0M172 683h0M299 682h0M277 708h0M340 677h0M318 680h0M178 694h0M314 681h0M159 701h0M276 671h0M158 689h0M166 689h0M182 694h0M156 689h0M337 680h0M188 693h0M189 702h0"/>
<path stroke="#a30000" d="M272 680h0M194 688h0M183 699h0M278 701h0M294 716h0M337 682h0M335 679h0M279 707h0M164 693h0M276 679h0M171 702h0M160 686h0M163 694h0M279 676h0M173 694h0M156 694h0M283 709h0M187 694h0M194 700h0M188 689h0M279 669h0M191 703h0M158 695h0M268 678h0M273 666h0M180 693h0M170 699h0M273 674h0M169 701h0M170 697h0M282 669h0M300 711h0"/>
<path stroke="#950000" d="M178 690h0M297 711h0M178 691h0M320 678h0M278 676h0M274 673h0M326 685h0M199 696h0M304 689h0M176 689h0M181 696h0M182 697h0M281 676h0M181 694h0M337 680h0M166 685h0M156 699h0M305 683h0M183 688h0M176 689h0M281 708h0M164 692h0M176 697h0M183 700h0M338 681h0M288 671h0"/>
<path stroke="#870000" d="M157 705h0M315 684h0M262 670h0M190 691h0M330 683h0M340 689h0M278 702h0M324 679h0M183 692h0M286 680h0M156 695h0M186 693h0M291 685h0M268 675h0M176 690h0M319 682h0M157 699h0M280 709h0M169 696h0M321 687h0M171 694h0M264 670h0M281 678h0M296 702h0M274 677h0M279 675h0M277 672h0M292 678h0M278 675h0M189 682h0M174 700h0M319 679h0M182 703h0M164 702h0M170 699h0M160 693h0M168 708h0M283 664h0M281 675h0M328 680h0M318 689h0M349 675h0M307 688h0"/>
</g></g>
<path d="M275.8 320.7l4.9 6.5l-4.9 6.5l-4.9 -6.5z" fill="#ff00ff" stroke="#e000e0" stroke-width=".5"/>
<path d="M53.5 282.5H360.5V379.5H53.5Z" stroke="#8a8a8a" stroke-width="1" fill="none" shape-rendering="crispEdges"/>
<path d="M53.5 379.5v-4M53.5 282.5v4M114.5 379.5v-4M114.5 282.5v4M176.5 379.5v-4M176.5 282.5v4M237.5 379.5v-4M237.5 282.5v4M299.5 379.5v-4M299.5 282.5v4M360.5 379.5v-4M360.5 282.5v4M53.5 370.5h4M360.5 370.5h-4M53.5 353.5h4M360.5 353.5h-4M53.5 335.5h4M360.5 335.5h-4M53.5 317.5h4M360.5 317.5h-4M53.5 300.5h4M360.5 300.5h-4M53.5 282.5h4M360.5 282.5h-4" stroke="#9d9d9d" stroke-width="1" fill="none" shape-rendering="crispEdges"/>
<g font-size="12" text-anchor="middle">
<text x="53.5" y="396.8"><tspan font-weight="bold">−</tspan> 20</text>
<text x="114.9" y="396.8"><tspan font-weight="bold">−</tspan> 15</text>
<text x="176.3" y="396.8"><tspan font-weight="bold">−</tspan> 10</text>
<text x="237.7" y="396.8"><tspan font-weight="bold">−</tspan> 5</text>
<text x="299.1" y="396.8">0</text>
<text x="360.5" y="396.8">5</text>
</g><g font-size="12" text-anchor="end">
<text x="48.5" y="375.4">2</text>
<text x="48.5" y="357.7">4</text>
<text x="48.5" y="340.1">6</text>
<text x="48.5" y="322.5">8</text>
<text x="48.5" y="304.8">10</text>
<text x="48.5" y="287.2">12</text>
</g>
<text font-size="13.2" text-anchor="middle" x="207" y="408.5">EW (km)</text>
<text font-size="13.2" text-anchor="middle" transform="translate(26.5 331) rotate(-90)">NS (km)</text>
<text class="s" x="338.5" y="302.5">(c)</text>
<path d="M501.4 282.5V379.5M406.5 339.7H535.5M406.5 300H535.5" stroke="#f0f0f0" stroke-width="1" fill="none" shape-rendering="crispEdges"/>
<g clip-path="url(#ce)" fill="none" stroke-width=".9">
<path d="M406.5 379.5L453.9 280.1" stroke="#333" stroke-dasharray="5 3"/>
</g>
<g clip-path="url(#ce)"><g transform="scale(.5)" fill="none" stroke-linecap="round" stroke-width="5">
<path stroke="#000087" d="M813 758h0M813 755h0M813 753h0M813 758h0M813 758h0M813 758h0M813 758h0M813 753h0M813 759h0M813 750h0M813 759h0M813 758h0M813 758h0M813 756h0M813 758h0M813 758h0M813 758h0M813 759h0M813 757h0M814 758h0M814 757h0M814 758h0M814 758h0M814 758h0M814 757h0M814 756h0M814 758h0M814 758h0M814 758h0M814 757h0M814 757h0M814 758h0M814 757h0M814 759h0M814 754h0M814 758h0M814 758h0M814 757h0M814 758h0M814 754h0M814 756h0M814 756h0M814 757h0M814 754h0M814 757h0M814 755h0M814 758h0M814 757h0M815 754h0M815 758h0M815 757h0M815 746h0M815 751h0M815 755h0M815 754h0M815 756h0M815 757h0M815 755h0M815 759h0M815 759h0M815 753h0M815 757h0M815 756h0M815 758h0M815 755h0M815 751h0M815 755h0M815 758h0M815 750h0M815 757h0M815 755h0M815 755h0M815 755h0M815 758h0M815 758h0M815 751h0M815 754h0M815 752h0M815 754h0M815 749h0M815 753h0M815 757h0M816 752h0M816 755h0M816 753h0M816 750h0M816 757h0M816 753h0M816 755h0M816 758h0M816 753h0M816 757h0M816 756h0M816 754h0M816 754h0M816 756h0M816 746h0M816 723h0M816 744h0M816 751h0M816 757h0M816 749h0M816 752h0M816 754h0M816 725h0M816 753h0M816 753h0M816 745h0M816 757h0M816 746h0M816 751h0M816 757h0M817 753h0M817 754h0M817 752h0M817 756h0M817 757h0M817 744h0M817 752h0M817 753h0"/>
<path stroke="#000095" d="M817 754h0M817 755h0M817 758h0M817 755h0M817 751h0M817 755h0M817 754h0M817 753h0M817 750h0M817 757h0M817 735h0M817 750h0M817 757h0M817 750h0M817 756h0M817 744h0M817 757h0M817 724h0M817 747h0M817 757h0M817 755h0M817 747h0M817 756h0M817 727h0M817 731h0M817 756h0M817 756h0M817 742h0M817 754h0M817 750h0M817 755h0M817 749h0M817 750h0M817 752h0M817 730h0M817 754h0M817 752h0M817 749h0M817 752h0M817 758h0M817 754h0M817 747h0M817 734h0M817 748h0M818 728h0M818 754h0M818 748h0M818 726h0M818 755h0M818 753h0M818 756h0M818 743h0M818 729h0M818 747h0M818 752h0M818 752h0M818 752h0M818 756h0M818 745h0M818 754h0M818 748h0M818 733h0M818 749h0M818 741h0M818 751h0M818 748h0M818 752h0M818 752h0M818 742h0M818 742h0M818 750h0M818 754h0M818 758h0M818 754h0M818 749h0M818 749h0M818 745h0M818 743h0M818 757h0M818 750h0M818 746h0M818 755h0M818 754h0M818 752h0M818 740h0M818 754h0M818 755h0M818 758h0M818 731h0M818 746h0M818 750h0M818 753h0M818 744h0M818 751h0M819 752h0M819 736h0M819 748h0M819 754h0M819 751h0M819 750h0M819 741h0M819 754h0M819 747h0M819 745h0M819 755h0M819 756h0M819 723h0M819 756h0M819 755h0M819 755h0M819 745h0M819 743h0M819 745h0M819 736h0M819 741h0M819 753h0M819 753h0M819 733h0M819 744h0M819 743h0M819 751h0M819 740h0M819 754h0M819 746h0M819 744h0M819 752h0M819 744h0M819 742h0M819 738h0M819 745h0M819 756h0M819 750h0M819 741h0M819 747h0M819 743h0M819 741h0M819 740h0M819 741h0M819 752h0M819 740h0M820 750h0M820 754h0M820 756h0M820 753h0M820 758h0M820 745h0M820 745h0M820 743h0M820 759h0M820 756h0M820 750h0M820 740h0M820 758h0M820 750h0M820 758h0M820 757h0M820 741h0M820 737h0M820 755h0M820 741h0M820 743h0M820 740h0M820 756h0M820 730h0M820 740h0M820 756h0M820 744h0"/>
<path stroke="#0000a3" d="M820 750h0M820 740h0M820 739h0M820 740h0M820 748h0M820 740h0M820 736h0M820 746h0M820 745h0M820 734h0M820 752h0M820 736h0M820 747h0M820 750h0M821 757h0M821 752h0M821 745h0M821 737h0M821 741h0M821 736h0M821 740h0M821 734h0M821 737h0M821 743h0M821 754h0M821 731h0M821 754h0M821 757h0M821 739h0M821 756h0M821 755h0M821 744h0M821 739h0M821 723h0M821 754h0M821 732h0M821 753h0M821 749h0M821 729h0M821 749h0M821 756h0M821 735h0M821 742h0M821 748h0M821 746h0M821 746h0M821 732h0M821 743h0M821 741h0M821 734h0M821 733h0M821 752h0M821 756h0M821 750h0M821 754h0M821 729h0M821 742h0M822 749h0M822 744h0M822 741h0M822 732h0M822 747h0M822 726h0M822 749h0M822 751h0M822 746h0M822 757h0M822 743h0M822 742h0M822 745h0M822 733h0M822 745h0M822 755h0M822 731h0M822 729h0M822 740h0M822 753h0M822 740h0M822 720h0M822 755h0M822 743h0M822 733h0M822 750h0M822 734h0M822 734h0M822 744h0M822 744h0M822 725h0M822 755h0M822 733h0M822 737h0M822 746h0M822 747h0M822 754h0M822 754h0M822 744h0M822 753h0M822 755h0M822 750h0M822 738h0M822 756h0M822 729h0M822 752h0M822 757h0M822 742h0M822 750h0M822 751h0M823 754h0M823 744h0M823 736h0M823 729h0M823 722h0M823 744h0M823 751h0M823 755h0M823 752h0M823 737h0M823 753h0M823 753h0M823 725h0M823 745h0M823 737h0M823 756h0M823 757h0M823 754h0M823 732h0M823 754h0M823 738h0M823 729h0M823 751h0M823 734h0M823 748h0M823 727h0M823 733h0M823 753h0M823 755h0M823 756h0M823 742h0M823 758h0M823 728h0M823 741h0M823 741h0M823 750h0M823 757h0M823 730h0M823 735h0M823 756h0M823 744h0M824 728h0M824 756h0M824 718h0M824 754h0M824 748h0M824 731h0M824 756h0M824 742h0M824 752h0M824 722h0M824 757h0M824 723h0M824 745h0M824 757h0M824 751h0M824 725h0"/>
<path stroke="#0000b1" d="M824 722h0M824 738h0M824 752h0M824 729h0M824 726h0M824 752h0M824 749h0M824 721h0M824 751h0M824 750h0M824 745h0M824 751h0M824 757h0M824 731h0M824 741h0M824 730h0M824 739h0M824 739h0M824 725h0M824 729h0M824 722h0M824 725h0M824 731h0M824 755h0M824 744h0M825 753h0M825 749h0M825 755h0M825 725h0M825 736h0M825 757h0M825 721h0M825 724h0M825 724h0M825 726h0M825 742h0M825 737h0M825 741h0M825 754h0M825 722h0M825 720h0M825 720h0M825 758h0M825 719h0M825 749h0M825 741h0M825 745h0M825 724h0M825 753h0M825 740h0M825 729h0M825 737h0M825 737h0M825 721h0M825 725h0M825 725h0M825 753h0M825 741h0M825 742h0M825 753h0M825 729h0M825 728h0M825 720h0M826 722h0M826 754h0M826 744h0M826 734h0M826 739h0M826 754h0M826 737h0M826 723h0M826 726h0M826 755h0M826 720h0M826 729h0M826 723h0M826 722h0M826 742h0M826 742h0M826 723h0M826 722h0M826 755h0M826 757h0M826 725h0M826 753h0M826 727h0M826 747h0M826 718h0M826 752h0M826 741h0M826 717h0M826 741h0M826 722h0M826 718h0M826 724h0M826 715h0M826 717h0M826 719h0M826 751h0M826 737h0M826 755h0M826 755h0M826 750h0M826 743h0M826 721h0M826 759h0M826 723h0M826 726h0M826 731h0M826 722h0M826 726h0M826 726h0M826 721h0M826 715h0M826 741h0M827 756h0M827 744h0M827 725h0M827 749h0M827 715h0M827 736h0M827 756h0M827 715h0M827 720h0M827 721h0M827 722h0M827 733h0M827 722h0M827 755h0M827 730h0M827 749h0M827 739h0M827 752h0M827 737h0M827 736h0M827 753h0M827 757h0M827 718h0M827 740h0M827 714h0M827 731h0M827 716h0M827 727h0M827 712h0M827 756h0M827 720h0M827 713h0M827 751h0M827 751h0M827 754h0M827 756h0M827 757h0M828 738h0M828 753h0M828 740h0"/>
<path stroke="#0000bf" d="M828 730h0M828 735h0M828 736h0M828 739h0M828 720h0M828 758h0M828 736h0M828 747h0M828 751h0M828 737h0M828 720h0M828 742h0M828 754h0M828 743h0M828 758h0M828 739h0M828 718h0M828 756h0M828 758h0M828 740h0M828 731h0M828 740h0M828 712h0M828 720h0M828 749h0M828 738h0M828 733h0M828 715h0M829 734h0M829 717h0M829 716h0M829 736h0M829 725h0M829 738h0M829 739h0M829 734h0M829 714h0M829 734h0M829 726h0M829 714h0M829 733h0M829 718h0M829 715h0M829 716h0M829 749h0M829 715h0M829 726h0M829 739h0M829 749h0M829 713h0M829 715h0M829 732h0M829 718h0M829 746h0M829 731h0M829 713h0M830 744h0M830 735h0M830 754h0M830 726h0M830 714h0M830 736h0M830 712h0M830 728h0M830 753h0M830 711h0M830 744h0M830 741h0M830 727h0M830 724h0M830 751h0M830 742h0M830 709h0M830 733h0M830 711h0M830 733h0M830 717h0M831 709h0M831 712h0M831 714h0M831 710h0M831 723h0M831 752h0"/>
<path stroke="#0000cd" d="M831 746h0M831 712h0M832 709h0M832 714h0M832 704h0M832 712h0M832 701h0M832 705h0M832 712h0M832 707h0M832 711h0M832 705h0M832 713h0M832 707h0M832 705h0M832 750h0M832 708h0M832 709h0M833 710h0M833 705h0M833 714h0M833 729h0M833 706h0M833 708h0M833 714h0M833 751h0M833 740h0M833 728h0M833 711h0M833 738h0M833 706h0M834 731h0M834 700h0M834 704h0M834 706h0M834 754h0M834 701h0M834 703h0M834 702h0M834 699h0M834 700h0M834 702h0M834 703h0M835 702h0"/>
<path stroke="#0000dc" d="M835 701h0M835 745h0M835 701h0M835 699h0M835 701h0M835 701h0M835 701h0M835 700h0M835 703h0M835 702h0M836 696h0M836 701h0M836 713h0M836 698h0M836 698h0M837 701h0M837 752h0M837 701h0M837 701h0M837 723h0M837 716h0M837 699h0M837 711h0M837 720h0M837 704h0M838 746h0M838 751h0M838 756h0M838 756h0M838 698h0M838 701h0M838 749h0M838 716h0M838 753h0M838 697h0M838 750h0M838 698h0"/>
<path stroke="#0000ea" d="M839 708h0M839 701h0M839 744h0M839 697h0M840 694h0M840 745h0M840 749h0M840 694h0M840 748h0M840 698h0M841 697h0M841 687h0M841 693h0M841 736h0M841 743h0M841 692h0M841 687h0M841 748h0M841 689h0M841 747h0M841 748h0M841 690h0M842 746h0M842 688h0M842 686h0M842 747h0M842 719h0M842 691h0M842 690h0M842 689h0M842 687h0M842 687h0M842 683h0"/>
<path stroke="#0000f8" d="M842 741h0M842 721h0M842 747h0M842 688h0M842 746h0M843 688h0M843 747h0M843 687h0M843 750h0M843 740h0M843 710h0M843 684h0M843 736h0M843 748h0M843 743h0M843 758h0M843 683h0M843 678h0M844 678h0M844 739h0M844 735h0M844 677h0M844 747h0M844 686h0M844 683h0M844 739h0M844 684h0M844 732h0M845 679h0M845 681h0M845 676h0M845 712h0M845 684h0M845 679h0M845 745h0M845 674h0M845 741h0M845 681h0M845 745h0M845 678h0M845 718h0M845 674h0M846 730h0"/>
<path stroke="#0007ff" d="M846 750h0M846 675h0M846 673h0M846 740h0M846 724h0M846 674h0M846 675h0M847 730h0M847 674h0M847 675h0M847 731h0M847 744h0M847 673h0M847 667h0M847 745h0M847 733h0M847 710h0M847 727h0M847 674h0M848 742h0M848 739h0M848 717h0M848 727h0M848 668h0M848 744h0M848 674h0M848 666h0M848 669h0M848 672h0M848 673h0M848 738h0M848 725h0M848 673h0M848 669h0M848 731h0M849 741h0M849 710h0M849 736h0M849 715h0M849 733h0M849 728h0M849 729h0M849 683h0"/>
<path stroke="#0015ff" d="M849 731h0M849 710h0M850 736h0M850 738h0M850 733h0M850 714h0M850 713h0M850 722h0M850 736h0M850 710h0M850 744h0M851 739h0M851 729h0M851 733h0M851 740h0M852 740h0M852 700h0M852 735h0M852 700h0M852 703h0M852 734h0M852 725h0M852 681h0M852 703h0M852 703h0M852 726h0M853 729h0M853 707h0M853 717h0M853 710h0M853 687h0"/>
<path stroke="#0023ff" d="M853 736h0M853 725h0M853 704h0M853 735h0M853 697h0M854 700h0M854 701h0M854 703h0M854 712h0M854 727h0M854 701h0M854 709h0M854 707h0M854 717h0M855 723h0M855 697h0M855 717h0M855 705h0M855 697h0M855 717h0M855 718h0M855 725h0M855 710h0M855 703h0M855 728h0M855 731h0M855 712h0M855 740h0M855 714h0M855 716h0M855 724h0M855 720h0M855 720h0M855 704h0M855 719h0M855 716h0M856 712h0M856 739h0M856 720h0M856 700h0M856 695h0M856 724h0M856 697h0M856 696h0M856 736h0M856 685h0M856 714h0M856 732h0M856 731h0M856 717h0M857 717h0"/>
<path stroke="#0032ff" d="M857 697h0M857 699h0M857 723h0M857 722h0M857 720h0M857 734h0M857 699h0M857 727h0M857 675h0M857 700h0M857 702h0M857 735h0M857 735h0M857 709h0M857 719h0M857 707h0M858 706h0M858 710h0M858 700h0M858 721h0M858 729h0M858 714h0M858 736h0M858 715h0M858 709h0M858 731h0M858 713h0M859 711h0M859 700h0M859 715h0M859 717h0M859 713h0M859 703h0M859 706h0M859 697h0M859 709h0M859 712h0M860 699h0M860 724h0M860 701h0M860 712h0M860 700h0M860 701h0M860 722h0"/>
<path stroke="#0040ff" d="M860 704h0M860 723h0M860 713h0M860 714h0M860 712h0M861 702h0M861 715h0M861 704h0M861 710h0M861 717h0M861 697h0M861 714h0M861 710h0M861 715h0M861 705h0M861 718h0M861 709h0M861 711h0M861 705h0M862 702h0M862 698h0M862 720h0M862 722h0M862 713h0M862 673h0M862 699h0M862 714h0M862 708h0M862 700h0M862 689h0M862 711h0M862 708h0M862 716h0M863 716h0M863 684h0M863 671h0M863 714h0M863 714h0M863 720h0M863 718h0M863 699h0M863 711h0M863 719h0M863 708h0M863 720h0M863 696h0M863 705h0M863 699h0M863 704h0M863 711h0M863 702h0M864 716h0M864 700h0M864 689h0M864 697h0M864 706h0M864 702h0M864 715h0"/>
<path stroke="#004eff" d="M864 705h0M864 710h0M864 711h0M864 707h0M864 719h0M864 719h0M864 715h0M865 702h0M865 705h0M865 705h0M865 701h0M865 716h0M865 715h0M865 726h0M865 712h0M865 691h0M865 680h0M865 708h0M865 700h0M865 669h0M865 738h0M865 721h0M865 711h0M865 734h0M865 715h0M865 718h0M866 739h0M866 712h0M866 704h0M866 698h0M866 699h0M866 713h0M866 697h0M866 703h0M866 718h0M866 700h0M866 747h0M866 708h0M866 702h0M866 717h0M866 716h0M866 716h0M866 709h0M866 712h0M866 690h0M866 704h0M867 697h0M867 700h0M867 707h0M867 741h0M867 719h0M867 704h0M867 718h0M867 698h0M867 691h0M867 711h0M867 699h0M867 703h0M867 699h0M867 716h0M867 701h0M867 681h0M867 703h0M867 701h0M867 711h0M867 709h0M867 692h0M867 687h0M867 727h0M867 700h0M867 669h0M867 700h0M867 703h0M867 708h0"/>
<path stroke="#005cff" d="M868 723h0M868 711h0M868 705h0M868 701h0M868 706h0M868 717h0M868 707h0M868 706h0M868 692h0M868 719h0M868 723h0M868 737h0M868 682h0M868 723h0M868 704h0M868 698h0M868 711h0M868 696h0M868 694h0M868 745h0M868 703h0M868 709h0M868 710h0M868 700h0M868 682h0M868 710h0M868 715h0M868 713h0M869 705h0M869 693h0M869 710h0M869 713h0M869 729h0M869 708h0M869 716h0M869 706h0M869 698h0M869 690h0M869 702h0M869 714h0M869 691h0M869 702h0M869 701h0M869 687h0M869 722h0M869 703h0M869 672h0M869 722h0M869 697h0M869 668h0M869 718h0M869 712h0M869 716h0M869 705h0M870 692h0M870 699h0M870 699h0M870 703h0M870 730h0M870 704h0M870 700h0M870 712h0M870 702h0M870 688h0M870 690h0M870 674h0M870 727h0M870 745h0M870 696h0M870 695h0M870 706h0M871 705h0M871 715h0M871 713h0M871 707h0M871 677h0M871 715h0M871 716h0M871 701h0M871 700h0M871 698h0M871 696h0M871 687h0M871 707h0M871 705h0M871 689h0M871 712h0"/>
<path stroke="#006aff" d="M871 682h0M871 676h0M871 696h0M871 668h0M871 696h0M871 703h0M871 692h0M871 696h0M871 695h0M871 686h0M872 697h0M872 706h0M872 695h0M872 717h0M872 673h0M872 673h0M872 675h0M872 714h0M872 713h0M872 719h0M872 700h0M872 713h0M872 693h0M872 752h0M872 692h0M872 693h0M872 707h0M872 681h0M873 702h0M873 740h0M873 696h0M873 690h0M873 718h0M873 693h0M873 749h0M873 711h0M873 688h0M873 673h0M873 706h0M873 704h0M873 713h0M873 745h0M873 714h0M874 708h0M874 739h0M874 693h0M874 701h0M874 718h0M874 672h0M874 693h0M874 696h0M874 693h0M874 692h0M874 704h0M874 672h0M874 703h0M874 704h0M874 702h0M874 680h0M874 681h0M875 695h0M875 703h0M875 691h0M875 684h0"/>
<path stroke="#0078ff" d="M875 724h0M875 716h0M875 720h0M875 671h0M875 684h0M876 717h0M876 687h0M876 674h0M876 737h0M876 676h0M876 707h0M876 698h0M876 725h0M876 692h0M876 698h0M876 706h0M876 685h0M876 669h0M876 674h0M876 699h0M876 694h0M876 666h0M876 677h0M876 697h0M876 737h0M876 677h0M876 681h0M876 679h0M876 698h0M876 686h0M877 734h0M877 694h0M877 687h0M877 741h0M877 707h0M877 682h0M877 708h0M877 665h0M877 683h0M877 678h0M877 715h0M877 698h0M877 677h0M877 688h0M877 676h0M877 721h0M877 701h0M877 678h0M877 709h0M877 689h0M877 700h0M878 697h0M878 702h0M878 715h0M878 697h0M878 713h0M878 699h0M878 728h0M878 714h0M878 715h0M878 677h0M878 702h0M878 730h0M878 666h0M878 697h0M878 672h0M878 672h0M878 740h0"/>
<path stroke="#0087ff" d="M879 667h0M879 705h0M879 666h0M879 668h0M879 695h0M879 701h0M879 669h0M879 673h0M879 697h0M879 700h0M879 743h0M879 695h0M879 736h0M879 681h0M879 670h0M879 704h0M879 737h0M879 738h0M880 670h0M880 685h0M880 688h0M880 750h0M880 727h0M880 672h0M880 660h0M880 716h0M880 703h0M880 671h0M880 692h0M881 678h0M881 665h0M881 719h0M881 695h0M881 665h0M881 692h0M881 706h0M881 739h0M881 724h0M881 663h0M881 698h0M882 673h0M882 664h0M882 659h0M882 692h0M882 662h0M882 699h0M882 705h0M882 652h0"/>
<path stroke="#0095ff" d="M882 731h0M882 751h0M883 728h0M883 660h0M883 703h0M883 663h0M883 696h0M883 652h0M883 702h0M883 701h0M883 713h0M883 713h0M883 700h0M883 703h0M883 660h0M884 692h0M884 661h0M884 702h0M884 699h0M884 701h0M884 659h0M884 701h0M884 711h0M884 659h0M885 699h0M885 646h0M885 701h0M885 700h0M885 711h0M885 699h0M885 649h0M885 702h0M885 659h0M885 698h0M885 662h0M885 661h0M885 672h0M885 704h0M885 701h0M885 708h0M885 697h0M885 654h0M886 694h0M886 706h0M886 737h0M886 717h0"/>
<path stroke="#00a3ff" d="M886 654h0M886 702h0M886 687h0M886 658h0M886 656h0M886 693h0M886 692h0M886 702h0M886 660h0M887 646h0M887 700h0M887 656h0M887 737h0M887 652h0M887 649h0M887 702h0M887 720h0M887 685h0M887 694h0M887 657h0M887 729h0M887 662h0M887 704h0M888 688h0M888 718h0M888 700h0M888 756h0M888 644h0M888 656h0M888 687h0M888 723h0M888 746h0M888 649h0M888 712h0M888 656h0M888 721h0M888 666h0M889 757h0M889 654h0M889 640h0M889 660h0M889 646h0M889 646h0M889 703h0M889 707h0"/>
<path stroke="#00b1ff" d="M889 644h0M890 701h0M890 651h0M890 643h0M890 699h0M890 693h0M890 657h0M890 656h0M890 659h0M890 651h0M891 697h0M891 641h0M891 657h0M891 657h0M891 636h0M891 656h0M891 698h0M891 675h0M891 634h0M891 654h0M891 627h0M891 691h0M892 641h0M892 630h0M893 638h0M893 640h0M893 693h0M893 628h0"/>
<path stroke="#00bfff" d="M893 646h0M893 622h0M893 648h0M894 613h0M894 619h0M894 648h0M895 624h0M895 631h0M896 692h0M896 622h0M896 626h0M897 678h0"/>
<path stroke="#00cdff" d="M897 647h0M897 614h0M897 618h0M897 614h0M897 699h0M897 669h0M898 623h0M898 617h0M898 612h0M898 613h0M898 605h0M899 624h0M899 606h0M899 619h0M899 610h0M899 615h0M900 582h0M900 585h0M900 583h0M900 605h0M900 594h0M900 583h0M900 578h0M900 700h0M900 657h0M900 584h0M900 592h0M900 748h0"/>
<path stroke="#00dcff" d="M900 601h0M900 582h0M901 748h0M901 587h0M901 592h0M901 593h0M902 585h0M902 596h0M902 581h0M902 751h0M902 602h0M902 605h0M902 605h0M902 593h0M903 593h0M903 580h0M903 608h0M903 701h0M903 592h0M903 586h0M903 581h0M903 592h0M903 580h0M904 594h0M904 582h0M904 600h0M904 593h0M904 582h0M904 701h0M904 582h0"/>
<path stroke="#00eaff" d="M904 699h0M904 593h0M904 598h0M904 581h0M904 599h0M904 583h0M904 583h0M905 588h0M905 697h0M905 596h0M905 608h0M905 695h0M905 578h0M905 589h0M905 603h0M905 591h0M905 696h0M905 592h0M905 585h0M905 578h0M905 596h0M905 604h0M905 586h0M906 590h0M906 581h0M906 586h0M906 599h0M906 594h0M906 587h0M906 701h0M906 583h0M906 591h0M906 697h0M906 587h0M906 588h0M906 593h0M906 581h0M906 594h0M907 583h0M907 587h0M907 583h0M907 590h0M907 582h0M907 691h0M907 586h0M907 702h0M907 700h0M907 576h0M907 698h0M907 582h0"/>
<path stroke="#00f8ff" d="M908 593h0M908 592h0M908 588h0M908 591h0M908 597h0M908 577h0M908 589h0M908 586h0M908 597h0M908 582h0M908 584h0M908 579h0M908 579h0M908 574h0M909 692h0M909 748h0M909 581h0M909 697h0M909 589h0M909 657h0M909 580h0M909 588h0M909 580h0M909 575h0M910 704h0M910 579h0M910 582h0M910 698h0M910 583h0M910 587h0M910 595h0M911 750h0M911 657h0"/>
<path stroke="#07fff8" d="M911 683h0M911 697h0M911 590h0M912 749h0M912 588h0M912 699h0M912 588h0M912 585h0M913 748h0M915 702h0"/>
<path stroke="#15ffea" d="M917 748h0M918 702h0"/>
<path stroke="#23ffdc" d="M919 748h0M919 692h0M920 691h0M920 696h0M920 748h0M920 696h0M920 689h0M921 687h0M921 695h0M921 698h0M922 697h0"/>
<path stroke="#32ffcd" d="M923 689h0M923 705h0M923 696h0M924 689h0M925 705h0M926 694h0"/>
<path stroke="#40ffbf" d="M926 699h0M926 699h0M926 699h0M926 699h0M927 693h0M927 698h0M927 697h0M928 699h0M928 698h0M928 702h0M929 716h0M929 700h0"/>
<path stroke="#4effb1" d="M929 700h0M930 697h0M930 695h0M930 690h0M931 701h0M931 695h0M932 699h0M932 698h0M932 700h0M932 696h0M933 693h0"/>
<path stroke="#5cffa3" d="M933 722h0M933 694h0M934 694h0M934 700h0M934 700h0M934 693h0M934 690h0M935 693h0M935 695h0M935 698h0M935 694h0M935 689h0M936 692h0M936 690h0M936 697h0M936 703h0"/>
<path stroke="#6aff95" d="M937 692h0M937 700h0M937 692h0M937 691h0M938 708h0M938 683h0M938 687h0M938 694h0M939 696h0M939 690h0M939 690h0M939 687h0M939 693h0M940 719h0M940 698h0M940 685h0M940 687h0M940 685h0M940 691h0"/>
<path stroke="#78ff87" d="M940 699h0M940 716h0M940 723h0M940 686h0M941 693h0M941 698h0M941 687h0M941 687h0M942 690h0M942 693h0M942 688h0M942 751h0M942 715h0M942 731h0M942 690h0M942 683h0M943 748h0M943 676h0M943 751h0M943 689h0M943 722h0M943 743h0M943 758h0M943 742h0M943 735h0M943 681h0M943 680h0M944 704h0M944 693h0"/>
<path stroke="#87ff78" d="M944 685h0M944 692h0M944 685h0M944 688h0M945 698h0M945 713h0M945 692h0M945 723h0M945 689h0M946 689h0M946 687h0M946 687h0M946 714h0M946 717h0M947 714h0M947 708h0M947 674h0M947 691h0"/>
<path stroke="#95ff6a" d="M948 688h0M948 682h0M948 688h0M948 716h0M948 715h0M948 738h0M948 708h0M948 723h0M948 714h0M948 728h0M948 709h0M948 721h0M948 685h0M948 710h0M949 688h0M949 688h0M949 682h0M949 688h0M949 714h0M949 721h0M949 721h0M949 717h0M949 722h0M950 717h0M950 722h0M950 689h0M950 723h0M951 720h0M951 724h0"/>
<path stroke="#a3ff5c" d="M951 692h0M951 674h0M951 677h0M951 725h0M951 689h0M951 722h0M952 724h0M952 710h0M952 709h0M952 709h0M953 721h0M953 706h0M953 730h0M953 724h0M953 726h0M953 724h0M953 725h0M954 725h0M954 686h0M954 708h0M954 733h0M954 738h0M954 727h0M954 682h0M954 683h0M954 748h0M954 714h0M954 736h0M954 714h0M954 707h0M954 715h0M954 693h0M954 726h0M954 715h0M954 740h0M954 721h0M955 727h0M955 732h0M955 694h0M955 728h0M955 700h0"/>
<path stroke="#b1ff4e" d="M955 729h0M955 728h0M955 732h0M955 679h0M955 712h0M956 729h0M956 704h0M956 718h0M957 732h0M957 707h0M957 685h0M957 703h0M957 736h0M957 684h0M957 713h0M958 679h0M958 679h0M958 732h0"/>
<path stroke="#bfff40" d="M959 712h0M959 677h0M959 700h0M959 713h0M960 735h0M960 683h0M960 737h0M960 716h0M960 711h0M960 709h0M960 703h0M960 708h0M960 685h0M960 687h0M960 684h0M960 737h0M961 735h0M961 709h0M961 708h0M961 677h0M961 690h0M961 734h0M962 714h0M962 678h0M962 736h0"/>
<path stroke="#cdff32" d="M962 684h0M962 678h0M962 672h0M962 706h0M962 683h0M962 680h0M963 679h0M963 675h0M963 670h0M963 671h0M963 681h0M963 702h0M963 719h0M963 675h0M963 742h0M963 683h0M963 738h0M963 684h0M964 702h0M964 676h0M964 685h0M965 714h0M965 742h0M965 730h0M965 723h0M965 696h0M965 691h0M965 704h0M965 757h0M965 705h0M965 714h0M965 679h0M965 695h0M965 738h0M965 686h0M965 703h0M965 695h0M965 681h0M965 738h0M966 690h0M966 695h0M966 713h0M966 696h0M966 688h0M966 682h0"/>
<path stroke="#dcff23" d="M966 730h0M966 714h0M966 733h0M967 744h0M967 703h0M967 674h0M967 724h0M968 735h0M968 675h0M968 676h0M968 727h0M968 681h0M968 697h0M968 671h0M968 669h0M968 706h0M968 720h0M968 670h0M968 690h0M968 672h0M968 682h0M968 671h0M968 702h0M969 670h0M969 678h0M969 711h0"/>
<path stroke="#eaff15" d="M970 698h0M970 674h0M971 738h0M971 696h0M971 703h0M971 674h0M971 707h0M971 705h0M971 748h0M971 697h0M971 706h0M971 677h0M971 701h0M972 706h0M972 744h0M972 711h0M972 699h0M972 715h0M972 698h0M973 689h0M973 705h0M973 672h0M973 681h0M973 681h0"/>
<path stroke="#f8ff07" d="M973 752h0M973 745h0M973 699h0M973 671h0M973 733h0M973 712h0M973 709h0M974 675h0M974 732h0M974 745h0M974 673h0M974 746h0M974 754h0M974 705h0M974 681h0M974 741h0M974 713h0M974 695h0M974 671h0M974 703h0M974 699h0M974 726h0M974 721h0M974 733h0M974 703h0M974 676h0M974 746h0M974 692h0M975 698h0M975 701h0M976 681h0M976 696h0M976 734h0M976 696h0M976 679h0M976 674h0M977 671h0M977 675h0"/>
<path stroke="#fff800" d="M977 709h0M977 669h0M977 746h0M977 734h0M977 671h0M977 676h0M977 694h0M977 694h0M977 734h0M978 697h0M979 677h0M979 670h0M979 705h0M979 702h0M979 735h0M979 692h0M979 696h0M979 700h0M979 680h0M979 672h0M979 703h0M979 701h0M980 736h0M980 742h0M980 740h0"/>
<path stroke="#ffea00" d="M980 734h0M981 698h0M982 678h0M982 678h0M982 693h0M982 690h0M983 735h0M983 729h0M983 753h0M983 723h0M983 738h0M983 720h0M983 672h0M983 726h0M983 718h0M983 724h0M983 728h0M983 735h0M983 715h0M983 745h0M984 726h0M984 754h0M984 714h0M984 750h0M984 715h0M984 723h0M984 727h0M984 752h0"/>
<path stroke="#ffdc00" d="M984 747h0M984 745h0M984 746h0M984 740h0M984 753h0M984 748h0M984 751h0M985 704h0M985 748h0M985 722h0M985 753h0M985 705h0M985 715h0M985 751h0M985 732h0M985 709h0M985 722h0M985 693h0M985 754h0M985 684h0M985 742h0M985 753h0M985 689h0M985 734h0M985 685h0M985 679h0M985 715h0M985 733h0M985 750h0M985 721h0M985 746h0M985 752h0M985 753h0M985 687h0M985 746h0M985 728h0M985 666h0M985 702h0M985 743h0M985 720h0M985 750h0M985 753h0M986 748h0M986 746h0M986 714h0M986 721h0M986 704h0M986 697h0M986 696h0M987 693h0M987 703h0"/>
<path stroke="#ffcd00" d="M988 703h0M988 693h0M988 696h0M988 688h0M988 700h0M988 715h0M988 691h0M988 689h0M988 674h0M988 686h0M988 701h0M988 702h0M988 692h0M988 692h0M989 697h0M989 697h0M989 695h0M990 723h0M990 689h0M990 706h0M990 695h0M991 684h0M991 698h0M991 699h0M991 686h0M991 700h0M991 703h0M991 694h0M991 702h0M991 697h0"/>
<path stroke="#ffbf00" d="M991 698h0M992 696h0M992 725h0M992 744h0M992 726h0M992 739h0M992 725h0M992 754h0M992 717h0M992 736h0M992 694h0M992 722h0M992 702h0M992 753h0M993 687h0M993 707h0M993 699h0M993 695h0M993 706h0M993 687h0M993 688h0M993 687h0M993 726h0M993 700h0M993 689h0M993 690h0M993 700h0M993 688h0M993 699h0M993 692h0M993 721h0M993 689h0M993 703h0M993 717h0M994 685h0M994 682h0M994 696h0M994 708h0M994 686h0M994 683h0M994 687h0M994 706h0M994 698h0M994 704h0M995 705h0"/>
<path stroke="#ffb100" d="M995 693h0M995 690h0M996 708h0M996 708h0M996 702h0M996 692h0M996 692h0M996 693h0M996 685h0M996 709h0M996 685h0M996 687h0M996 694h0M997 685h0M997 703h0M997 680h0M997 707h0M997 745h0M997 724h0M997 722h0M997 724h0M997 716h0M997 723h0M998 705h0M998 717h0M998 723h0M998 718h0M998 716h0M998 710h0M998 714h0M998 701h0M998 720h0M998 723h0M998 722h0M998 722h0M998 720h0M998 717h0M998 722h0M998 722h0M998 715h0M998 712h0M998 750h0M998 722h0M998 724h0"/>
<path stroke="#ffa300" d="M998 678h0M998 711h0M998 713h0M999 719h0M999 684h0M999 691h0M999 684h0M999 687h0M999 707h0M999 708h0M999 691h0M999 705h0M999 680h0M999 700h0M999 727h0M999 732h0M999 732h0M999 706h0M999 692h0M999 692h0M999 690h0M999 684h0M999 688h0M999 699h0M999 683h0M999 702h0M1000 688h0M1000 690h0M1000 706h0M1001 690h0M1001 688h0M1002 679h0M1002 680h0M1002 693h0M1002 704h0M1002 701h0M1002 682h0M1002 692h0M1002 688h0M1002 739h0M1002 688h0M1002 683h0M1002 709h0M1002 687h0M1002 689h0M1002 698h0"/>
<path stroke="#ff9500" d="M1002 688h0M1002 690h0M1002 679h0M1002 689h0M1003 704h0M1003 732h0M1003 755h0M1003 727h0M1003 754h0M1003 746h0M1003 710h0M1003 689h0M1003 692h0M1004 709h0M1004 725h0M1004 713h0M1004 721h0M1004 686h0M1004 710h0M1004 681h0M1004 690h0M1004 698h0M1004 686h0M1004 709h0M1004 750h0M1005 686h0M1005 682h0M1005 691h0M1005 688h0M1005 693h0M1005 691h0M1005 694h0M1005 686h0M1005 683h0M1005 685h0M1005 707h0M1005 681h0M1005 675h0M1005 705h0M1005 684h0M1005 712h0M1005 680h0M1005 686h0M1005 687h0M1005 695h0"/>
<path stroke="#ff8700" d="M1006 724h0M1006 684h0M1006 688h0M1006 687h0M1007 679h0M1007 751h0M1007 681h0M1007 685h0M1007 696h0M1007 710h0M1007 715h0M1007 686h0M1007 684h0M1007 697h0M1007 745h0M1007 742h0M1008 691h0M1008 681h0M1008 707h0M1008 683h0M1008 690h0M1008 692h0M1008 682h0M1008 705h0M1008 687h0M1008 684h0M1008 704h0M1008 687h0M1008 678h0M1008 703h0M1008 702h0M1008 686h0M1008 690h0M1008 678h0M1008 691h0M1008 683h0M1009 746h0M1009 673h0M1009 715h0M1009 691h0M1009 684h0"/>
<path stroke="#ff7800" d="M1009 691h0M1010 675h0M1010 686h0M1010 689h0M1010 679h0M1010 691h0M1010 690h0M1010 682h0M1010 703h0M1010 732h0M1010 719h0M1011 680h0M1011 733h0M1011 681h0M1011 713h0M1011 714h0M1011 720h0M1011 710h0M1011 690h0M1011 736h0M1011 753h0M1011 740h0M1012 683h0M1012 690h0M1012 681h0M1013 678h0M1013 682h0M1013 686h0"/>
<path stroke="#ff6a00" d="M1013 687h0M1013 692h0M1013 681h0M1013 687h0M1013 676h0M1013 706h0M1013 689h0M1013 680h0M1013 679h0M1013 686h0M1013 680h0M1013 681h0M1013 683h0M1013 709h0M1014 691h0M1014 692h0M1014 684h0M1014 695h0M1014 678h0M1014 671h0M1014 667h0M1014 673h0M1015 707h0M1015 708h0M1015 706h0M1015 705h0M1015 707h0M1015 706h0M1015 705h0M1015 671h0M1015 707h0M1015 708h0M1015 705h0M1015 708h0M1015 685h0M1015 706h0M1015 708h0M1015 705h0M1015 707h0M1015 708h0M1015 706h0M1015 704h0M1015 704h0M1015 706h0M1015 708h0M1015 685h0M1015 708h0M1015 708h0M1015 705h0M1016 704h0M1016 684h0M1016 707h0M1016 684h0M1016 674h0M1016 707h0M1016 709h0M1016 679h0M1016 683h0M1016 680h0M1016 709h0M1016 708h0M1016 688h0M1016 677h0M1016 674h0M1016 682h0M1016 703h0M1017 676h0"/>
<path stroke="#ff5c00" d="M1018 686h0M1018 690h0M1018 686h0M1018 675h0M1018 675h0M1018 705h0M1018 707h0M1018 682h0M1018 687h0M1018 703h0M1018 686h0M1019 705h0M1019 682h0M1019 678h0M1019 675h0M1019 693h0M1019 682h0M1019 674h0M1019 679h0M1019 702h0M1019 689h0M1019 688h0M1019 672h0M1019 678h0M1019 705h0M1019 683h0M1020 674h0M1020 684h0"/>
<path stroke="#ff4e00" d="M1021 756h0M1021 716h0M1021 729h0M1021 669h0M1021 674h0M1021 687h0M1021 671h0M1021 718h0M1021 758h0M1021 733h0M1022 680h0M1022 669h0M1022 678h0M1022 710h0M1022 681h0M1022 748h0M1022 681h0M1022 678h0M1022 671h0M1022 745h0M1022 735h0M1022 675h0M1022 670h0M1022 671h0M1023 674h0M1024 669h0"/>
<path stroke="#ff4000" d="M1024 682h0M1024 668h0M1024 675h0M1024 667h0M1024 686h0M1024 670h0M1024 668h0M1024 672h0M1024 667h0M1024 667h0M1024 662h0M1024 674h0M1024 668h0M1025 669h0M1025 668h0M1025 669h0M1026 680h0M1027 670h0M1027 663h0M1027 666h0M1027 683h0M1027 662h0M1027 663h0"/>
<path stroke="#ff3200" d="M1028 684h0M1028 682h0M1029 660h0M1030 673h0M1030 662h0M1030 656h0M1030 679h0M1030 660h0"/>
<path stroke="#ff2300" d="M1031 664h0M1031 677h0M1032 658h0M1032 742h0M1032 730h0M1032 708h0M1032 746h0M1032 721h0M1032 710h0M1032 734h0M1032 731h0M1032 725h0M1032 733h0M1032 687h0M1032 739h0M1032 725h0M1032 722h0M1032 728h0M1033 713h0M1033 730h0M1033 731h0M1033 732h0M1033 688h0M1033 711h0M1033 721h0M1033 689h0M1033 696h0M1033 740h0M1033 728h0M1033 737h0M1033 721h0M1033 681h0M1033 744h0M1033 660h0M1033 711h0M1033 704h0M1033 741h0M1033 705h0M1033 719h0M1033 730h0M1033 737h0M1033 655h0M1033 742h0M1033 737h0M1033 709h0M1033 713h0M1033 739h0M1034 698h0M1034 715h0M1034 694h0M1034 692h0M1034 737h0M1034 721h0M1034 702h0M1034 723h0M1034 720h0M1034 739h0M1034 732h0M1034 646h0M1034 690h0M1034 744h0M1034 735h0M1034 733h0M1034 660h0M1034 744h0M1034 691h0M1034 734h0M1034 702h0M1034 700h0M1034 703h0M1034 738h0M1034 715h0M1034 690h0M1034 669h0M1034 704h0M1034 733h0M1034 735h0M1034 696h0M1034 713h0M1034 702h0M1034 700h0M1034 698h0M1034 661h0M1034 701h0M1034 702h0M1035 702h0M1035 705h0M1035 704h0M1035 700h0M1035 663h0M1035 698h0M1035 661h0M1035 740h0M1035 700h0"/>
<path stroke="#ff1500" d="M1035 661h0M1035 702h0M1035 676h0M1035 692h0M1035 662h0M1035 699h0M1035 735h0M1035 654h0M1035 704h0M1035 698h0M1035 694h0M1035 692h0M1035 694h0M1035 701h0M1035 668h0M1035 654h0M1035 697h0M1035 701h0M1035 676h0M1035 650h0M1035 676h0M1035 698h0M1035 688h0M1035 698h0M1035 658h0M1035 678h0M1035 702h0M1035 734h0M1035 649h0M1035 662h0M1035 695h0M1036 653h0M1036 704h0M1036 736h0M1036 688h0M1036 687h0M1036 683h0M1036 665h0M1036 733h0M1036 747h0M1036 735h0M1036 685h0M1036 656h0M1036 672h0M1036 696h0M1036 692h0M1036 648h0M1036 746h0M1036 691h0M1036 701h0M1036 703h0M1036 736h0M1036 679h0M1036 655h0M1036 698h0M1036 693h0M1036 702h0M1036 680h0M1036 677h0M1036 649h0M1036 678h0M1036 699h0M1036 670h0M1036 667h0M1036 660h0M1036 671h0M1036 676h0M1037 656h0M1037 668h0M1037 701h0M1037 663h0M1037 702h0M1037 706h0M1037 660h0M1037 699h0M1037 699h0M1037 699h0M1037 662h0M1037 673h0M1037 667h0M1037 660h0M1037 643h0M1037 662h0M1037 700h0M1037 701h0M1037 659h0M1037 638h0M1037 708h0M1037 706h0M1037 650h0M1037 651h0M1037 656h0M1037 655h0M1037 699h0M1038 703h0M1038 699h0M1038 668h0M1038 706h0M1038 699h0M1038 644h0M1038 628h0M1038 639h0M1038 656h0M1038 632h0M1038 657h0M1038 699h0M1038 666h0M1038 662h0M1038 739h0M1038 720h0M1038 698h0M1038 683h0M1038 649h0M1038 706h0M1038 675h0M1038 668h0M1038 650h0M1038 744h0M1038 746h0M1038 714h0M1038 664h0M1038 738h0M1038 677h0M1038 665h0M1038 616h0M1038 670h0M1038 719h0M1038 698h0M1038 616h0M1038 624h0M1038 669h0M1038 648h0M1038 657h0M1038 658h0M1038 688h0M1038 750h0M1038 667h0M1038 713h0M1038 713h0M1038 705h0M1038 718h0"/>
<path stroke="#ff0700" d="M1038 662h0M1038 666h0M1038 720h0M1038 711h0M1038 708h0M1038 700h0M1038 739h0M1038 683h0M1038 704h0M1038 710h0M1038 666h0M1038 666h0M1039 679h0M1039 730h0M1039 679h0M1039 672h0M1039 666h0M1039 712h0M1039 658h0M1039 734h0M1039 687h0M1039 663h0M1039 685h0M1039 645h0M1039 668h0M1039 699h0M1039 614h0M1039 714h0M1039 723h0M1039 702h0M1039 604h0M1039 747h0M1039 675h0M1039 662h0M1039 707h0M1039 593h0M1039 735h0M1039 710h0M1039 602h0M1039 717h0M1039 588h0M1039 594h0M1039 665h0M1039 653h0M1039 702h0M1039 655h0M1040 589h0M1040 598h0M1040 654h0M1040 704h0M1040 585h0M1040 706h0M1040 662h0M1040 593h0M1040 712h0M1040 704h0M1040 580h0M1040 700h0M1040 669h0M1040 699h0M1040 699h0M1040 653h0M1041 706h0M1041 665h0M1041 667h0M1041 715h0M1041 702h0M1041 670h0M1041 730h0M1041 664h0M1041 726h0M1041 689h0M1041 657h0M1041 719h0M1041 677h0M1041 756h0M1041 696h0M1041 711h0M1041 723h0M1041 680h0M1041 717h0M1041 680h0M1041 669h0M1041 663h0M1041 711h0M1041 705h0M1041 734h0M1041 700h0M1041 721h0M1041 673h0M1041 706h0M1041 664h0M1041 720h0M1041 704h0M1041 715h0M1041 648h0M1041 686h0M1041 715h0M1041 730h0M1041 742h0M1041 681h0M1041 758h0M1041 745h0M1041 746h0M1041 754h0M1041 719h0M1042 727h0M1042 658h0M1042 751h0M1042 725h0M1042 723h0M1042 730h0M1042 729h0"/>
<path stroke="#f80000" d="M1042 685h0M1042 720h0M1042 650h0M1042 716h0M1042 728h0M1042 712h0M1043 650h0M1043 714h0M1043 676h0M1044 719h0M1044 678h0M1044 668h0M1044 736h0M1044 679h0M1044 672h0M1044 684h0M1044 750h0M1044 666h0M1044 651h0M1044 748h0M1044 684h0M1044 662h0M1044 695h0M1044 670h0M1044 669h0M1044 687h0M1044 746h0M1044 747h0M1044 734h0M1044 738h0M1044 676h0M1044 668h0M1044 737h0M1044 720h0M1044 690h0M1044 649h0M1044 690h0M1044 692h0M1045 684h0M1045 667h0M1046 703h0"/>
<path stroke="#ea0000" d="M1046 670h0M1046 733h0M1046 737h0M1046 735h0M1046 733h0M1046 719h0M1046 673h0M1046 733h0M1046 738h0M1046 671h0M1046 676h0M1046 737h0M1046 727h0M1046 677h0M1047 723h0M1047 712h0M1047 740h0M1047 715h0M1047 703h0M1047 709h0M1047 734h0M1047 738h0M1047 669h0M1047 735h0M1047 692h0M1047 751h0M1047 733h0M1047 675h0M1047 701h0M1047 736h0M1047 736h0M1047 717h0M1047 686h0M1047 722h0M1047 755h0M1047 671h0M1047 750h0M1047 676h0M1047 713h0M1047 718h0M1047 656h0M1047 686h0M1047 685h0M1047 741h0M1047 736h0M1047 675h0M1047 746h0M1047 690h0M1047 693h0M1047 725h0M1047 721h0M1047 674h0M1047 744h0M1047 730h0M1047 746h0M1048 746h0M1048 728h0M1048 676h0M1049 715h0M1049 681h0M1049 672h0M1049 669h0M1049 670h0"/>
<path stroke="#dc0000" d="M1049 718h0M1049 683h0M1050 702h0M1050 674h0M1050 649h0M1050 654h0M1050 688h0M1050 689h0M1050 671h0M1050 678h0M1050 674h0M1050 686h0M1050 701h0M1050 702h0M1050 720h0M1050 705h0M1050 649h0M1050 739h0M1050 663h0M1050 681h0M1050 699h0M1050 698h0M1051 698h0M1051 693h0M1051 665h0M1051 659h0M1051 723h0M1052 749h0M1052 712h0M1052 752h0M1052 726h0M1052 748h0M1052 709h0M1052 648h0M1052 682h0M1052 677h0M1052 731h0M1052 653h0M1052 650h0M1052 661h0M1052 670h0M1052 678h0M1052 685h0M1052 722h0M1052 666h0M1052 742h0M1052 711h0M1052 756h0M1052 738h0M1052 708h0M1052 672h0M1052 668h0M1052 711h0M1052 683h0M1052 711h0M1052 720h0M1052 706h0M1053 671h0M1053 655h0M1053 669h0M1053 695h0M1053 678h0M1053 670h0M1053 684h0M1053 662h0M1053 685h0"/>
<path stroke="#cd0000" d="M1053 702h0M1054 709h0M1054 645h0M1055 646h0M1055 725h0M1055 690h0M1055 671h0M1055 705h0M1055 664h0M1055 665h0M1055 658h0M1055 667h0M1055 683h0M1055 649h0M1055 722h0M1055 692h0M1056 702h0M1056 674h0M1056 677h0M1056 665h0M1056 639h0M1056 685h0M1056 688h0M1056 651h0M1057 688h0"/>
<path stroke="#bf0000" d="M1057 693h0M1057 637h0M1057 661h0M1057 669h0M1058 669h0M1058 691h0M1058 671h0M1058 679h0M1058 668h0M1058 683h0M1058 671h0M1058 677h0M1058 672h0M1058 694h0M1058 640h0M1058 681h0M1058 691h0M1058 670h0M1058 708h0M1058 683h0M1059 669h0M1059 699h0M1059 670h0M1059 672h0M1059 669h0M1059 675h0M1059 640h0M1059 665h0M1059 666h0M1060 749h0M1060 741h0M1060 743h0M1060 735h0M1060 639h0M1060 749h0M1060 754h0M1060 670h0M1060 754h0M1060 750h0M1060 634h0M1060 634h0"/>
<path stroke="#b10000" d="M1060 632h0M1060 735h0M1061 731h0M1061 687h0M1061 635h0M1061 638h0M1061 637h0M1061 666h0M1061 640h0M1061 642h0M1061 673h0M1061 639h0M1061 634h0M1061 668h0M1061 668h0M1061 668h0M1061 635h0M1061 641h0M1061 668h0M1061 639h0M1062 637h0M1062 638h0M1062 686h0M1062 686h0M1062 638h0M1062 638h0M1062 636h0M1062 638h0M1062 638h0M1062 641h0M1062 633h0M1062 690h0M1062 635h0M1062 639h0M1062 628h0M1063 637h0M1063 667h0M1063 625h0M1063 635h0M1063 636h0M1063 683h0M1063 640h0M1063 634h0M1063 633h0M1063 677h0M1063 664h0M1063 690h0M1064 683h0M1064 635h0M1064 682h0M1064 629h0M1064 670h0M1064 631h0M1064 633h0M1064 637h0M1064 628h0M1064 689h0M1064 641h0M1064 638h0"/>
<path stroke="#a30000" d="M1064 668h0M1064 643h0M1064 636h0M1064 664h0M1064 668h0M1064 689h0M1065 689h0M1065 664h0M1065 630h0M1065 669h0M1066 632h0M1066 631h0M1066 630h0M1066 671h0M1066 635h0M1066 628h0M1066 665h0M1066 638h0M1066 640h0M1066 638h0M1067 670h0M1067 639h0M1067 628h0M1067 667h0M1067 669h0M1067 636h0M1067 634h0M1067 669h0M1067 632h0M1067 632h0M1067 672h0M1067 670h0"/>
<path stroke="#950000" d="M1068 636h0M1068 669h0M1068 635h0M1069 684h0M1069 670h0M1069 669h0M1069 686h0M1069 641h0M1069 678h0M1069 635h0M1069 636h0M1069 636h0M1069 671h0M1069 636h0M1069 689h0M1069 633h0M1069 628h0M1069 678h0M1069 636h0M1069 636h0M1070 664h0M1070 633h0M1070 634h0M1070 637h0M1071 690h0M1071 673h0"/>
<path stroke="#870000" d="M1071 628h0M1071 682h0M1072 665h0M1072 639h0M1072 687h0M1072 690h0M1072 664h0M1072 685h0M1072 637h0M1072 673h0M1072 628h0M1072 637h0M1072 674h0M1072 667h0M1072 636h0M1072 684h0M1073 628h0M1073 664h0M1073 632h0M1073 684h0M1073 633h0M1073 665h0M1073 671h0"/>
</g></g>
<path clip-path="url(#ce)" d="M406.5 379.5L537.4 351.3" stroke="#ff3b3b" stroke-width=".9" stroke-dasharray="5 3" fill="none"/>
<path d="M406.5 282.5H535.5V379.5H406.5Z" stroke="#8a8a8a" stroke-width="1" fill="none" shape-rendering="crispEdges"/>
<path d="M406.5 379.5v-4M406.5 282.5v4M501.5 379.5v-4M501.5 282.5v4M406.5 379.5h4M535.5 379.5h-4M406.5 339.5h4M535.5 339.5h-4M406.5 299.5h4M535.5 299.5h-4" stroke="#9d9d9d" stroke-width="1" fill="none" shape-rendering="crispEdges"/>
<g font-size="12" text-anchor="middle">
<text x="406.5" y="396.8">0</text>
<text x="501.4" y="396.8">500</text>
</g><g font-size="12" text-anchor="end">
<text x="401.5" y="384.2">0</text>
<text x="401.5" y="344.4">10</text>
<text x="401.5" y="304.7">20</text>
</g>
<text font-size="13.2" text-anchor="middle" x="456" y="408.5">Time (ms)</text>
<text font-size="13.2" text-anchor="middle" transform="translate(379.5 331) rotate(-90)">distance (km)</text>
<text class="s" x="496" y="302.1">(e)</text>
<g clip-path="url(#cd)"><g transform="scale(.5)" fill="none" stroke-linecap="round" stroke-width="6.4">
<path stroke="#000087" d="M547 1217h0M539 1221h0M570 1222h0M550 1216h0M554 1217h0M554 1219h0M553 1219h0M552 1207h0M551 1218h0M535 1231h0M552 1218h0M548 1217h0M553 1217h0M556 1213h0M555 1217h0M550 1217h0M550 1219h0M551 1218h0M556 1214h0M551 1219h0M557 1217h0M554 1217h0M554 1217h0M550 1219h0M546 1220h0M543 1218h0M550 1215h0M547 1218h0M548 1218h0M548 1215h0M548 1215h0M553 1215h0M547 1217h0M552 1217h0M562 1210h0M549 1216h0M551 1216h0M552 1215h0M547 1217h0M535 1218h0M557 1213h0M543 1219h0M551 1223h0M553 1228h0M548 1216h0M561 1213h0M549 1217h0M555 1216h0M539 1224h0M548 1217h0M550 1214h0M513 1226h0M531 1227h0M539 1220h0M540 1223h0M541 1219h0M552 1215h0M541 1219h0M552 1218h0M551 1218h0M533 1214h0M548 1216h0M544 1223h0M550 1216h0M545 1224h0M530 1224h0M541 1218h0M550 1218h0M532 1229h0M555 1215h0M552 1225h0M558 1224h0M540 1214h0M554 1217h0M550 1217h0M529 1223h0M553 1208h0M561 1230h0M562 1210h0M521 1225h0M545 1228h0M558 1219h0M541 1230h0M548 1211h0M545 1229h0M576 1208h0M556 1220h0M535 1225h0M555 1226h0M547 1218h0M533 1215h0M549 1221h0M541 1219h0M544 1210h0M535 1216h0M542 1216h0M516 1230h0M461 1178h0M505 1220h0M573 1226h0M554 1221h0M537 1201h0M532 1225h0M546 1209h0M472 1175h0M539 1228h0M534 1220h0M510 1214h0M545 1220h0M513 1228h0M544 1203h0M554 1215h0M565 1212h0M564 1223h0M555 1232h0M544 1216h0M546 1220h0M511 1234h0M541 1230h0M554 1206h0"/>
<path stroke="#000095" d="M566 1214h0M543 1224h0M553 1221h0M540 1216h0M546 1202h0M562 1213h0M539 1225h0M534 1220h0M563 1202h0M556 1217h0M482 1201h0M540 1203h0M554 1223h0M538 1232h0M558 1215h0M505 1224h0M556 1215h0M466 1177h0M517 1224h0M553 1214h0M540 1217h0M524 1234h0M544 1215h0M461 1194h0M471 1198h0M548 1224h0M559 1214h0M501 1222h0M550 1209h0M543 1234h0M549 1211h0M530 1233h0M533 1231h0M549 1232h0M464 1205h0M539 1224h0M551 1231h0M524 1224h0M534 1211h0M554 1219h0M555 1209h0M522 1232h0M486 1192h0M516 1219h0M476 1182h0M567 1220h0M520 1227h0M462 1188h0M564 1215h0M559 1207h0M553 1225h0M504 1211h0M469 1191h0M544 1241h0M555 1232h0M573 1222h0M534 1211h0M554 1224h0M510 1225h0M542 1211h0M542 1239h0M475 1205h0M552 1199h0M549 1183h0M540 1231h0M521 1226h0M554 1205h0M568 1210h0M499 1216h0M533 1250h0M525 1213h0M566 1216h0M550 1219h0M565 1220h0M530 1205h0M563 1201h0M509 1219h0M538 1247h0M548 1220h0M570 1204h0M514 1223h0M555 1210h0M564 1224h0M542 1205h0M495 1212h0M566 1220h0M562 1223h0M547 1217h0M476 1191h0M533 1240h0M558 1202h0M534 1216h0M506 1224h0M561 1204h0M568 1209h0M481 1211h0M518 1223h0M553 1228h0M564 1204h0M567 1204h0M496 1213h0M566 1215h0M516 1211h0M509 1227h0M561 1214h0M554 1213h0M464 1175h0M556 1212h0M542 1213h0M538 1216h0M508 1220h0M528 1245h0M569 1194h0M487 1200h0M499 1208h0M566 1227h0M568 1211h0M487 1190h0M505 1214h0M503 1218h0M559 1204h0M496 1209h0M540 1212h0M552 1192h0M506 1219h0M569 1224h0M507 1229h0M502 1206h0M523 1255h0M510 1224h0M553 1212h0M529 1206h0M498 1213h0M576 1199h0M501 1217h0M515 1193h0M532 1253h0M496 1219h0M570 1213h0M492 1218h0M560 1201h0M553 1209h0M542 1221h0M536 1223h0M556 1218h0M509 1217h0M509 1224h0M503 1217h0M551 1219h0M558 1215h0M525 1218h0M493 1218h0M554 1218h0M567 1203h0M553 1221h0M546 1218h0M517 1245h0M486 1208h0M557 1211h0M520 1246h0M535 1247h0M494 1215h0M555 1213h0M466 1201h0M494 1216h0M549 1213h0M508 1227h0"/>
<path stroke="#0000a3" d="M573 1205h0M494 1223h0M489 1212h0M493 1214h0M576 1202h0M495 1211h0M482 1206h0M510 1220h0M508 1225h0M475 1220h0M562 1206h0M494 1244h0M562 1195h0M556 1201h0M550 1215h0M569 1210h0M576 1195h0M484 1219h0M497 1219h0M485 1205h0M495 1214h0M477 1202h0M489 1204h0M501 1219h0M537 1214h0M512 1267h0M541 1224h0M555 1215h0M491 1218h0M562 1217h0M563 1221h0M506 1214h0M493 1205h0M461 1176h0M553 1227h0M473 1202h0M562 1208h0M571 1204h0M466 1195h0M568 1201h0M548 1213h0M477 1212h0M499 1211h0M584 1215h0M574 1198h0M563 1195h0M471 1205h0M530 1191h0M496 1213h0M477 1208h0M472 1208h0M531 1223h0M542 1218h0M532 1206h0M540 1225h0M464 1199h0M530 1247h0M520 1218h0M563 1190h0M511 1243h0M498 1259h0M568 1197h0M464 1186h0M522 1226h0M562 1203h0M514 1229h0M548 1220h0M571 1190h0M498 1216h0M572 1195h0M478 1198h0M514 1229h0M549 1211h0M499 1260h0M486 1258h0M585 1187h0M546 1229h0M498 1202h0M455 1172h0M563 1216h0M508 1234h0M503 1258h0M524 1222h0M484 1195h0M477 1203h0M574 1193h0M567 1191h0M458 1189h0M556 1212h0M506 1260h0M485 1208h0M571 1195h0M562 1196h0M536 1219h0M550 1209h0M507 1216h0M536 1226h0M541 1221h0M522 1219h0M518 1253h0M544 1221h0M467 1193h0M569 1212h0M556 1220h0M501 1212h0M561 1203h0M532 1227h0M537 1213h0M505 1213h0M509 1255h0M468 1192h0M459 1175h0M572 1192h0M572 1209h0M561 1214h0M571 1214h0M490 1202h0M533 1213h0M566 1212h0M491 1271h0M565 1192h0M484 1225h0M543 1216h0M554 1214h0M539 1223h0M472 1203h0M561 1225h0M491 1202h0M498 1266h0M544 1233h0M486 1193h0M527 1234h0M487 1265h0M505 1259h0M550 1230h0M541 1221h0M557 1213h0M582 1192h0M547 1218h0M489 1265h0M497 1223h0M577 1187h0M527 1212h0M545 1217h0M469 1199h0M481 1205h0M545 1223h0M506 1222h0M469 1187h0M559 1220h0M451 1171h0M553 1209h0M517 1219h0M483 1186h0M552 1225h0M563 1186h0M530 1216h0M470 1270h0M548 1220h0M456 1183h0M508 1218h0M553 1214h0M567 1207h0M460 1184h0"/>
<path stroke="#0000b1" d="M453 1183h0M488 1206h0M574 1220h0M476 1185h0M482 1264h0M533 1224h0M578 1206h0M462 1172h0M573 1211h0M560 1202h0M508 1221h0M526 1219h0M559 1220h0M478 1192h0M588 1193h0M483 1183h0M584 1186h0M576 1182h0M460 1185h0M463 1199h0M448 1189h0M475 1265h0M501 1263h0M560 1224h0M576 1193h0M570 1221h0M541 1201h0M543 1211h0M481 1268h0M482 1218h0M554 1222h0M455 1178h0M455 1189h0M467 1176h0M466 1183h0M572 1188h0M489 1202h0M595 1197h0M548 1208h0M451 1183h0M458 1171h0M457 1265h0M552 1216h0M453 1172h0M525 1229h0M573 1186h0M511 1230h0M460 1182h0M560 1227h0M492 1220h0M465 1197h0M485 1217h0M562 1176h0M464 1168h0M461 1184h0M467 1179h0M570 1218h0M573 1185h0M564 1187h0M549 1229h0M476 1185h0M470 1185h0M467 1273h0M463 1174h0M553 1228h0M566 1247h0M477 1206h0M491 1209h0M549 1227h0M589 1183h0M464 1174h0M464 1185h0M539 1216h0M465 1271h0M469 1192h0M462 1178h0M471 1269h0M577 1190h0M499 1214h0M455 1182h0M471 1166h0M554 1210h0M547 1219h0M462 1183h0M560 1228h0M468 1185h0M517 1227h0M457 1271h0M570 1211h0M577 1187h0M459 1161h0M558 1184h0M467 1171h0M454 1270h0M469 1264h0M449 1160h0M455 1165h0M456 1168h0M535 1228h0M486 1205h0M547 1226h0M543 1214h0M561 1234h0M505 1208h0M467 1271h0M552 1218h0M458 1180h0M468 1182h0M603 1175h0M463 1172h0M463 1185h0M457 1193h0M459 1172h0M456 1158h0M578 1187h0M548 1212h0M508 1228h0M462 1183h0M525 1209h0M449 1162h0M578 1177h0M542 1219h0M451 1160h0M471 1161h0M469 1167h0M460 1176h0M585 1172h0M478 1272h0M564 1221h0M472 1190h0M560 1198h0M573 1182h0M551 1204h0M590 1184h0M583 1178h0M546 1207h0M546 1219h0M463 1161h0M569 1183h0M453 1157h0M587 1169h0M456 1158h0M467 1185h0M462 1146h0M559 1221h0M459 1169h0M454 1154h0M531 1226h0M573 1227h0M567 1216h0M543 1218h0M550 1222h0M581 1182h0M535 1223h0M494 1213h0"/>
<path stroke="#0000bf" d="M466 1199h0M484 1199h0M479 1213h0M578 1184h0M469 1164h0M555 1218h0M589 1180h0M517 1209h0M536 1229h0M485 1208h0M456 1172h0M565 1186h0M542 1225h0M501 1215h0M555 1219h0M490 1215h0M461 1163h0M552 1212h0M551 1220h0M584 1187h0M595 1170h0M581 1187h0M457 1150h0M468 1164h0M521 1215h0M588 1186h0M587 1173h0M462 1153h0M482 1199h0M468 1156h0M453 1163h0M578 1176h0M464 1180h0M584 1182h0M493 1206h0M592 1177h0M448 1160h0M587 1175h0M476 1175h0M468 1148h0M587 1172h0M464 1160h0M456 1157h0M458 1158h0M535 1234h0M453 1158h0M467 1182h0M493 1227h0M521 1223h0M469 1146h0M466 1153h0M476 1198h0M468 1159h0M514 1228h0M469 1204h0M459 1151h0M505 1226h0M592 1180h0M540 1226h0M469 1181h0M460 1152h0M576 1177h0M461 1147h0M463 1197h0M539 1228h0M461 1144h0M506 1223h0M497 1222h0M464 1190h0M470 1175h0M528 1219h0M502 1210h0M454 1142h0M482 1194h0M447 1152h0M475 1203h0M466 1156h0M440 1152h0M454 1151h0M473 1145h0M453 1145h0M464 1175h0M530 1214h0"/>
<path stroke="#0000cd" d="M581 1202h0M461 1146h0M456 1142h0M463 1150h0M459 1129h0M470 1143h0M449 1126h0M458 1130h0M472 1140h0M458 1135h0M463 1144h0M454 1132h0M471 1144h0M450 1139h0M441 1138h0M562 1202h0M458 1139h0M458 1141h0M459 1143h0M464 1129h0M474 1146h0M479 1182h0M454 1136h0M468 1134h0M474 1146h0M575 1215h0M569 1183h0M470 1188h0M468 1140h0M489 1205h0M459 1134h0M486 1182h0M449 1124h0M448 1133h0M453 1137h0M559 1211h0M438 1131h0M431 1140h0M425 1142h0M432 1130h0M434 1130h0M441 1131h0M432 1139h0M436 1135h0"/>
<path stroke="#0000dc" d="M433 1135h0M576 1196h0M419 1142h0M417 1139h0M424 1139h0M428 1137h0M425 1137h0M413 1143h0M432 1138h0M416 1148h0M398 1142h0M416 1144h0M452 1153h0M411 1140h0M413 1139h0M418 1143h0M567 1209h0M438 1131h0M419 1143h0M465 1174h0M462 1158h0M409 1142h0M443 1154h0M452 1177h0M421 1149h0M583 1204h0M554 1202h0M562 1220h0M559 1214h0M413 1137h0M409 1150h0M578 1208h0M457 1158h0M549 1207h0M398 1145h0M577 1211h0M397 1151h0"/>
<path stroke="#0000ea" d="M463 1137h0M405 1153h0M555 1189h0M395 1150h0M386 1148h0M581 1199h0M580 1209h0M381 1153h0M543 1198h0M391 1156h0M386 1157h0M353 1155h0M368 1163h0M605 1188h0M578 1192h0M370 1156h0M356 1151h0M538 1199h0M362 1155h0M580 1204h0M577 1206h0M368 1151h0M585 1206h0M358 1151h0M347 1158h0M581 1203h0M458 1167h0M370 1152h0M364 1155h0M357 1160h0M356 1151h0M352 1155h0M344 1150h0"/>
<path stroke="#0000f8" d="M571 1185h0M464 1170h0M582 1205h0M352 1159h0M589 1210h0M350 1164h0M543 1195h0M351 1155h0M558 1200h0M565 1182h0M459 1144h0M342 1157h0M605 1190h0M522 1229h0M570 1190h0M551 1220h0M343 1150h0M322 1155h0M323 1157h0M576 1182h0M586 1177h0M316 1158h0M576 1201h0M348 1159h0M339 1156h0M566 1180h0M338 1161h0M600 1176h0M321 1162h0M331 1157h0M317 1154h0M440 1160h0M340 1160h0M330 1151h0M575 1195h0M308 1158h0M580 1187h0M329 1162h0M575 1195h0M324 1151h0M459 1163h0M308 1155h0M607 1173h0"/>
<path stroke="#0007ff" d="M571 1207h0M309 1162h0M304 1160h0M562 1182h0M580 1152h0M310 1154h0M316 1151h0M574 1164h0M309 1157h0M310 1156h0M591 1170h0M561 1189h0M305 1157h0M291 1147h0M553 1191h0M558 1167h0M447 1149h0M588 1160h0M306 1159h0M554 1184h0M576 1183h0M453 1164h0M565 1157h0M287 1155h0M578 1193h0M310 1153h0M286 1152h0M290 1158h0M302 1156h0M302 1161h0M591 1185h0M571 1153h0M307 1153h0M290 1159h0M584 1168h0M582 1188h0M574 1124h0M572 1176h0M469 1150h0M544 1168h0M611 1170h0M583 1163h0M336 1160h0"/>
<path stroke="#0015ff" d="M573 1165h0M469 1139h0M576 1177h0M578 1182h0M611 1184h0M451 1157h0M610 1137h0M463 1173h0M574 1175h0M457 1144h0M551 1189h0M576 1182h0M572 1161h0M554 1168h0M607 1210h0M582 1186h0M404 1152h0M600 1183h0M425 1135h0M440 1135h0M576 1172h0M588 1156h0M327 1165h0M431 1140h0M441 1134h0M590 1158h0M558 1160h0M451 1138h0M449 1167h0M458 1143h0M361 1147h0"/>
<path stroke="#0023ff" d="M559 1175h0M592 1158h0M450 1132h0M561 1171h0M428 1127h0M432 1131h0M410 1150h0M427 1142h0M459 1149h0M581 1159h0M412 1146h0M471 1135h0M462 1135h0M600 1142h0M571 1150h0M403 1143h0M573 1138h0M428 1148h0M398 1146h0M465 1158h0M553 1139h0M586 1156h0M592 1125h0M443 1134h0M580 1160h0M585 1167h0M454 1149h0M550 1181h0M612 1139h0M574 1136h0M608 1159h0M601 1149h0M566 1143h0M618 1119h0M594 1146h0M586 1137h0M600 1131h0M575 1182h0M524 1144h0M419 1141h0M407 1134h0M592 1154h0M412 1137h0M419 1128h0M578 1177h0M348 1152h0M567 1132h0M584 1169h0M582 1168h0M599 1142h0M595 1141h0"/>
<path stroke="#0032ff" d="M559 1097h0M418 1138h0M598 1155h0M582 1148h0M597 1148h0M575 1172h0M398 1152h0M566 1156h0M313 1154h0M412 1143h0M408 1154h0M596 1182h0M534 1172h0M452 1145h0M464 1162h0M594 1121h0M446 1139h0M553 1123h0M410 1145h0M567 1144h0M587 1164h0M473 1147h0M560 1174h0M476 1147h0M567 1122h0M547 1164h0M453 1155h0M590 1128h0M413 1144h0M598 1137h0M459 1161h0M591 1132h0M433 1140h0M453 1136h0M400 1144h0M461 1139h0M617 1136h0M418 1136h0M601 1157h0M443 1128h0M579 1128h0M413 1143h0M405 1153h0M454 1178h0"/>
<path stroke="#0040ff" d="M429 1145h0M584 1150h0M460 1149h0M588 1134h0M438 1162h0M458 1125h0M616 1144h0M452 1132h0M603 1128h0M469 1155h0M403 1142h0M620 1142h0M618 1132h0M639 1153h0M439 1140h0M471 1156h0M458 1140h0M433 1161h0M588 1115h0M405 1158h0M409 1140h0M594 1148h0M482 1162h0M465 1148h0M307 1155h0M404 1149h0M631 1145h0M418 1165h0M411 1144h0M368 1148h0M584 1128h0M606 1125h0M471 1152h0M448 1166h0M351 1147h0M296 1159h0M470 1148h0M598 1136h0M588 1146h0M582 1141h0M404 1149h0M607 1131h0M582 1144h0M449 1143h0M587 1145h0M408 1136h0M459 1131h0M419 1138h0M562 1111h0M578 1127h0M423 1141h0M592 1139h0M405 1150h0M361 1156h0M414 1134h0M619 1124h0M413 1150h0M571 1133h0"/>
<path stroke="#004eff" d="M427 1149h0M602 1129h0M577 1126h0M455 1136h0M593 1144h0M469 1159h0M602 1138h0M598 1111h0M453 1134h0M607 1118h0M423 1139h0M459 1159h0M594 1137h0M570 1154h0M428 1172h0M363 1159h0M326 1158h0M582 1121h0M440 1127h0M299 1147h0M581 1181h0M458 1173h0M611 1132h0M573 1172h0M455 1159h0M470 1157h0M582 1184h0M566 1127h0M589 1115h0M394 1152h0M411 1143h0M592 1133h0M603 1101h0M402 1162h0M465 1160h0M422 1136h0M584 1207h0M415 1168h0M451 1127h0M458 1161h0M454 1160h0M454 1162h0M421 1166h0M438 1160h0M364 1153h0M587 1114h0M417 1131h0M404 1152h0M421 1161h0M576 1186h0M593 1144h0M558 1112h0M480 1152h0M397 1152h0M368 1156h0M441 1156h0M403 1150h0M417 1149h0M409 1144h0M463 1157h0M410 1148h0M336 1150h0M437 1138h0M595 1109h0M589 1128h0M582 1124h0M375 1149h0M356 1153h0M480 1174h0M430 1133h0M286 1164h0M430 1133h0M621 1118h0M594 1123h0"/>
<path stroke="#005cff" d="M468 1173h0M439 1159h0M417 1156h0M603 1109h0M436 1144h0M447 1169h0M612 1125h0M559 1114h0M376 1147h0M453 1170h0M487 1160h0M566 1177h0M332 1162h0M475 1167h0M580 1113h0M406 1142h0M436 1160h0M597 1098h0M386 1147h0M554 1191h0M426 1143h0M610 1129h0M576 1125h0M603 1108h0M337 1152h0M441 1154h0M454 1159h0M477 1142h0M417 1155h0M386 1143h0M440 1154h0M452 1154h0M581 1163h0M595 1123h0M437 1175h0M453 1136h0M424 1132h0M373 1144h0M595 1111h0M443 1163h0M365 1156h0M436 1134h0M417 1144h0M352 1158h0M582 1148h0M579 1111h0M294 1167h0M576 1148h0M608 1103h0M292 1150h0M446 1175h0M443 1157h0M471 1152h0M582 1115h0M581 1089h0M577 1102h0M402 1148h0M415 1152h0M555 1163h0M616 1120h0M421 1139h0M594 1130h0M444 1129h0M611 1085h0M364 1156h0M301 1168h0M599 1163h0M552 1192h0M449 1114h0M389 1148h0M436 1146h0M481 1122h0M594 1137h0M589 1132h0M589 1119h0M310 1169h0M599 1137h0M492 1144h0M574 1107h0M596 1108h0M607 1106h0M382 1157h0M357 1151h0M460 1136h0M440 1140h0M365 1150h0M485 1136h0"/>
<path stroke="#006aff" d="M334 1157h0M304 1174h0M605 1101h0M286 1160h0M612 1102h0M438 1137h0M611 1094h0M398 1143h0M601 1098h0M616 1082h0M601 1102h0M592 1117h0M409 1131h0M507 1142h0M302 1161h0M301 1166h0M304 1167h0M598 1136h0M494 1136h0M616 1153h0M602 1108h0M556 1128h0M372 1159h0M562 1207h0M364 1162h0M592 1093h0M457 1136h0M606 1071h0M583 1109h0M564 1183h0M611 1102h0M602 1088h0M606 1146h0M608 1095h0M576 1208h0M568 1126h0M609 1085h0M297 1171h0M459 1133h0M577 1112h0M483 1140h0M565 1191h0M595 1135h0M602 1125h0M574 1181h0M373 1156h0M491 1111h0M512 1142h0M295 1165h0M613 1096h0M393 1146h0M611 1095h0M375 1152h0M446 1135h0M292 1175h0M444 1133h0M453 1132h0M419 1144h0M621 1070h0M620 1073h0M476 1103h0M422 1145h0M612 1092h0M605 1077h0"/>
<path stroke="#0078ff" d="M553 1151h0M573 1136h0M590 1146h0M654 1059h0M607 1076h0M518 1140h0M611 1083h0M301 1171h0M574 1179h0M621 1062h0M456 1137h0M401 1149h0M564 1153h0M376 1148h0M405 1144h0M592 1118h0M340 1163h0M632 1050h0M597 1056h0M426 1132h0M401 1136h0M274 1172h0M611 1063h0M407 1140h0M585 1181h0M623 1065h0M622 1073h0M625 1070h0M420 1134h0M613 1082h0M586 1176h0M379 1152h0M622 1085h0M594 1195h0M439 1145h0M618 1073h0M467 1134h0M268 1176h0M607 1075h0M320 1160h0M516 1136h0M403 1147h0M615 1064h0M586 1082h0M625 1064h0M538 1144h0M417 1144h0M597 1063h0M614 1129h0M367 1148h0M418 1140h0M456 1114h0M433 1135h0M568 1133h0M461 1113h0M606 1135h0M402 1150h0M580 1161h0M515 1133h0M567 1133h0M620 1064h0M436 1135h0M590 1167h0M275 1169h0M412 1134h0M636 1058h0M625 1055h0M573 1184h0"/>
<path stroke="#0087ff" d="M621 1045h0M453 1132h0M274 1172h0M618 1046h0M385 1151h0M418 1142h0M634 1052h0M620 1056h0M397 1147h0M444 1126h0M577 1191h0M404 1136h0M562 1173h0M598 1069h0M290 1168h0M423 1149h0M560 1176h0M572 1179h0M621 1052h0M345 1156h0M359 1154h0M554 1200h0M570 1156h0M617 1053h0M614 1030h0M591 1138h0M602 1115h0M287 1177h0M377 1148h0M611 1065h0M269 1173h0M577 1143h0M400 1137h0M268 1180h0M369 1155h0M584 1116h0M581 1183h0M582 1152h0M262 1181h0M424 1130h0M610 1056h0M622 1040h0M659 1036h0M369 1156h0M606 1033h0M407 1144h0M597 1118h0M607 1013h0"/>
<path stroke="#0095ff" d="M555 1164h0M564 1205h0M594 1163h0M595 1028h0M451 1129h0M620 1037h0M380 1161h0M606 1013h0M427 1140h0M420 1143h0M596 1134h0M564 1129h0M414 1142h0M437 1136h0M619 1031h0M375 1151h0M254 1180h0M437 1134h0M432 1130h0M440 1130h0M251 1174h0M405 1155h0M611 1132h0M250 1180h0M422 1135h0M642 1006h0M424 1139h0M399 1156h0M585 1126h0M409 1144h0M570 1004h0M437 1133h0M620 1028h0M394 1155h0M260 1173h0M628 1033h0M610 1053h0M438 1139h0M448 1127h0M601 1124h0M553 1098h0M617 1019h0M381 1151h0M466 1131h0M534 1176h0M597 1142h0"/>
<path stroke="#00a3ff" d="M643 1023h0M424 1142h0M359 1146h0M625 1027h0M608 1020h0M389 1142h0M608 1092h0M432 1136h0M251 1177h0M603 1001h0M399 1154h0M242 1171h0M562 1176h0M603 1013h0M625 1008h0M433 1137h0M587 1146h0M614 1079h0M394 1140h0M244 1178h0M580 1163h0M598 1031h0M449 1132h0M367 1144h0M596 1144h0M413 1145h0M549 1212h0M612 997h0M596 1020h0M607 1083h0M613 1159h0M556 1192h0M595 1005h0M577 1128h0M241 1178h0M582 1147h0M616 1041h0M554 1215h0M237 1169h0M602 989h0M254 1177h0M598 1000h0M606 1002h0M442 1134h0M467 1132h0"/>
<path stroke="#00b1ff" d="M602 996h0M442 1130h0M225 1179h0M586 993h0M404 1148h0M392 1139h0M241 1181h0M241 1171h0M247 1182h0M224 1183h0M600 1102h0M610 991h0M246 1170h0M241 1183h0M585 980h0M239 1177h0M592 1101h0M617 1060h0M592 977h0M233 1175h0M604 963h0M610 1090h0M602 990h0M606 970h0M609 986h0M616 990h0M601 1093h0M619 966h0"/>
<path stroke="#00bfff" d="M209 1175h0M636 956h0M214 1179h0M633 939h0M607 947h0M215 1172h0M619 959h0M590 970h0M615 1094h0M592 952h0M616 962h0M624 1067h0"/>
<path stroke="#00cdff" d="M214 1175h0M620 940h0M621 947h0M621 939h0M534 1102h0M611 1047h0M612 957h0M603 944h0M622 937h0M629 938h0M623 922h0M623 959h0M576 921h0M606 948h0M633 933h0M622 942h0M636 877h0M651 885h0M655 881h0M633 923h0M637 902h0M650 881h0M668 874h0M566 1103h0M622 1024h0M644 882h0M644 898h0M585 1218h0"/>
<path stroke="#00dcff" d="M599 913h0M638 878h0M584 1225h0M658 890h0M665 901h0M650 900h0M666 888h0M644 906h0M667 880h0M577 1215h0M641 919h0M630 923h0M642 925h0M645 900h0M658 903h0M661 877h0M580 925h0M574 1106h0M647 898h0M671 891h0M653 877h0M620 896h0M666 877h0M662 904h0M664 881h0M649 916h0M637 900h0M644 879h0M581 1106h0M639 877h0"/>
<path stroke="#00eaff" d="M584 1103h0M648 901h0M639 909h0M641 876h0M634 911h0M648 881h0M660 883h0M654 893h0M586 1099h0M639 906h0M622 928h0M566 1095h0M654 871h0M659 895h0M635 919h0M627 896h0M578 1096h0M650 900h0M676 889h0M653 872h0M632 904h0M624 920h0M652 887h0M640 894h0M659 878h0M642 886h0M635 911h0M651 902h0M616 886h0M586 1108h0M662 884h0M643 897h0M582 1098h0M649 889h0M645 892h0M658 902h0M658 878h0M643 901h0M644 881h0M646 888h0M660 884h0M652 896h0M649 880h0M614 1093h0M673 889h0M542 1107h0M565 1104h0M649 868h0M574 1101h0M662 881h0"/>
<path stroke="#00f8ff" d="M634 900h0M625 896h0M652 891h0M662 899h0M662 911h0M648 869h0M674 897h0M658 888h0M638 908h0M642 879h0M643 883h0M647 873h0M632 871h0M668 867h0M585 1090h0M586 1216h0M604 873h0M600 1102h0M648 894h0M615 1024h0M658 877h0M655 893h0M659 876h0M661 866h0M530 1112h0M675 877h0M655 880h0M596 1102h0M653 882h0M638 888h0M626 903h0M581 1217h0M625 1025h0"/>
<path stroke="#07fff8" d="M618 1077h0M584 1100h0M655 895h0M583 1221h0M642 889h0M600 1105h0M639 889h0M654 886h0M584 1220h0M581 1109h0"/>
<path stroke="#15ffea" d="M586 1216h0M585 1108h0"/>
<path stroke="#23ffdc" d="M583 1214h0M607 1092h0M612 1091h0M599 1100h0M585 1218h0M591 1098h0M590 1085h0M604 1083h0M617 1101h0M580 1101h0M590 1099h0"/>
<path stroke="#32ffcd" d="M613 1089h0M563 1112h0M589 1097h0M619 1088h0M583 1114h0M603 1096h0"/>
<path stroke="#40ffbf" d="M571 1103h0M579 1104h0M575 1103h0M577 1103h0M581 1092h0M569 1100h0M626 1108h0M592 1104h0M578 1100h0M583 1109h0M548 1135h0M602 1109h0"/>
<path stroke="#4effb1" d="M595 1107h0M587 1099h0M574 1094h0M624 1093h0M590 1107h0M611 1100h0M613 1108h0M595 1102h0M586 1105h0M594 1099h0M624 1098h0"/>
<path stroke="#5cffa3" d="M494 1156h0M604 1095h0M611 1096h0M590 1106h0M587 1106h0M621 1097h0M622 1091h0M610 1095h0M605 1098h0M601 1104h0M612 1097h0M623 1090h0M620 1096h0M609 1088h0M588 1100h0M579 1111h0"/>
<path stroke="#6aff95" d="M614 1095h0M600 1107h0M610 1094h0M618 1093h0M498 1125h0M632 1079h0M629 1087h0M604 1096h0M600 1100h0M624 1092h0M612 1089h0M618 1085h0M603 1094h0M557 1140h0M604 1105h0M619 1081h0M618 1084h0M625 1081h0M610 1090h0"/>
<path stroke="#78ff87" d="M584 1103h0M592 1138h0M583 1150h0M634 1086h0M623 1097h0M445 1119h0M622 1085h0M624 1086h0M622 1091h0M613 1095h0M603 1084h0M526 1215h0M460 1154h0M480 1186h0M621 1092h0M638 1080h0M520 1212h0M633 1065h0M526 1214h0M604 1087h0M461 1176h0M507 1207h0M551 1216h0M502 1206h0M486 1197h0M631 1076h0M642 1076h0M530 1112h0M616 1096h0"/>
<path stroke="#87ff78" d="M632 1083h0M602 1091h0M626 1081h0M612 1085h0M581 1101h0M555 1128h0M614 1094h0M446 1198h0M636 1092h0M617 1087h0M612 1084h0M618 1084h0M455 1157h0M471 1153h0M460 1153h0M403 1186h0M645 1064h0M600 1090h0"/>
<path stroke="#95ff6a" d="M609 1084h0M647 1080h0M625 1089h0M458 1158h0M460 1155h0M493 1202h0M466 1136h0M461 1176h0M461 1152h0M473 1183h0M464 1138h0M462 1169h0M635 1084h0M405 1199h0M610 1086h0M600 1084h0M647 1081h0M627 1089h0M464 1149h0M466 1167h0M461 1170h0M461 1161h0M448 1190h0M457 1161h0M466 1172h0M617 1088h0M545 1149h0M460 1169h0M469 1175h0"/>
<path stroke="#a3ff5c" d="M619 1095h0M652 1065h0M611 1064h0M470 1176h0M600 1086h0M469 1168h0M470 1172h0M407 1192h0M405 1185h0M407 1186h0M462 1169h0M389 1203h0M476 1189h0M466 1176h0M469 1182h0M468 1176h0M467 1179h0M466 1182h0M622 1083h0M462 1136h0M483 1193h0M494 1198h0M466 1189h0M623 1075h0M622 1078h0M519 1210h0M465 1150h0M490 1195h0M508 1134h0M398 1193h0M464 1152h0M614 1096h0M469 1182h0M424 1191h0M498 1203h0M460 1172h0M471 1183h0M477 1194h0M622 1101h0M466 1191h0M479 1114h0"/>
<path stroke="#b1ff4e" d="M476 1186h0M469 1188h0M474 1197h0M649 1075h0M419 1179h0M467 1195h0M383 1207h0M611 1147h0M477 1195h0M393 1198h0M613 1080h0M377 1214h0M483 1208h0M638 1082h0M418 1188h0M643 1073h0M637 1072h0M479 1195h0"/>
<path stroke="#bfff40" d="M409 1202h0M624 1065h0M618 1110h0M408 1217h0M481 1205h0M645 1081h0M485 1217h0M425 1194h0M403 1212h0M397 1206h0M388 1181h0M400 1192h0M639 1085h0M599 1082h0M625 1079h0M484 1210h0M479 1211h0M398 1202h0M574 1120h0M640 1069h0M476 1092h0M477 1206h0M420 1190h0M626 1067h0M481 1213h0"/>
<path stroke="#cdff32" d="M634 1082h0M634 1070h0M656 1062h0M387 1210h0M638 1081h0M632 1072h0M626 1070h0M637 1064h0M647 1056h0M658 1061h0M639 1077h0M376 1216h0M433 1194h0M650 1066h0M501 1227h0M624 1078h0M488 1210h0M640 1084h0M377 1203h0M649 1070h0M621 1080h0M463 1152h0M504 1202h0M476 1188h0M464 1176h0M358 1227h0M343 1225h0M380 1216h0M547 1221h0M385 1207h0M464 1149h0M633 1072h0M358 1193h0M492 1200h0M628 1084h0M383 1197h0M354 1219h0M624 1072h0M493 1198h0M631 1094h0M355 1212h0M411 1208h0M358 1224h0M631 1089h0M641 1079h0"/>
<path stroke="#dcff23" d="M477 1186h0M463 1151h0M474 1230h0M505 1220h0M380 1219h0M659 1068h0M479 1268h0M478 1206h0M639 1064h0M638 1065h0M567 1157h0M629 1075h0M361 1226h0M667 1063h0M667 1060h0M389 1207h0M540 1142h0M658 1058h0M338 1217h0M665 1065h0M640 1078h0M664 1063h0M378 1202h0M654 1058h0M652 1074h0M402 1222h0"/>
<path stroke="#eaff15" d="M363 1226h0M650 1065h0M516 1252h0M356 1207h0M381 1199h0M658 1067h0M391 1203h0M387 1206h0M549 1240h0M361 1226h0M389 1228h0M663 1074h0M371 1218h0M388 1214h0M506 1225h0M520 1127h0M367 1216h0M415 1216h0M364 1226h0M335 1219h0M384 1212h0M670 1066h0M311 1216h0M631 1076h0"/>
<path stroke="#f8ff07" d="M531 1215h0M512 1208h0M417 1137h0M661 1062h0M484 1192h0M406 1214h0M461 1140h0M656 1069h0M479 1192h0M544 1244h0M656 1064h0M514 1209h0M537 1216h0M431 1144h0M641 1076h0M523 1248h0M462 1149h0M353 1224h0M652 1058h0M380 1203h0M368 1206h0M470 1180h0M461 1169h0M510 1262h0M380 1211h0M643 1068h0M511 1219h0M346 1215h0M363 1215h0M375 1196h0M644 1078h0M358 1216h0M475 1218h0M357 1229h0M629 1071h0M647 1064h0M661 1062h0M649 1066h0"/>
<path stroke="#fff800" d="M438 1153h0M661 1057h0M538 1241h0M475 1215h0M659 1062h0M644 1068h0M356 1246h0M351 1206h0M504 1258h0M361 1198h0M639 1069h0M667 1061h0M432 1143h0M416 1147h0M514 1260h0M344 1222h0M358 1222h0M369 1232h0M659 1080h0M653 1061h0M377 1215h0M372 1230h0M514 1256h0M537 1249h0M532 1253h0"/>
<path stroke="#ffea00" d="M504 1257h0M397 1149h0M643 1071h0M638 1070h0M348 1222h0M339 1230h0M504 1255h0M493 1264h0M551 1230h0M478 1271h0M517 1253h0M463 1270h0M665 1064h0M485 1267h0M466 1278h0M478 1269h0M485 1262h0M509 1257h0M451 1275h0M538 1245h0M481 1265h0M552 1228h0M450 1279h0M557 1235h0M451 1274h0M470 1267h0M490 1268h0M555 1231h0"/>
<path stroke="#ffdc00" d="M557 1241h0M539 1245h0M544 1244h0M530 1252h0M558 1228h0M555 1239h0M553 1233h0M420 1149h0M562 1238h0M474 1271h0M555 1230h0M415 1157h0M453 1276h0M559 1233h0M499 1258h0M440 1151h0M473 1270h0M374 1156h0M551 1228h0M321 1235h0M537 1249h0M552 1229h0M335 1234h0M503 1257h0M322 1221h0M656 1077h0M451 1277h0M503 1257h0M555 1235h0M475 1273h0M545 1243h0M553 1231h0M551 1230h0M329 1231h0M551 1243h0M488 1264h0M657 1050h0M419 1145h0M533 1248h0M468 1273h0M553 1235h0M554 1229h0M548 1238h0M540 1243h0M450 1277h0M469 1271h0M442 1136h0M394 1150h0M356 1220h0M379 1149h0M426 1144h0"/>
<path stroke="#ffcd00" d="M420 1149h0M387 1143h0M359 1225h0M353 1161h0M412 1143h0M447 1273h0M369 1150h0M337 1229h0M647 1065h0M354 1148h0M405 1154h0M424 1142h0M392 1135h0M357 1171h0M393 1150h0M387 1155h0M376 1161h0M478 1271h0M338 1241h0M473 1128h0M384 1151h0M321 1218h0M406 1143h0M398 1153h0M346 1158h0M394 1159h0M428 1142h0M383 1151h0M416 1148h0M362 1232h0"/>
<path stroke="#ffbf00" d="M425 1129h0M392 1148h0M466 1180h0M510 1207h0M469 1179h0M497 1200h0M466 1181h0M535 1217h0M461 1159h0M490 1195h0M372 1160h0M461 1175h0M424 1141h0M532 1216h0M347 1164h0M441 1145h0M395 1156h0M384 1150h0M443 1142h0M329 1212h0M359 1151h0M346 1163h0M483 1267h0M408 1147h0M347 1172h0M358 1162h0M407 1149h0M338 1189h0M393 1157h0M371 1152h0M475 1275h0M349 1168h0M461 1125h0M455 1271h0M328 1188h0M323 1179h0M394 1147h0M455 1139h0M346 1161h0M320 1190h0M340 1173h0M429 1149h0M399 1148h0M442 1137h0M441 1140h0"/>
<path stroke="#ffb100" d="M386 1144h0M366 1154h0M452 1142h0M451 1141h0M418 1145h0M380 1146h0M362 1164h0M377 1153h0M346 1156h0M489 1129h0M355 1145h0M342 1171h0M384 1147h0M326 1194h0M444 1134h0M314 1188h0M458 1135h0M538 1244h0M553 1149h0M555 1146h0M555 1150h0M533 1136h0M554 1148h0M412 1161h0M538 1137h0M556 1149h0M540 1139h0M528 1136h0M513 1127h0M529 1133h0M403 1156h0M549 1142h0M560 1148h0M555 1147h0M554 1146h0M549 1143h0M543 1137h0M554 1147h0M555 1145h0M532 1133h0M511 1130h0M564 1234h0M555 1147h0M559 1151h0"/>
<path stroke="#ffa300" d="M302 1199h0M513 1128h0M518 1131h0M539 1140h0M336 1165h0M361 1162h0M328 1179h0M355 1152h0M462 1134h0M461 1137h0M373 1147h0M435 1141h0M306 1223h0M412 1143h0M481 1262h0M515 1265h0M499 1259h0M491 1123h0M352 1185h0M375 1151h0M344 1187h0M329 1178h0M355 1158h0M402 1150h0M316 1216h0M406 1155h0M356 1156h0M361 1157h0M489 1124h0M356 1162h0M345 1171h0M311 1187h0M307 1211h0M371 1157h0M436 1140h0M439 1130h0M323 1178h0M365 1163h0M353 1160h0M519 1251h0M338 1187h0M322 1190h0M444 1148h0M334 1190h0M356 1158h0M394 1152h0"/>
<path stroke="#ff9500" d="M340 1179h0M349 1173h0M304 1220h0M334 1209h0M445 1136h0M482 1188h0M541 1214h0M470 1182h0M538 1213h0M514 1209h0M464 1140h0M358 1159h0M360 1166h0M465 1137h0M467 1178h0M460 1150h0M463 1168h0M334 1181h0M471 1137h0M320 1179h0M341 1200h0M416 1137h0M332 1189h0M501 1127h0M555 1234h0M331 1187h0M314 1221h0M376 1147h0M332 1205h0M382 1148h0M344 1201h0M382 1152h0M346 1158h0M321 1195h0M330 1185h0M459 1135h0M311 1211h0M292 1216h0M499 1119h0M321 1202h0M445 1280h0M309 1211h0M332 1189h0M336 1182h0M353 1214h0"/>
<path stroke="#ff8700" d="M491 1274h0M321 1197h0M334 1208h0M332 1194h0M306 1222h0M556 1233h0M321 1175h0M332 1174h0M389 1151h0M498 1128h0M454 1279h0M337 1177h0M334 1171h0M386 1157h0M537 1244h0M534 1250h0M363 1162h0M313 1202h0M431 1151h0M322 1188h0M352 1174h0M351 1186h0M321 1182h0M428 1148h0M333 1187h0M321 1218h0M442 1137h0M331 1203h0M304 1197h0M430 1140h0M444 1130h0M328 1209h0M351 1175h0M307 1190h0M360 1165h0M318 1219h0M546 1243h0M285 1212h0M452 1276h0M349 1185h0M322 1206h0"/>
<path stroke="#ff7800" d="M348 1184h0M299 1176h0M331 1190h0M343 1184h0M307 1196h0M350 1180h0M348 1177h0M322 1179h0M424 1144h0M480 1191h0M462 1164h0M310 1197h0M479 1194h0M312 1212h0M461 1148h0M461 1153h0M462 1166h0M463 1140h0M367 1152h0M487 1198h0M534 1215h0M501 1200h0M322 1188h0M347 1180h0M310 1225h0M305 1186h0M317 1197h0M332 1185h0"/>
<path stroke="#ff6a00" d="M332 1191h0M346 1199h0M311 1202h0M330 1214h0M296 1208h0M493 1121h0M342 1183h0M316 1180h0M305 1217h0M327 1207h0M318 1176h0M315 1190h0M316 1207h0M477 1134h0M344 1195h0M351 1184h0M323 1193h0M355 1204h0M303 1214h0M281 1237h0M269 1244h0M288 1232h0M488 1126h0M441 1147h0M433 1146h0M431 1144h0M446 1142h0M440 1143h0M432 1144h0M279 1227h0M444 1143h0M449 1143h0M435 1144h0M445 1145h0M322 1206h0M436 1145h0M447 1145h0M433 1145h0M442 1143h0M444 1146h0M437 1143h0M472 1124h0M427 1146h0M436 1145h0M446 1144h0M336 1171h0M445 1145h0M448 1143h0M432 1144h0M427 1146h0M321 1210h0M445 1143h0M321 1206h0M289 1211h0M450 1140h0M511 1124h0M310 1246h0M318 1215h0M306 1217h0M511 1124h0M446 1144h0M347 1169h0M298 1214h0M290 1218h0M321 1180h0M444 1133h0M295 1223h0"/>
<path stroke="#ff5c00" d="M335 1175h0M343 1187h0M347 1161h0M293 1212h0M293 1231h0M448 1136h0M488 1125h0M314 1205h0M340 1176h0M446 1133h0M330 1196h0M466 1129h0M314 1201h0M302 1213h0M293 1205h0M351 1191h0M314 1212h0M293 1244h0M304 1213h0M461 1122h0M343 1183h0M333 1212h0M284 1231h0M302 1231h0M456 1132h0M320 1202h0M288 1218h0M320 1220h0"/>
<path stroke="#ff4e00" d="M543 1218h0M460 1157h0M475 1183h0M273 1229h0M291 1216h0M331 1197h0M281 1233h0M462 1163h0M547 1218h0M484 1192h0M310 1203h0M275 1202h0M303 1199h0M464 1141h0M309 1224h0M522 1208h0M310 1204h0M301 1217h0M279 1219h0M510 1209h0M486 1195h0M293 1211h0M278 1210h0M280 1209h0M289 1209h0M274 1207h0"/>
<path stroke="#ff4000" d="M315 1199h0M271 1207h0M291 1221h0M269 1205h0M326 1206h0M279 1207h0M272 1210h0M282 1208h0M268 1209h0M267 1206h0M254 1205h0M291 1199h0M271 1213h0M275 1209h0M272 1206h0M274 1227h0M307 1226h0M278 1225h0M256 1212h0M266 1210h0M317 1225h0M252 1204h0M255 1200h0"/>
<path stroke="#ff3200" d="M320 1199h0M322 1182h0M248 1199h0M286 1231h0M254 1200h0M234 1203h0M305 1212h0M246 1209h0"/>
<path stroke="#ff2300" d="M257 1204h0M299 1222h0M241 1203h0M503 1230h0M473 1191h0M461 1138h0M517 1230h0M462 1171h0M458 1143h0M478 1205h0M474 1196h0M466 1180h0M475 1202h0M616 1085h0M489 1224h0M466 1181h0M462 1174h0M469 1188h0M462 1148h0M469 1195h0M473 1196h0M476 1197h0M356 1156h0M461 1145h0M464 1169h0M617 1088h0M612 1102h0M494 1220h0M468 1187h0M485 1214h0M463 1168h0M333 1154h0M507 1227h0M245 1214h0M464 1143h0M453 1132h0M496 1224h0M455 1132h0M465 1162h0M472 1192h0M482 1215h0M231 1213h0M501 1225h0M484 1211h0M460 1140h0M460 1150h0M491 1221h0M405 1143h0M458 1156h0M612 1098h0M616 1094h0M488 1201h0M462 1170h0M444 1131h0M463 1176h0M463 1168h0M488 1217h0M474 1198h0M623 1003h0M612 1089h0M507 1227h0M485 1197h0M478 1198h0M619 1030h0M508 1229h0M622 1093h0M478 1204h0M433 1135h0M515 1106h0M604 1115h0M488 1218h0M460 1155h0M617 1091h0M621 1048h0M428 1146h0M473 1205h0M478 1209h0M609 1102h0M462 1147h0M500 1112h0M409 1148h0M408 1141h0M250 1207h0M525 1107h0M435 1135h0M503 1112h0M448 1137h0M459 1128h0M552 1103h0M624 1036h0M622 1109h0M621 1032h0M495 1207h0M610 1110h0"/>
<path stroke="#ff1500" d="M622 1032h0M539 1107h0M620 1063h0M387 1140h0M622 1036h0M611 1108h0M480 1208h0M623 1020h0M607 1117h0M396 1151h0M619 1098h0M367 1159h0M598 1096h0M562 1106h0M623 1047h0M228 1210h0M608 1103h0M578 1106h0M309 1166h0M215 1205h0M310 1164h0M592 1103h0M614 1086h0M405 1144h0M240 1209h0M302 1213h0M411 1151h0M480 1202h0M212 1218h0M624 1036h0M612 1099h0M223 1215h0M606 1116h0M484 1203h0M610 1086h0M355 1153h0M318 1198h0M625 1041h0M476 1203h0M516 1226h0M481 1202h0M334 1172h0M232 1212h0M295 1168h0M599 1099h0M612 1094h0M209 1211h0M512 1222h0M361 1164h0M571 1106h0M448 1131h0M488 1198h0M307 1196h0M230 1209h0M607 1106h0M622 1098h0M606 1112h0M615 1071h0M620 1064h0M627 1008h0M620 1067h0M609 1107h0M613 1049h0M623 1046h0M247 1210h0M295 1162h0M617 1062h0M618 1022h0M618 1046h0M425 1140h0M616 1036h0M434 1135h0M600 1119h0M615 1029h0M605 1106h0M409 1145h0M610 1106h0M624 1036h0M288 1232h0M270 1203h0M624 1031h0M600 995h0M618 1034h0M601 1107h0M418 1143h0M621 1028h0M604 985h0M600 1125h0M611 1122h0M603 1008h0M219 1215h0M629 1023h0M613 1020h0M424 1134h0M603 1114h0M395 1156h0M270 1223h0M598 1119h0M609 1107h0M598 997h0M607 966h0M608 988h0M620 1022h0M611 974h0M236 1211h0M404 1147h0M265 1228h0M621 1036h0M500 1196h0M476 1160h0M611 1105h0M329 1168h0M212 1210h0M596 1118h0M291 1224h0M272 1226h0M214 1217h0M505 1220h0M511 1223h0M595 1135h0M259 1211h0M498 1194h0M305 1181h0M263 1203h0M624 945h0M276 1215h0M476 1155h0M389 1157h0M624 943h0M611 957h0M275 1231h0M209 1212h0M236 1214h0M239 1213h0M370 1141h0M525 1224h0M625 1046h0M594 1133h0M593 1133h0M411 1160h0M477 1153h0"/>
<path stroke="#ff0700" d="M252 1203h0M265 1210h0M462 1166h0M426 1167h0M427 1158h0M390 1165h0M493 1203h0M320 1195h0M424 1148h0M599 1127h0M263 1219h0M621 1043h0M306 1217h0M480 1183h0M305 1205h0M282 1208h0M265 1225h0M595 1131h0M623 1027h0M484 1196h0M349 1163h0M626 1037h0M340 1162h0M199 1222h0M622 1048h0M409 1144h0M622 940h0M439 1167h0M467 1171h0M429 1137h0M635 921h0M516 1227h0M293 1211h0M630 1036h0M601 1121h0M643 900h0M483 1198h0M596 1126h0M639 918h0M592 1140h0M652 891h0M643 902h0M623 1041h0M621 1018h0M441 1131h0M623 1022h0M652 893h0M636 910h0M623 1019h0M447 1133h0M654 886h0M458 1133h0M626 1035h0M643 901h0M595 1131h0M439 1137h0M658 877h0M423 1138h0M623 1050h0M418 1137h0M424 1134h0M226 1211h0M454 1134h0M622 1041h0M620 1045h0M595 1137h0M439 1134h0M622 1051h0M488 1178h0M619 1039h0M469 1180h0M361 1155h0M626 1025h0M459 1165h0M317 1160h0M546 1215h0M386 1154h0M428 1165h0M460 1178h0M313 1188h0M476 1151h0M308 1204h0M276 1236h0M257 1204h0M465 1142h0M412 1159h0M491 1189h0M400 1156h0M465 1168h0M286 1225h0M420 1155h0M621 1039h0M476 1159h0M408 1162h0M460 1154h0M209 1219h0M340 1171h0M474 1147h0M480 1185h0M499 1214h0M316 1188h0M550 1216h0M509 1210h0M514 1227h0M538 1217h0M586 1142h0M472 1181h0M241 1200h0M527 1215h0M469 1176h0M471 1171h0M475 1187h0M482 1180h0"/>
<path stroke="#f80000" d="M326 1199h0M588 1146h0M216 1222h0M595 1139h0M481 1179h0M592 1131h0M215 1215h0M476 1145h0M310 1164h0M461 1165h0M301 1217h0M270 1232h0M488 1200h0M322 1158h0M303 1153h0M340 1160h0M524 1223h0M264 1209h0M219 1209h0M519 1226h0M337 1164h0M251 1219h0M383 1152h0M278 1213h0M275 1223h0M333 1188h0M515 1225h0M515 1224h0M484 1194h0M490 1203h0M295 1212h0M272 1235h0M487 1204h0M476 1160h0M356 1163h0M211 1214h0M349 1176h0M380 1144h0M323 1193h0M268 1228h0M414 1153h0"/>
<path stroke="#ea0000" d="M275 1221h0M474 1226h0M485 1225h0M477 1225h0M472 1227h0M458 1168h0M286 1209h0M474 1227h0M489 1225h0M281 1224h0M296 1209h0M483 1225h0M472 1183h0M299 1213h0M477 1167h0M440 1159h0M496 1207h0M474 1148h0M414 1152h0M423 1164h0M482 1199h0M488 1225h0M274 1202h0M479 1226h0M376 1148h0M528 1214h0M486 1191h0M314 1152h0M406 1153h0M483 1225h0M481 1227h0M453 1165h0M345 1160h0M475 1165h0M540 1218h0M280 1233h0M526 1225h0M298 1193h0M437 1163h0M474 1155h0M234 1209h0M333 1179h0M333 1177h0M501 1205h0M483 1225h0M304 1167h0M515 1209h0M360 1160h0M377 1153h0M471 1177h0M467 1168h0M289 1218h0M511 1205h0M475 1190h0M512 1210h0M512 1221h0M477 1181h0M295 1226h0M471 1149h0M325 1169h0M283 1216h0M273 1230h0M276 1222h0"/>
<path stroke="#dc0000" d="M477 1154h0M328 1176h0M403 1159h0M314 1149h0M212 1222h0M227 1218h0M358 1152h0M355 1163h0M280 1229h0M303 1198h0M288 1213h0M333 1182h0M395 1163h0M402 1160h0M476 1160h0M413 1160h0M211 1219h0M492 1206h0M255 1214h0M318 1185h0M396 1155h0M405 1144h0M401 1147h0M384 1146h0M263 1231h0M242 1210h0M476 1167h0M523 1213h0M463 1146h0M530 1215h0M470 1178h0M520 1213h0M464 1138h0M209 1209h0M315 1204h0M317 1156h0M482 1188h0M226 1210h0M214 1213h0M249 1205h0M276 1204h0M318 1165h0M331 1179h0M458 1176h0M264 1205h0M499 1213h0M431 1165h0M544 1216h0M494 1199h0M466 1135h0M282 1220h0M272 1236h0M435 1160h0M331 1169h0M445 1153h0M464 1166h0M424 1153h0M279 1230h0M231 1229h0M275 1223h0M382 1152h0M302 1206h0M279 1235h0M333 1173h0M252 1227h0M349 1152h0"/>
<path stroke="#cd0000" d="M412 1150h0M434 1156h0M199 1215h0M202 1210h0M474 1174h0M356 1165h0M282 1197h0M419 1154h0M257 1218h0M263 1213h0M240 1224h0M267 1222h0M322 1185h0M211 1227h0M475 1165h0M364 1164h0M404 1157h0M288 1232h0M318 1157h0M282 1151h0M182 1215h0M322 1222h0M345 1169h0M217 1218h0M354 1158h0"/>
<path stroke="#bf0000" d="M380 1149h0M175 1219h0M249 1215h0M274 1235h0M276 1235h0M342 1220h0M279 1234h0M305 1198h0M273 1234h0M342 1151h0M281 1227h0M318 1156h0M284 1227h0M400 1136h0M184 1216h0M334 1153h0M369 1151h0M299 1150h0M428 1157h0M317 1219h0M275 1228h0M388 1163h0M277 1231h0M285 1228h0M275 1237h0M294 1194h0M185 1211h0M264 1238h0M267 1235h0M523 1213h0M500 1203h0M506 1206h0M489 1194h0M191 1165h0M522 1214h0M538 1215h0M277 1233h0M537 1218h0M527 1212h0M170 1183h0M168 1189h0"/>
<path stroke="#b10000" d="M163 1187h0M487 1193h0M481 1187h0M330 1215h0M167 1223h0M185 1173h0M183 1172h0M267 1231h0M196 1157h0M203 1155h0M285 1226h0M189 1168h0M168 1185h0M273 1233h0M271 1228h0M273 1237h0M171 1185h0M199 1160h0M290 1152h0M181 1215h0M181 1174h0M188 1166h0M327 1229h0M325 1212h0M179 1217h0M178 1235h0M183 1161h0M178 1235h0M179 1213h0M186 1211h0M167 1183h0M339 1224h0M172 1188h0M180 1218h0M155 1163h0M175 1215h0M268 1231h0M149 1160h0M178 1161h0M182 1163h0M318 1211h0M184 1217h0M176 1160h0M172 1163h0M299 1204h0M277 1151h0M340 1220h0M318 1208h0M178 1164h0M314 1221h0M159 1160h0M276 1231h0M158 1195h0M166 1185h0M182 1171h0M156 1161h0M337 1221h0M188 1212h0M189 1163h0"/>
<path stroke="#a30000" d="M272 1222h0M194 1209h0M183 1160h0M278 1149h0M294 1148h0M337 1218h0M335 1222h0M279 1151h0M164 1162h0M276 1238h0M171 1161h0M160 1193h0M163 1160h0M279 1232h0M173 1178h0M156 1163h0M283 1150h0M187 1164h0M194 1165h0M188 1161h0M279 1234h0M191 1168h0M158 1160h0M268 1228h0M273 1232h0M180 1171h0M170 1185h0M273 1229h0M169 1160h0M170 1161h0M282 1230h0M300 1150h0"/>
<path stroke="#950000" d="M178 1176h0M297 1149h0M178 1162h0M320 1210h0M278 1226h0M274 1229h0M326 1212h0M199 1160h0M304 1202h0M176 1171h0M181 1167h0M182 1162h0M281 1231h0M181 1160h0M337 1222h0M166 1186h0M156 1163h0M305 1199h0M183 1162h0M176 1178h0M281 1148h0M164 1190h0M176 1159h0M183 1165h0M338 1210h0M288 1231h0"/>
<path stroke="#870000" d="M157 1162h0M315 1208h0M262 1231h0M190 1164h0M330 1208h0M340 1222h0M278 1153h0M324 1213h0M183 1171h0M286 1230h0M156 1161h0M186 1159h0M291 1198h0M268 1235h0M176 1180h0M319 1216h0M157 1165h0M280 1149h0M169 1163h0M321 1208h0M171 1163h0M264 1237h0M281 1228h0M296 1149h0M274 1237h0M279 1230h0M277 1233h0M292 1231h0M278 1232h0M189 1166h0M174 1161h0M319 1203h0M182 1160h0M164 1163h0M170 1161h0M160 1162h0M168 1159h0M283 1231h0M281 1228h0M328 1221h0M318 1207h0M349 1223h0M307 1201h0"/>
</g></g>
<path d="M275.8 602.6l4.9 6.5l-4.9 6.5l-4.9 -6.5z" fill="#ff00ff" stroke="#e000e0" stroke-width=".5"/>
<path d="M53.5 416.5H360.5V648.5H53.5Z" stroke="#8a8a8a" stroke-width="1" fill="none" shape-rendering="crispEdges"/>
<path d="M53.5 648.5v-4M53.5 416.5v4M114.5 648.5v-4M114.5 416.5v4M176.5 648.5v-4M176.5 416.5v4M237.5 648.5v-4M237.5 416.5v4M299.5 648.5v-4M299.5 416.5v4M360.5 648.5v-4M360.5 416.5v4M53.5 648.5h4M360.5 648.5h-4M53.5 609.5h4M360.5 609.5h-4M53.5 571.5h4M360.5 571.5h-4M53.5 532.5h4M360.5 532.5h-4M53.5 493.5h4M360.5 493.5h-4M53.5 455.5h4M360.5 455.5h-4M53.5 416.5h4M360.5 416.5h-4" stroke="#9d9d9d" stroke-width="1" fill="none" shape-rendering="crispEdges"/>
<g font-size="12" text-anchor="middle">
<text x="53.5" y="665.8"><tspan font-weight="bold">−</tspan> 20</text>
<text x="114.9" y="665.8"><tspan font-weight="bold">−</tspan> 15</text>
<text x="176.3" y="665.8"><tspan font-weight="bold">−</tspan> 10</text>
<text x="237.7" y="665.8"><tspan font-weight="bold">−</tspan> 5</text>
<text x="299.1" y="665.8">0</text>
<text x="360.5" y="665.8">5</text>
</g><g font-size="12" text-anchor="end">
<text x="48.5" y="653.2"><tspan font-weight="bold">−</tspan> 25</text>
<text x="48.5" y="614.5"><tspan font-weight="bold">−</tspan> 20</text>
<text x="48.5" y="575.9"><tspan font-weight="bold">−</tspan> 15</text>
<text x="48.5" y="537.2"><tspan font-weight="bold">−</tspan> 10</text>
<text x="48.5" y="498.5"><tspan font-weight="bold">−</tspan> 5</text>
<text x="48.5" y="459.9">0</text>
<text x="48.5" y="421.2">5</text>
</g>
<text font-size="13.2" text-anchor="middle" x="207" y="684.2">EW (km)</text>
<text font-size="13.2" text-anchor="middle" transform="translate(17 532.5) rotate(-90)">NS (km)</text>
<text class="s" x="339" y="436.3">(d)</text>
<g clip-path="url(#cf)"><g transform="scale(.5)" fill="none" stroke-linecap="round" stroke-width="6.4">
<path stroke="#000087" d="M954 1217h0M993 1221h0M993 1222h0M955 1216h0M993 1217h0M959 1219h0M958 1219h0M1006 1207h0M958 1218h0M1007 1231h0M961 1218h0M962 1217h0M961 1217h0M998 1213h0M958 1217h0M967 1217h0M965 1219h0M959 1218h0M961 1214h0M969 1219h0M969 1217h0M960 1217h0M970 1217h0M973 1219h0M978 1220h0M1006 1218h0M980 1215h0M980 1218h0M976 1218h0M989 1215h0M978 1215h0M983 1215h0M988 1217h0M980 1217h0M1014 1210h0M1003 1216h0M983 1216h0M992 1215h0M985 1217h0M1005 1218h0M995 1213h0M996 1219h0M987 1223h0M998 1228h0M988 1216h0M1014 1213h0M993 1217h0M993 1216h0M1003 1224h0M990 1217h0M1001 1214h0M1007 1226h0M978 1227h0M1011 1220h0M997 1223h0M999 1219h0M997 1215h0M1001 1219h0M1003 1218h0M997 1218h0M992 1214h0M1002 1216h0M994 1223h0M1004 1216h0M1007 1224h0M1002 1224h0M999 1218h0M1004 1218h0M990 1229h0M1003 1215h0M1011 1225h0M998 1224h0M989 1214h0M981 1217h0M1017 1217h0M1014 1223h0M977 1208h0M990 1230h0M987 1210h0M990 1225h0M990 1228h0M1005 1219h0M1011 1230h0M989 1211h0M1016 1229h0M989 1208h0M1006 1220h0M996 1225h0M979 1226h0M1005 1218h0M1001 1215h0M1001 1221h0M993 1219h0M986 1210h0M994 1216h0M1001 1216h0M993 1230h0M980 1178h0M993 1220h0M1002 1226h0M1000 1221h0M1015 1201h0M1004 1225h0M987 1209h0M1009 1175h0M993 1228h0M992 1220h0M1011 1214h0M989 1220h0M1001 1228h0M999 1203h0M1005 1215h0M999 1212h0M989 1223h0M997 1232h0M991 1216h0M1033 1220h0M1012 1234h0M1000 1230h0M1006 1206h0"/>
<path stroke="#000095" d="M995 1214h0M998 1224h0M998 1221h0M991 1216h0M1003 1202h0M1001 1213h0M1016 1225h0M1011 1220h0M1012 1202h0M1005 1217h0M1006 1201h0M1010 1203h0M1008 1223h0M1000 1232h0M999 1215h0M994 1224h0M998 1215h0M991 1177h0M1015 1224h0M939 1214h0M1003 1217h0M1013 1234h0M1003 1215h0M1002 1194h0M1013 1198h0M1001 1224h0M1010 1214h0M989 1222h0M981 1209h0M1010 1234h0M1003 1211h0M1009 1233h0M1005 1231h0M993 1232h0M992 1205h0M1014 1224h0M1011 1231h0M991 1224h0M1005 1211h0M997 1219h0M950 1209h0M995 1232h0M985 1192h0M999 1219h0M1005 1182h0M1002 1220h0M1005 1227h0M985 1188h0M1000 1215h0M934 1207h0M1004 1225h0M1001 1211h0M996 1191h0M989 1241h0M1005 1232h0M997 1222h0M966 1211h0M995 1224h0M1012 1225h0M1002 1211h0M1012 1239h0M989 1205h0M1016 1199h0M952 1183h0M991 1231h0M1004 1226h0M988 1205h0M997 1210h0M999 1216h0M988 1250h0M1002 1213h0M1000 1216h0M986 1219h0M998 1220h0M992 1205h0M1003 1201h0M938 1219h0M994 1247h0M984 1220h0M1019 1204h0M1005 1223h0M992 1210h0M998 1224h0M937 1205h0M1015 1212h0M987 1220h0M975 1223h0M1020 1217h0M1004 1191h0M1003 1240h0M1014 1202h0M983 1216h0M995 1224h0M996 1204h0M1011 1209h0M1000 1211h0M999 1223h0M999 1228h0M1003 1204h0M988 1204h0M999 1213h0M1005 1215h0M992 1211h0M990 1227h0M997 1214h0M993 1213h0M1001 1175h0M1005 1212h0M1031 1213h0M938 1216h0M996 1220h0M1008 1245h0M1013 1194h0M989 1200h0M989 1208h0M999 1227h0M1000 1211h0M995 1190h0M1004 1214h0M990 1218h0M1016 1204h0M994 1209h0M1033 1212h0M1004 1192h0M1005 1219h0M940 1224h0M978 1229h0M1011 1206h0M1002 1255h0M1003 1224h0M1000 1212h0M1009 1206h0M1001 1213h0M1009 1199h0M1011 1217h0M954 1193h0M1010 1253h0M1015 1219h0M1004 1213h0M1016 1218h0M999 1201h0M992 1209h0M1011 1221h0M982 1223h0M987 1218h0M995 1217h0M998 1224h0M1008 1217h0M997 1219h0M1003 1215h0M1002 1218h0M998 1218h0M988 1218h0M1015 1203h0M998 1221h0M1005 1218h0M1014 1245h0M982 1208h0M999 1211h0M1001 1246h0M994 1247h0M992 1215h0M999 1213h0M1011 1201h0M1009 1216h0M982 1213h0M1008 1227h0"/>
<path stroke="#0000a3" d="M999 1205h0M1014 1223h0M997 1212h0M985 1214h0M1011 1202h0M987 1211h0M1011 1206h0M979 1220h0M1000 1225h0M989 1220h0M971 1206h0M993 1244h0M1003 1195h0M1011 1201h0M1011 1215h0M1002 1210h0M1012 1195h0M998 1219h0M994 1219h0M998 1205h0M1010 1214h0M995 1202h0M978 1204h0M999 1219h0M996 1214h0M1003 1267h0M1000 1224h0M1009 1215h0M1005 1218h0M985 1217h0M1001 1221h0M997 1214h0M995 1205h0M994 1176h0M996 1227h0M990 1202h0M989 1208h0M1017 1204h0M995 1195h0M999 1201h0M998 1213h0M997 1212h0M997 1211h0M989 1215h0M985 1198h0M996 1195h0M990 1205h0M968 1191h0M1004 1213h0M1017 1208h0M1000 1208h0M987 1223h0M986 1218h0M939 1206h0M993 1225h0M1005 1199h0M1005 1247h0M933 1218h0M973 1190h0M1004 1243h0M1010 1259h0M989 1197h0M992 1186h0M1006 1226h0M937 1203h0M997 1229h0M999 1220h0M1001 1190h0M985 1216h0M990 1195h0M995 1198h0M1008 1229h0M994 1211h0M999 1260h0M995 1258h0M960 1187h0M988 1229h0M997 1202h0M985 1172h0M993 1216h0M1007 1234h0M1008 1258h0M1000 1222h0M996 1195h0M989 1203h0M1004 1193h0M1011 1191h0M1001 1189h0M1017 1212h0M1016 1260h0M1010 1208h0M1014 1195h0M1012 1196h0M956 1219h0M1009 1209h0M936 1216h0M1011 1226h0M1001 1221h0M1007 1219h0M1017 1253h0M989 1221h0M1006 1193h0M1011 1212h0M985 1220h0M995 1212h0M1005 1203h0M982 1227h0M998 1213h0M1006 1213h0M993 1255h0M995 1192h0M1004 1175h0M995 1192h0M996 1209h0M1007 1214h0M999 1214h0M989 1202h0M993 1213h0M1007 1212h0M993 1271h0M999 1192h0M998 1225h0M988 1216h0M978 1214h0M999 1223h0M1007 1203h0M983 1225h0M1000 1202h0M1007 1266h0M936 1233h0M1008 1193h0M993 1234h0M1004 1265h0M1011 1259h0M991 1230h0M999 1221h0M991 1213h0M1008 1192h0M999 1218h0M995 1265h0M1006 1223h0M998 1187h0M1014 1212h0M1001 1217h0M996 1199h0M992 1205h0M1007 1223h0M1005 1222h0M1000 1187h0M1003 1220h0M983 1171h0M1000 1209h0M1000 1219h0M1004 1186h0M988 1225h0M1005 1186h0M966 1216h0M1007 1270h0M995 1220h0M1007 1183h0M1003 1218h0M988 1214h0M984 1207h0M1005 1184h0"/>
<path stroke="#0000b1" d="M980 1183h0M1001 1206h0M990 1220h0M998 1185h0M1005 1264h0M1002 1224h0M1007 1206h0M978 1172h0M1010 1211h0M994 1202h0M987 1221h0M987 1219h0M994 1220h0M993 1192h0M985 1193h0M1003 1183h0M991 1186h0M997 1182h0M988 1185h0M995 1199h0M987 1189h0M1008 1265h0M1007 1263h0M999 1224h0M975 1193h0M996 1221h0M989 1201h0M981 1211h0M1015 1268h0M1001 1218h0M998 1222h0M998 1178h0M998 1189h0M998 1176h0M984 1183h0M998 1188h0M971 1202h0M1013 1197h0M1003 1208h0M985 1183h0M995 1171h0M1018 1265h0M992 1216h0M997 1172h0M938 1229h0M999 1186h0M980 1230h0M997 1182h0M999 1227h0M999 1220h0M1001 1197h0M1002 1217h0M1002 1176h0M992 1168h0M993 1184h0M989 1179h0M1001 1218h0M987 1185h0M1010 1187h0M996 1229h0M1000 1185h0M998 1185h0M1006 1273h0M983 1174h0M1000 1228h0M963 1247h0M988 1206h0M1006 1209h0M1003 1227h0M991 1183h0M990 1174h0M997 1185h0M994 1216h0M989 1271h0M971 1192h0M990 1178h0M1005 1269h0M986 1190h0M995 1214h0M993 1182h0M988 1166h0M997 1210h0M989 1219h0M976 1183h0M991 1228h0M990 1185h0M999 1227h0M1012 1271h0M996 1211h0M996 1187h0M979 1161h0M1009 1184h0M988 1171h0M996 1270h0M1009 1264h0M984 1160h0M985 1165h0M997 1168h0M974 1228h0M995 1205h0M1007 1226h0M993 1214h0M997 1234h0M985 1208h0M1010 1271h0M987 1218h0M999 1180h0M993 1182h0M997 1175h0M977 1172h0M988 1185h0M985 1193h0M979 1172h0M976 1158h0M1002 1187h0M987 1212h0M994 1228h0M1001 1183h0M981 1209h0M986 1162h0M982 1177h0M1004 1219h0M971 1160h0M988 1161h0M988 1167h0M992 1176h0M1000 1172h0M1007 1272h0M985 1221h0M1000 1190h0M990 1198h0M986 1182h0M996 1204h0M997 1184h0M1008 1178h0M991 1207h0M1009 1219h0M976 1161h0M1007 1183h0M969 1157h0M1004 1169h0M982 1158h0M983 1185h0M981 1146h0M1000 1221h0M989 1169h0M969 1154h0M986 1226h0M1005 1227h0M1013 1216h0M1005 1218h0M992 1222h0M1003 1182h0M987 1223h0M1003 1213h0"/>
<path stroke="#0000bf" d="M993 1199h0M1003 1199h0M994 1213h0M997 1184h0M989 1164h0M1003 1218h0M996 1180h0M995 1209h0M1019 1229h0M993 1208h0M998 1172h0M995 1186h0M998 1225h0M1004 1215h0M983 1219h0M995 1215h0M993 1163h0M1012 1212h0M1004 1220h0M992 1187h0M991 1170h0M1010 1187h0M977 1150h0M983 1164h0M1012 1215h0M980 1186h0M1001 1173h0M977 1153h0M992 1199h0M979 1156h0M985 1163h0M997 1176h0M995 1180h0M998 1182h0M1011 1206h0M994 1177h0M974 1160h0M989 1175h0M982 1175h0M970 1148h0M1004 1172h0M991 1160h0M981 1157h0M977 1158h0M946 1234h0M969 1158h0M987 1182h0M998 1227h0M1005 1223h0M970 1146h0M971 1153h0M999 1198h0M979 1159h0M996 1228h0M1006 1204h0M972 1151h0M999 1226h0M1009 1180h0M1000 1226h0M1010 1181h0M960 1152h0M985 1177h0M976 1147h0M987 1197h0M1011 1228h0M969 1144h0M998 1223h0M991 1222h0M994 1190h0M989 1175h0M1012 1219h0M989 1210h0M957 1142h0M998 1194h0M963 1152h0M1000 1203h0M981 1156h0M964 1152h0M958 1151h0M970 1145h0M963 1145h0M993 1175h0M956 1214h0"/>
<path stroke="#0000cd" d="M952 1202h0M959 1146h0M963 1142h0M959 1150h0M965 1129h0M960 1143h0M955 1126h0M950 1130h0M974 1140h0M955 1135h0M961 1144h0M960 1132h0M969 1144h0M949 1139h0M952 1138h0M947 1202h0M954 1139h0M977 1141h0M965 1143h0M961 1129h0M952 1146h0M988 1182h0M948 1136h0M967 1134h0M961 1146h0M959 1215h0M961 1183h0M1001 1188h0M945 1140h0M989 1205h0M934 1134h0M994 1182h0M941 1124h0M951 1133h0M947 1137h0M958 1211h0M949 1131h0M940 1140h0M943 1142h0M944 1130h0M953 1130h0M954 1131h0M949 1139h0M948 1135h0"/>
<path stroke="#0000dc" d="M938 1135h0M952 1196h0M947 1142h0M948 1139h0M949 1139h0M942 1137h0M940 1137h0M945 1143h0M947 1138h0M943 1148h0M939 1142h0M937 1144h0M957 1153h0M944 1140h0M953 1139h0M938 1143h0M962 1209h0M937 1131h0M952 1143h0M984 1174h0M991 1158h0M946 1142h0M978 1154h0M992 1177h0M945 1149h0M969 1204h0M960 1202h0M955 1220h0M964 1214h0M946 1137h0M954 1150h0M957 1208h0M971 1158h0M943 1207h0M942 1145h0M976 1211h0M944 1151h0"/>
<path stroke="#0000ea" d="M970 1137h0M943 1153h0M950 1189h0M942 1150h0M950 1148h0M964 1199h0M954 1209h0M943 1153h0M961 1198h0M944 1156h0M943 1157h0M947 1155h0M941 1163h0M964 1188h0M959 1192h0M949 1156h0M949 1151h0M962 1199h0M946 1155h0M945 1204h0M951 1206h0M940 1151h0M968 1206h0M941 1151h0M943 1158h0M948 1203h0M977 1167h0M938 1152h0M947 1155h0M936 1160h0M945 1151h0M952 1155h0M945 1150h0"/>
<path stroke="#0000f8" d="M957 1185h0M994 1170h0M950 1205h0M946 1159h0M957 1210h0M936 1164h0M972 1195h0M957 1155h0M961 1200h0M968 1182h0M974 1144h0M947 1157h0M948 1190h0M972 1229h0M958 1190h0M959 1220h0M948 1150h0M937 1155h0M946 1157h0M950 1182h0M950 1177h0M948 1158h0M944 1201h0M946 1159h0M939 1156h0M961 1180h0M941 1161h0M957 1176h0M939 1162h0M935 1157h0M951 1154h0M989 1160h0M946 1160h0M949 1151h0M958 1195h0M937 1158h0M959 1187h0M946 1162h0M939 1195h0M951 1151h0M973 1163h0M948 1155h0M957 1173h0"/>
<path stroke="#0007ff" d="M950 1207h0M951 1162h0M938 1160h0M967 1182h0M956 1152h0M930 1154h0M957 1151h0M949 1164h0M946 1157h0M951 1156h0M960 1170h0M959 1189h0M942 1157h0M948 1147h0M953 1191h0M956 1167h0M969 1149h0M967 1160h0M938 1159h0M949 1184h0M968 1183h0M988 1164h0M1033 1157h0M945 1155h0M954 1193h0M950 1153h0M951 1152h0M944 1158h0M938 1156h0M948 1161h0M951 1185h0M951 1153h0M957 1153h0M947 1159h0M963 1168h0M959 1188h0M1042 1124h0M966 1176h0M969 1150h0M1027 1168h0M962 1170h0M959 1163h0M955 1160h0"/>
<path stroke="#0015ff" d="M954 1165h0M964 1139h0M952 1177h0M958 1182h0M974 1184h0M997 1157h0M1009 1137h0M983 1173h0M953 1175h0M952 1144h0M959 1189h0M960 1182h0M974 1161h0M958 1168h0M960 1210h0M952 1186h0M951 1152h0M970 1183h0M950 1135h0M955 1135h0M960 1172h0M958 1156h0M951 1165h0M953 1140h0M944 1134h0M977 1158h0M955 1160h0M942 1138h0M982 1167h0M973 1143h0M944 1147h0"/>
<path stroke="#0023ff" d="M952 1175h0M943 1158h0M952 1132h0M959 1171h0M937 1127h0M940 1131h0M955 1150h0M943 1142h0M968 1149h0M958 1159h0M949 1146h0M955 1135h0M941 1135h0M959 1142h0M960 1150h0M944 1143h0M958 1138h0M950 1148h0M929 1146h0M975 1158h0M1035 1139h0M963 1156h0M945 1125h0M940 1134h0M960 1160h0M954 1167h0M979 1149h0M956 1181h0M973 1139h0M1022 1136h0M949 1159h0M957 1149h0M953 1143h0M1053 1119h0M956 1146h0M951 1137h0M959 1131h0M953 1182h0M1040 1144h0M943 1141h0M954 1134h0M950 1154h0M946 1137h0M945 1128h0M942 1177h0M937 1152h0M945 1132h0M940 1169h0M959 1168h0M937 1142h0M973 1141h0"/>
<path stroke="#0032ff" d="M945 1138h0M973 1155h0M1016 1148h0M962 1148h0M965 1172h0M935 1152h0M962 1156h0M945 1154h0M944 1143h0M945 1154h0M962 1182h0M1072 1172h0M952 1145h0M985 1162h0M956 1121h0M947 1139h0M1002 1123h0M934 1145h0M945 1144h0M949 1164h0M978 1147h0M960 1174h0M1055 1147h0M1033 1122h0M955 1164h0M988 1155h0M948 1128h0M951 1144h0M952 1137h0M990 1161h0M952 1132h0M948 1140h0M944 1136h0M943 1144h0M970 1139h0M961 1136h0M945 1136h0M943 1157h0M943 1128h0M949 1128h0M949 1143h0M998 1153h0M994 1178h0"/>
<path stroke="#0040ff" d="M923 1145h0M960 1150h0M958 1149h0M962 1134h0M894 1162h0M945 1125h0M963 1144h0M950 1132h0M951 1128h0M920 1155h0M939 1142h0M939 1142h0M971 1132h0M953 1153h0M949 1140h0M980 1156h0M914 1140h0M972 1161h0M958 1115h0M877 1158h0M984 1140h0M945 1148h0M1010 1162h0M965 1148h0M948 1155h0M937 1149h0M956 1145h0M932 1165h0M941 1144h0M939 1148h0M953 1128h0M938 1125h0M922 1152h0M927 1166h0M940 1147h0M948 1159h0M963 1148h0M947 1136h0M954 1146h0M942 1141h0M933 1149h0M956 1131h0M944 1144h0M900 1143h0M960 1145h0M950 1136h0M945 1131h0M932 1138h0M957 1111h0M946 1127h0M941 1141h0M957 1139h0M956 1150h0M950 1156h0M944 1134h0M947 1124h0M946 1150h0M937 1133h0"/>
<path stroke="#004eff" d="M880 1149h0M953 1129h0M955 1126h0M911 1136h0M962 1144h0M874 1159h0M964 1138h0M945 1111h0M939 1134h0M955 1118h0M943 1139h0M890 1159h0M947 1137h0M956 1154h0M926 1172h0M949 1159h0M941 1158h0M956 1121h0M943 1127h0M950 1147h0M957 1181h0M878 1173h0M948 1132h0M952 1172h0M912 1159h0M891 1157h0M948 1184h0M941 1127h0M933 1115h0M953 1152h0M950 1143h0M945 1133h0M962 1101h0M892 1162h0M962 1160h0M929 1136h0M961 1207h0M876 1168h0M941 1127h0M916 1161h0M887 1160h0M908 1162h0M883 1166h0M879 1160h0M961 1153h0M955 1114h0M957 1131h0M936 1152h0M929 1161h0M960 1186h0M958 1144h0M951 1112h0M891 1152h0M938 1152h0M945 1156h0M888 1156h0M949 1150h0M935 1149h0M1001 1144h0M885 1157h0M943 1148h0M936 1150h0M947 1138h0M954 1109h0M949 1128h0M956 1124h0M946 1149h0M965 1153h0M899 1174h0M946 1133h0M943 1164h0M941 1133h0M958 1118h0M939 1123h0"/>
<path stroke="#005cff" d="M873 1173h0M942 1159h0M941 1156h0M943 1109h0M972 1144h0M886 1169h0M947 1125h0M949 1114h0M944 1147h0M912 1170h0M882 1160h0M951 1177h0M934 1162h0M878 1167h0M956 1113h0M953 1142h0M907 1160h0M954 1098h0M949 1147h0M974 1191h0M941 1143h0M947 1129h0M953 1125h0M939 1108h0M953 1152h0M905 1154h0M889 1159h0M919 1142h0M955 1155h0M987 1143h0M889 1154h0M890 1154h0M958 1163h0M949 1123h0M900 1175h0M955 1136h0M1043 1132h0M942 1144h0M941 1111h0M865 1163h0M943 1156h0M948 1134h0M950 1144h0M944 1158h0M963 1148h0M964 1111h0M955 1167h0M956 1148h0M952 1103h0M950 1150h0M875 1175h0M920 1157h0M953 1152h0M943 1115h0M929 1089h0M946 1102h0M950 1148h0M980 1152h0M941 1163h0M955 1120h0M956 1139h0M952 1130h0M949 1129h0M955 1085h0M943 1156h0M949 1168h0M946 1163h0M972 1192h0M1021 1114h0M949 1148h0M941 1146h0M972 1122h0M943 1137h0M945 1132h0M944 1119h0M959 1169h0M955 1137h0M1020 1144h0M959 1107h0M942 1108h0M940 1106h0M942 1157h0M940 1151h0M952 1136h0M942 1140h0M945 1150h0M965 1136h0"/>
<path stroke="#006aff" d="M952 1157h0M957 1174h0M950 1101h0M948 1160h0M955 1102h0M950 1137h0M950 1094h0M941 1143h0M958 1098h0M949 1082h0M949 1102h0M950 1117h0M939 1131h0M967 1142h0M953 1161h0M949 1166h0M948 1167h0M946 1136h0M1007 1136h0M966 1153h0M948 1108h0M985 1128h0M939 1159h0M963 1207h0M933 1162h0M943 1093h0M951 1136h0M957 1071h0M951 1109h0M950 1183h0M951 1102h0M961 1088h0M945 1146h0M950 1095h0M952 1208h0M942 1126h0M956 1085h0M968 1171h0M943 1133h0M954 1112h0M1020 1140h0M945 1191h0M957 1135h0M953 1125h0M961 1181h0M951 1156h0M978 1111h0M1037 1142h0M954 1165h0M956 1096h0M959 1146h0M945 1095h0M925 1152h0M949 1135h0M956 1175h0M939 1133h0M938 1132h0M948 1144h0M957 1070h0M952 1073h0M1016 1103h0M943 1145h0M957 1092h0M945 1077h0"/>
<path stroke="#0078ff" d="M950 1151h0M952 1136h0M959 1146h0M968 1059h0M955 1076h0M966 1140h0M946 1083h0M956 1171h0M963 1179h0M955 1062h0M954 1137h0M942 1149h0M949 1153h0M929 1148h0M947 1144h0M939 1118h0M942 1163h0M962 1050h0M969 1056h0M955 1132h0M935 1136h0M962 1172h0M954 1063h0M950 1140h0M962 1181h0M957 1065h0M960 1073h0M970 1070h0M934 1134h0M948 1082h0M961 1176h0M939 1152h0M968 1085h0M967 1195h0M949 1145h0M958 1073h0M961 1134h0M957 1176h0M972 1075h0M945 1160h0M1004 1136h0M960 1147h0M956 1064h0M956 1082h0M949 1064h0M991 1144h0M945 1144h0M955 1063h0M942 1129h0M947 1148h0M942 1140h0M972 1114h0M953 1135h0M951 1133h0M989 1113h0M947 1135h0M955 1150h0M965 1161h0M974 1133h0M957 1133h0M951 1064h0M952 1135h0M963 1167h0M969 1169h0M950 1134h0M955 1058h0M961 1055h0M960 1184h0"/>
<path stroke="#0087ff" d="M971 1045h0M947 1132h0M957 1172h0M969 1046h0M935 1151h0M943 1142h0M961 1052h0M965 1056h0M961 1147h0M942 1126h0M969 1191h0M939 1136h0M955 1173h0M952 1069h0M956 1168h0M938 1149h0M963 1176h0M972 1179h0M971 1052h0M955 1156h0M950 1154h0M953 1200h0M944 1156h0M963 1053h0M969 1030h0M953 1138h0M942 1115h0M967 1177h0M951 1148h0M978 1065h0M967 1173h0M975 1143h0M952 1137h0M961 1180h0M954 1155h0M940 1116h0M937 1183h0M958 1152h0M969 1181h0M950 1130h0M953 1056h0M967 1040h0M973 1036h0M956 1156h0M958 1033h0M948 1144h0M949 1118h0M958 1013h0"/>
<path stroke="#0095ff" d="M955 1164h0M954 1205h0M955 1163h0M956 1028h0M950 1129h0M953 1037h0M951 1161h0M964 1013h0M945 1140h0M952 1143h0M949 1134h0M951 1129h0M939 1142h0M935 1136h0M963 1031h0M954 1151h0M969 1180h0M943 1134h0M954 1130h0M929 1130h0M963 1174h0M949 1155h0M955 1132h0M974 1180h0M940 1135h0M972 1006h0M935 1139h0M949 1156h0M963 1126h0M953 1144h0M948 1004h0M947 1133h0M949 1028h0M943 1155h0M968 1173h0M949 1033h0M977 1053h0M953 1139h0M936 1127h0M950 1124h0M945 1098h0M948 1019h0M939 1151h0M942 1131h0M963 1176h0M941 1142h0"/>
<path stroke="#00a3ff" d="M973 1023h0M932 1142h0M950 1146h0M970 1027h0M956 1020h0M942 1142h0M951 1092h0M946 1136h0M976 1177h0M947 1001h0M927 1154h0M980 1171h0M937 1176h0M938 1013h0M950 1008h0M938 1137h0M963 1146h0M954 1079h0M936 1140h0M970 1178h0M949 1163h0M952 1031h0M955 1132h0M949 1144h0M943 1144h0M932 1145h0M958 1212h0M961 997h0M961 1020h0M950 1083h0M950 1159h0M955 1192h0M928 1005h0M937 1128h0M970 1178h0M951 1147h0M974 1041h0M952 1215h0M971 1169h0M946 989h0M978 1177h0M943 1000h0M951 1002h0M955 1134h0M945 1132h0"/>
<path stroke="#00b1ff" d="M940 996h0M953 1130h0M970 1179h0M929 993h0M958 1148h0M952 1139h0M955 1181h0M972 1171h0M975 1182h0M987 1183h0M956 1102h0M950 991h0M965 1170h0M968 1183h0M939 980h0M978 1177h0M964 1101h0M972 1060h0M956 977h0M972 1175h0M947 963h0M966 1090h0M953 990h0M929 970h0M936 986h0M936 990h0M950 1093h0M951 966h0"/>
<path stroke="#00bfff" d="M974 1175h0M939 956h0M982 1179h0M931 939h0M929 947h0M980 1172h0M948 959h0M929 970h0M956 1094h0M933 952h0M918 962h0M956 1067h0"/>
<path stroke="#00cdff" d="M963 1175h0M923 940h0M928 947h0M928 939h0M945 1102h0M957 1047h0M930 957h0M944 944h0M932 937h0M927 938h0M945 922h0M932 959h0M917 921h0M943 948h0M938 933h0M943 942h0M910 877h0M925 885h0M926 881h0M929 923h0M918 902h0M921 881h0M921 874h0M976 1103h0M979 1024h0M922 882h0M938 898h0M895 1218h0"/>
<path stroke="#00dcff" d="M930 913h0M918 878h0M902 1225h0M931 890h0M925 901h0M932 900h0M918 888h0M924 906h0M911 880h0M904 1215h0M917 919h0M925 923h0M932 925h0M922 900h0M934 903h0M912 877h0M945 925h0M922 1106h0M923 898h0M918 891h0M926 877h0M923 896h0M921 877h0M941 904h0M916 881h0M927 916h0M908 900h0M935 879h0M894 1106h0M929 877h0"/>
<path stroke="#00eaff" d="M888 1103h0M938 901h0M910 909h0M914 876h0M941 911h0M922 881h0M918 883h0M922 893h0M900 1099h0M920 906h0M947 928h0M931 1095h0M920 871h0M935 895h0M929 919h0M938 896h0M908 1096h0M944 900h0M928 889h0M936 872h0M913 904h0M936 920h0M933 887h0M930 894h0M922 878h0M930 886h0M930 911h0M955 902h0M924 886h0M921 1108h0M911 884h0M924 897h0M911 1098h0M934 889h0M929 892h0M926 902h0M923 878h0M925 901h0M923 881h0M923 888h0M915 884h0M930 896h0M920 880h0M962 1093h0M936 889h0M939 1107h0M907 1104h0M925 868h0M909 1101h0M926 881h0"/>
<path stroke="#00f8ff" d="M932 900h0M921 896h0M923 891h0M931 899h0M910 911h0M927 869h0M931 897h0M933 888h0M912 908h0M920 879h0M922 883h0M931 873h0M928 871h0M926 867h0M900 1090h0M913 1216h0M917 873h0M925 1102h0M909 894h0M966 1024h0M924 877h0M921 893h0M936 876h0M918 866h0M955 1112h0M930 877h0M925 880h0M913 1102h0M924 882h0M930 888h0M931 903h0M901 1217h0M970 1025h0"/>
<path stroke="#07fff8" d="M972 1077h0M900 1100h0M921 895h0M898 1221h0M925 889h0M916 1105h0M926 889h0M927 886h0M896 1220h0M890 1109h0"/>
<path stroke="#15ffea" d="M910 1216h0M908 1108h0"/>
<path stroke="#23ffdc" d="M927 1214h0M905 1092h0M902 1091h0M892 1100h0M918 1218h0M891 1098h0M905 1085h0M904 1083h0M907 1101h0M883 1101h0M893 1099h0"/>
<path stroke="#32ffcd" d="M905 1089h0M903 1112h0M904 1097h0M907 1088h0M891 1114h0M897 1096h0"/>
<path stroke="#40ffbf" d="M914 1103h0M911 1104h0M914 1103h0M910 1103h0M905 1092h0M923 1100h0M901 1108h0M923 1104h0M898 1100h0M914 1109h0M892 1135h0M877 1109h0"/>
<path stroke="#4effb1" d="M898 1107h0M901 1099h0M885 1094h0M918 1093h0M891 1107h0M916 1100h0M900 1108h0M902 1102h0M898 1105h0M905 1099h0M922 1098h0"/>
<path stroke="#5cffa3" d="M876 1156h0M894 1095h0M904 1096h0M895 1106h0M882 1106h0M881 1097h0M886 1091h0M897 1095h0M888 1098h0M909 1104h0M933 1097h0M902 1090h0M881 1096h0M905 1088h0M873 1100h0M879 1111h0"/>
<path stroke="#6aff95" d="M901 1095h0M908 1107h0M887 1094h0M896 1093h0M878 1125h0M911 1079h0M895 1087h0M889 1096h0M915 1100h0M914 1092h0M904 1089h0M918 1085h0M903 1094h0M929 1140h0M878 1105h0M884 1081h0M919 1084h0M896 1081h0M882 1090h0"/>
<path stroke="#78ff87" d="M891 1103h0M858 1138h0M902 1150h0M899 1086h0M908 1097h0M877 1119h0M889 1085h0M900 1086h0M886 1091h0M894 1095h0M905 1084h0M914 1215h0M890 1154h0M893 1186h0M898 1092h0M896 1080h0M923 1212h0M901 1065h0M915 1214h0M912 1087h0M891 1176h0M916 1207h0M963 1216h0M917 1206h0M900 1197h0M896 1076h0M924 1076h0M916 1112h0M890 1096h0"/>
<path stroke="#87ff78" d="M899 1083h0M892 1091h0M909 1081h0M896 1085h0M878 1101h0M919 1128h0M875 1094h0M892 1198h0M895 1092h0M909 1087h0M906 1084h0M897 1084h0M912 1157h0M919 1153h0M912 1153h0M885 1186h0M891 1064h0M897 1090h0"/>
<path stroke="#95ff6a" d="M894 1084h0M882 1080h0M889 1089h0M925 1158h0M892 1155h0M918 1202h0M888 1136h0M905 1176h0M890 1152h0M911 1183h0M881 1138h0M889 1169h0M894 1084h0M928 1199h0M897 1086h0M909 1084h0M894 1081h0M904 1089h0M897 1149h0M932 1167h0M942 1170h0M895 1161h0M900 1190h0M924 1161h0M942 1172h0M901 1088h0M931 1149h0M956 1169h0M931 1175h0"/>
<path stroke="#a3ff5c" d="M907 1095h0M888 1065h0M923 1064h0M952 1176h0M937 1086h0M935 1168h0M948 1172h0M903 1192h0M930 1185h0M892 1186h0M944 1169h0M910 1203h0M963 1189h0M958 1176h0M963 1182h0M950 1176h0M886 1179h0M957 1182h0M864 1083h0M889 1136h0M906 1193h0M915 1198h0M968 1189h0M901 1075h0M916 1078h0M924 1210h0M899 1150h0M897 1195h0M876 1134h0M925 1193h0M888 1152h0M903 1096h0M971 1182h0M906 1191h0M903 1203h0M900 1172h0M960 1183h0M972 1194h0M883 1101h0M972 1191h0M871 1114h0"/>
<path stroke="#b1ff4e" d="M975 1186h0M957 1188h0M971 1197h0M911 1075h0M915 1179h0M971 1195h0M904 1207h0M859 1147h0M985 1195h0M915 1198h0M892 1080h0M913 1214h0M984 1208h0M915 1082h0M894 1188h0M886 1073h0M897 1072h0M975 1195h0"/>
<path stroke="#bfff40" d="M903 1202h0M886 1065h0M867 1110h0M895 1217h0M1000 1205h0M910 1081h0M1000 1217h0M897 1194h0M889 1212h0M917 1206h0M892 1181h0M896 1192h0M890 1085h0M899 1082h0M878 1079h0M994 1210h0M986 1211h0M906 1202h0M896 1120h0M893 1069h0M897 1092h0M988 1206h0M893 1190h0M894 1067h0M1010 1213h0"/>
<path stroke="#cdff32" d="M916 1082h0M915 1070h0M903 1062h0M900 1210h0M887 1081h0M878 1072h0M889 1070h0M882 1064h0M906 1056h0M900 1061h0M901 1077h0M918 1216h0M925 1194h0M884 1066h0M996 1227h0M923 1078h0M1004 1210h0M880 1084h0M904 1203h0M901 1070h0M902 1080h0M907 1152h0M911 1202h0M900 1188h0M906 1176h0M900 1227h0M905 1225h0M902 1216h0M939 1221h0M876 1207h0M900 1149h0M863 1072h0M892 1193h0M909 1200h0M920 1084h0M890 1197h0M920 1219h0M877 1072h0M899 1198h0M881 1094h0M857 1212h0M927 1208h0M897 1224h0M888 1089h0M898 1079h0"/>
<path stroke="#dcff23" d="M906 1186h0M890 1151h0M1018 1230h0M1000 1220h0M903 1219h0M891 1068h0M987 1268h0M996 1206h0M918 1064h0M862 1065h0M944 1157h0M885 1075h0M913 1226h0M909 1063h0M901 1060h0M908 1207h0M902 1142h0M893 1058h0M912 1217h0M854 1065h0M895 1078h0M893 1063h0M906 1202h0M899 1058h0M904 1074h0M930 1222h0"/>
<path stroke="#eaff15" d="M910 1226h0M869 1065h0M966 1252h0M899 1207h0M912 1199h0M886 1067h0M906 1203h0M901 1206h0M951 1240h0M906 1226h0M905 1228h0M911 1074h0M908 1218h0M899 1214h0M1002 1225h0M833 1127h0M892 1216h0M919 1216h0M892 1226h0M892 1219h0M884 1212h0M887 1066h0M912 1216h0M866 1076h0"/>
<path stroke="#f8ff07" d="M931 1215h0M914 1208h0M872 1137h0M867 1062h0M898 1192h0M892 1214h0M896 1140h0M886 1069h0M909 1192h0M958 1244h0M885 1064h0M930 1209h0M936 1216h0M839 1144h0M881 1076h0M957 1248h0M898 1149h0M905 1224h0M902 1058h0M898 1203h0M896 1206h0M900 1180h0M889 1169h0M960 1262h0M882 1211h0M899 1068h0M1006 1219h0M923 1215h0M913 1215h0M904 1196h0M895 1078h0M902 1216h0M1004 1218h0M909 1229h0M878 1071h0M921 1064h0M901 1062h0M894 1066h0"/>
<path stroke="#fff800" d="M881 1153h0M861 1057h0M962 1241h0M1000 1215h0M899 1062h0M889 1068h0M915 1246h0M900 1206h0M977 1258h0M895 1198h0M875 1069h0M877 1061h0M882 1143h0M875 1147h0M952 1260h0M903 1222h0M892 1222h0M863 1232h0M865 1080h0M876 1061h0M901 1215h0M901 1230h0M963 1256h0M963 1249h0M960 1253h0"/>
<path stroke="#ffea00" d="M972 1257h0M889 1149h0M872 1071h0M912 1070h0M921 1222h0M909 1230h0M976 1255h0M976 1264h0M932 1230h0M989 1271h0M965 1253h0M1001 1270h0M865 1064h0M986 1267h0M1001 1278h0M990 1269h0M981 1262h0M974 1257h0M1010 1275h0M951 1245h0M1001 1265h0M924 1228h0M1006 1279h0M941 1235h0M1008 1274h0M999 1267h0M983 1268h0M916 1231h0"/>
<path stroke="#ffdc00" d="M942 1241h0M957 1245h0M946 1244h0M968 1252h0M918 1228h0M940 1239h0M943 1233h0M863 1149h0M935 1238h0M990 1271h0M926 1230h0M886 1157h0M1001 1276h0M942 1233h0M973 1258h0M888 1151h0M999 1270h0M888 1156h0M916 1228h0M899 1235h0M952 1249h0M931 1229h0M889 1234h0M968 1257h0M895 1221h0M888 1077h0M1005 1277h0M972 1257h0M945 1235h0M1001 1273h0M949 1243h0M926 1231h0M925 1230h0M883 1231h0M942 1243h0M982 1264h0M899 1050h0M903 1145h0M959 1248h0M993 1273h0M942 1235h0M928 1229h0M942 1238h0M947 1243h0M1012 1277h0M1000 1271h0M886 1136h0M896 1150h0M906 1220h0M877 1149h0M871 1144h0"/>
<path stroke="#ffcd00" d="M891 1149h0M880 1143h0M905 1225h0M887 1161h0M900 1143h0M1002 1273h0M898 1150h0M883 1229h0M890 1065h0M876 1148h0M880 1154h0M878 1142h0M869 1135h0M890 1171h0M886 1150h0M877 1155h0M889 1161h0M982 1271h0M877 1241h0M877 1128h0M899 1151h0M901 1218h0M883 1143h0M890 1153h0M880 1158h0M884 1159h0M875 1142h0M857 1151h0M888 1148h0M898 1232h0"/>
<path stroke="#ffbf00" d="M869 1129h0M874 1148h0M891 1180h0M909 1207h0M901 1179h0M906 1200h0M894 1181h0M940 1217h0M899 1159h0M915 1195h0M873 1160h0M890 1175h0M879 1141h0M934 1216h0M886 1164h0M869 1145h0M881 1156h0M884 1150h0M885 1142h0M885 1212h0M890 1151h0M896 1163h0M988 1267h0M875 1147h0M884 1172h0M907 1162h0M883 1149h0M907 1189h0M876 1157h0M894 1152h0M1004 1275h0M889 1168h0M892 1125h0M1002 1271h0M892 1188h0M894 1179h0M890 1147h0M872 1139h0M922 1161h0M903 1190h0M892 1173h0M918 1149h0M891 1148h0M886 1137h0M874 1140h0"/>
<path stroke="#ffb100" d="M884 1144h0M894 1154h0M1029 1142h0M1032 1141h0M870 1145h0M873 1146h0M895 1164h0M864 1153h0M901 1156h0M889 1129h0M858 1145h0M876 1171h0M894 1147h0M916 1194h0M886 1134h0M900 1188h0M898 1135h0M957 1244h0M960 1149h0M959 1146h0M990 1150h0M912 1136h0M970 1148h0M862 1161h0M918 1137h0M954 1149h0M917 1139h0M909 1136h0M897 1127h0M908 1133h0M898 1156h0M932 1142h0M982 1148h0M962 1147h0M958 1146h0M944 1143h0M920 1137h0M961 1147h0M951 1145h0M900 1133h0M897 1130h0M939 1234h0M940 1147h0M977 1151h0"/>
<path stroke="#ffa300" d="M905 1199h0M900 1128h0M902 1131h0M913 1140h0M862 1165h0M889 1162h0M908 1179h0M888 1152h0M893 1134h0M909 1137h0M885 1147h0M874 1141h0M928 1223h0M863 1143h0M970 1262h0M986 1265h0M988 1259h0M905 1123h0M923 1185h0M885 1151h0M911 1187h0M905 1178h0M897 1158h0M878 1150h0M906 1216h0M890 1155h0M899 1156h0M890 1157h0M897 1124h0M883 1162h0M891 1171h0M880 1187h0M925 1211h0M869 1157h0M892 1140h0M901 1130h0M888 1178h0M882 1163h0M868 1160h0M968 1251h0M896 1187h0M849 1190h0M893 1148h0M907 1190h0M884 1158h0M862 1152h0"/>
<path stroke="#ff9500" d="M883 1179h0M931 1173h0M936 1220h0M895 1209h0M869 1136h0M884 1188h0M956 1214h0M904 1182h0M925 1213h0M924 1209h0M892 1140h0M852 1159h0M896 1166h0M890 1137h0M896 1178h0M901 1150h0M899 1168h0M895 1181h0M886 1137h0M896 1179h0M876 1200h0M861 1137h0M919 1189h0M915 1127h0M940 1234h0M870 1187h0M916 1221h0M891 1147h0M837 1205h0M876 1148h0M846 1201h0M893 1152h0M904 1158h0M914 1195h0M913 1185h0M905 1135h0M938 1211h0M902 1216h0M905 1119h0M906 1202h0M1002 1280h0M914 1211h0M868 1189h0M889 1182h0M862 1214h0"/>
<path stroke="#ff8700" d="M977 1274h0M903 1197h0M924 1208h0M919 1194h0M933 1222h0M943 1233h0M896 1175h0M905 1174h0M895 1151h0M888 1128h0M1007 1279h0M919 1177h0M899 1171h0M895 1157h0M941 1244h0M955 1250h0M925 1162h0M908 1202h0M867 1151h0M895 1188h0M889 1174h0M883 1186h0M919 1182h0M872 1148h0M857 1187h0M934 1218h0M873 1137h0M859 1203h0M908 1197h0M865 1140h0M899 1130h0M920 1209h0M898 1175h0M906 1190h0M903 1165h0M902 1219h0M938 1243h0M928 1212h0M1006 1276h0M891 1185h0M899 1206h0"/>
<path stroke="#ff7800" d="M903 1184h0M900 1176h0M861 1190h0M854 1184h0M917 1196h0M910 1180h0M891 1177h0M905 1179h0M877 1144h0M905 1191h0M901 1164h0M923 1197h0M902 1194h0M922 1212h0M897 1148h0M894 1153h0M901 1166h0M897 1140h0M905 1152h0M902 1198h0M942 1215h0M908 1200h0M904 1188h0M864 1180h0M914 1225h0M908 1186h0M910 1197h0M907 1185h0"/>
<path stroke="#ff6a00" d="M857 1191h0M855 1199h0M897 1202h0M925 1214h0M915 1208h0M895 1121h0M904 1183h0M881 1180h0M917 1217h0M871 1207h0M896 1176h0M910 1190h0M909 1207h0M900 1134h0M875 1195h0M878 1184h0M920 1193h0M872 1204h0M922 1214h0M893 1237h0M914 1244h0M922 1232h0M904 1126h0M943 1147h0M915 1146h0M914 1144h0M988 1142h0M944 1143h0M903 1144h0M915 1227h0M991 1143h0M1006 1143h0M924 1144h0M963 1145h0M909 1206h0M934 1145h0M956 1145h0M922 1145h0M965 1143h0M971 1146h0M929 1143h0M901 1124h0M896 1146h0M922 1145h0M991 1144h0M907 1171h0M949 1145h0M978 1143h0M912 1144h0M903 1146h0M900 1210h0M966 1143h0M893 1206h0M909 1211h0M994 1140h0M899 1124h0M966 1246h0M908 1215h0M922 1217h0M907 1124h0M1013 1144h0M853 1169h0M907 1214h0M925 1218h0M910 1180h0M908 1133h0M917 1223h0"/>
<path stroke="#ff5c00" d="M891 1175h0M866 1187h0M894 1161h0M906 1212h0M922 1231h0M888 1136h0M890 1125h0M889 1205h0M861 1176h0M885 1133h0M882 1196h0M898 1129h0M925 1201h0M894 1213h0M933 1205h0M879 1191h0M889 1212h0M939 1244h0M889 1213h0M864 1122h0M875 1183h0M888 1212h0M934 1231h0M952 1231h0M873 1132h0M912 1202h0M925 1218h0M913 1220h0"/>
<path stroke="#ff4e00" d="M955 1218h0M900 1157h0M893 1183h0M922 1229h0M915 1216h0M896 1197h0M922 1233h0M892 1163h0M951 1218h0M891 1192h0M915 1203h0M927 1202h0M891 1199h0M889 1141h0M923 1224h0M926 1208h0M911 1204h0M898 1217h0M919 1219h0M934 1209h0M901 1195h0M911 1211h0M914 1210h0M901 1209h0M897 1209h0M914 1207h0"/>
<path stroke="#ff4000" d="M897 1199h0M923 1207h0M931 1221h0M902 1205h0M903 1206h0M903 1207h0M894 1210h0M937 1208h0M932 1209h0M925 1206h0M913 1205h0M905 1199h0M916 1213h0M890 1209h0M932 1206h0M912 1227h0M889 1226h0M915 1225h0M923 1212h0M925 1210h0M922 1225h0M899 1204h0M915 1200h0"/>
<path stroke="#ff3200" d="M907 1199h0M916 1182h0M898 1199h0M928 1231h0M916 1200h0M902 1203h0M913 1212h0M917 1209h0"/>
<path stroke="#ff2300" d="M928 1204h0M931 1222h0M911 1203h0M1023 1230h0M972 1191h0M943 1138h0M1029 1230h0M946 1171h0M942 1143h0M981 1205h0M974 1196h0M961 1180h0M988 1202h0M953 1085h0M1016 1224h0M959 1181h0M953 1174h0M967 1188h0M948 1148h0M980 1195h0M984 1196h0M976 1197h0M878 1156h0M945 1145h0M951 1169h0M954 1088h0M953 1102h0M1013 1220h0M963 1187h0M997 1214h0M951 1168h0M874 1154h0M1026 1227h0M925 1214h0M942 1143h0M946 1132h0M1011 1224h0M944 1132h0M936 1162h0M973 1192h0M1003 1215h0M923 1213h0M1022 1225h0M993 1211h0M947 1140h0M944 1150h0M1015 1221h0M937 1143h0M947 1156h0M954 1098h0M948 1094h0M979 1201h0M953 1170h0M944 1131h0M951 1176h0M947 1168h0M1005 1217h0M983 1198h0M942 1003h0M957 1089h0M1025 1227h0M956 1197h0M981 1198h0M967 1030h0M1022 1229h0M965 1093h0M984 1204h0M948 1135h0M946 1106h0M939 1115h0M1007 1218h0M941 1155h0M956 1091h0M979 1048h0M855 1146h0M983 1205h0M988 1209h0M957 1102h0M945 1147h0M944 1112h0M943 1148h0M941 1141h0M897 1207h0M948 1107h0M942 1135h0M946 1112h0M946 1137h0M946 1128h0M941 1103h0M968 1036h0M952 1109h0M947 1032h0M966 1207h0M958 1110h0"/>
<path stroke="#ff1500" d="M953 1032h0M939 1107h0M978 1063h0M861 1140h0M971 1036h0M947 1108h0M955 1208h0M940 1020h0M957 1117h0M950 1151h0M949 1098h0M871 1159h0M950 1096h0M942 1106h0M963 1047h0M922 1210h0M948 1103h0M948 1106h0M874 1166h0M923 1205h0M878 1164h0M947 1103h0M949 1086h0M874 1144h0M919 1209h0M868 1213h0M867 1151h0M980 1202h0M931 1218h0M967 1036h0M960 1099h0M922 1215h0M943 1116h0M968 1203h0M950 1086h0M881 1153h0M889 1198h0M957 1041h0M957 1203h0M918 1226h0M946 1202h0M865 1172h0M923 1212h0M868 1168h0M956 1099h0M944 1094h0M915 1211h0M920 1222h0M873 1164h0M947 1106h0M945 1131h0M890 1198h0M868 1196h0M932 1209h0M943 1106h0M939 1098h0M950 1112h0M967 1071h0M960 1064h0M933 1008h0M961 1067h0M948 1107h0M957 1049h0M950 1046h0M915 1210h0M885 1162h0M972 1062h0M968 1022h0M960 1046h0M947 1140h0M959 1036h0M929 1135h0M939 1119h0M969 1029h0M941 1106h0M952 1145h0M956 1106h0M944 1036h0M914 1232h0M906 1203h0M969 1031h0M944 995h0M966 1034h0M938 1107h0M848 1143h0M937 1028h0M946 985h0M936 1125h0M943 1122h0M959 1008h0M906 1215h0M959 1023h0M958 1020h0M954 1134h0M942 1114h0M877 1156h0M925 1223h0M944 1119h0M958 1107h0M948 997h0M928 966h0M936 988h0M959 1022h0M936 974h0M925 1211h0M939 1147h0M925 1228h0M931 1036h0M945 1196h0M893 1160h0M955 1105h0M857 1168h0M918 1210h0M947 1118h0M914 1224h0M910 1226h0M924 1217h0M921 1220h0M922 1223h0M932 1135h0M898 1211h0M951 1194h0M883 1181h0M906 1203h0M937 945h0M916 1215h0M904 1155h0M869 1157h0M929 943h0M925 957h0M923 1231h0M914 1212h0M903 1214h0M921 1213h0M885 1141h0M936 1224h0M957 1046h0M938 1133h0M929 1133h0M879 1160h0M913 1153h0"/>
<path stroke="#ff0700" d="M886 1203h0M903 1210h0M881 1166h0M878 1167h0M881 1158h0M870 1165h0M891 1203h0M894 1195h0M874 1148h0M942 1127h0M915 1219h0M968 1043h0M910 1217h0M889 1183h0M886 1205h0M886 1208h0M926 1225h0M942 1131h0M958 1027h0M963 1196h0M862 1163h0M944 1037h0M879 1162h0M908 1222h0M975 1048h0M952 1144h0M934 940h0M876 1167h0M868 1171h0M952 1137h0M929 921h0M944 1227h0M878 1211h0M943 1036h0M942 1121h0M929 900h0M949 1198h0M939 1126h0M931 918h0M936 1140h0M924 891h0M921 902h0M981 1041h0M934 1018h0M940 1131h0M962 1022h0M925 893h0M931 910h0M938 1019h0M949 1133h0M930 886h0M947 1133h0M943 1035h0M926 901h0M946 1131h0M945 1137h0M929 877h0M953 1138h0M948 1050h0M952 1137h0M946 1134h0M920 1211h0M945 1134h0M958 1041h0M949 1045h0M930 1137h0M943 1134h0M974 1051h0M962 1178h0M958 1039h0M903 1180h0M874 1155h0M963 1025h0M882 1165h0M881 1160h0M961 1215h0M862 1154h0M881 1165h0M915 1178h0M867 1188h0M914 1151h0M875 1204h0M900 1236h0M893 1204h0M891 1142h0M878 1159h0M911 1189h0M889 1156h0M873 1168h0M908 1225h0M872 1155h0M945 1039h0M890 1159h0M889 1162h0M895 1154h0M903 1219h0M876 1171h0M924 1147h0M887 1185h0M925 1214h0M870 1188h0M956 1216h0M911 1210h0M938 1227h0M926 1217h0M933 1142h0M895 1181h0M903 1200h0M919 1215h0M892 1176h0M877 1171h0M929 1187h0M915 1180h0"/>
<path stroke="#f80000" d="M872 1199h0M941 1146h0M894 1222h0M930 1139h0M948 1179h0M929 1131h0M916 1215h0M926 1145h0M865 1164h0M887 1165h0M939 1217h0M925 1232h0M896 1200h0M879 1158h0M866 1153h0M869 1160h0M928 1223h0M914 1209h0M901 1209h0M927 1226h0M850 1164h0M923 1219h0M869 1152h0M921 1213h0M893 1223h0M879 1188h0M921 1225h0M926 1224h0M884 1194h0M896 1203h0M866 1212h0M913 1235h0M900 1204h0M884 1160h0M868 1163h0M925 1214h0M875 1176h0M846 1144h0M889 1193h0M898 1228h0M862 1153h0"/>
<path stroke="#ea0000" d="M905 1221h0M1069 1226h0M1025 1225h0M1048 1225h0M1068 1227h0M881 1168h0M888 1209h0M1065 1227h0M1018 1225h0M918 1224h0M880 1209h0M1036 1225h0M902 1183h0M911 1213h0M896 1167h0M880 1159h0M893 1207h0M916 1148h0M877 1152h0M883 1164h0M883 1199h0M1020 1225h0M919 1202h0M1045 1226h0M876 1148h0M923 1214h0M904 1191h0M875 1152h0M870 1153h0M1037 1225h0M1042 1227h0M882 1165h0M887 1160h0M884 1165h0M936 1218h0M927 1233h0M940 1225h0M897 1193h0M877 1163h0M899 1155h0M900 1209h0M878 1179h0M862 1177h0M909 1205h0M1036 1225h0M870 1167h0M920 1209h0M861 1160h0M867 1153h0M915 1177h0M880 1168h0M922 1218h0M914 1205h0M897 1190h0M918 1210h0M913 1221h0M904 1181h0M910 1226h0M929 1149h0M883 1169h0M929 1216h0M899 1230h0M890 1222h0"/>
<path stroke="#dc0000" d="M888 1154h0M875 1176h0M879 1159h0M850 1149h0M934 1222h0M926 1218h0M873 1152h0M849 1163h0M909 1229h0M868 1198h0M905 1213h0M875 1182h0M878 1163h0M892 1160h0M920 1160h0M880 1160h0M905 1219h0M902 1206h0M916 1214h0M853 1185h0M866 1155h0M862 1144h0M868 1147h0M850 1146h0M913 1231h0M913 1210h0M886 1167h0M928 1213h0M897 1146h0M929 1215h0M903 1178h0M922 1213h0M901 1138h0M927 1209h0M889 1204h0M873 1156h0M885 1188h0M914 1210h0M907 1213h0M900 1205h0M909 1204h0M882 1165h0M873 1179h0M899 1176h0M909 1205h0M906 1213h0M877 1165h0M946 1216h0M910 1199h0M895 1135h0M909 1220h0M898 1236h0M859 1160h0M867 1169h0M873 1153h0M869 1166h0M857 1153h0M919 1230h0M895 1229h0M893 1223h0M878 1152h0M909 1206h0M906 1235h0M858 1173h0M897 1227h0M879 1152h0"/>
<path stroke="#cd0000" d="M862 1150h0M879 1156h0M911 1215h0M910 1210h0M873 1174h0M874 1165h0M886 1197h0M872 1154h0M899 1218h0M911 1213h0M917 1224h0M926 1222h0M875 1185h0M919 1227h0M883 1165h0M884 1164h0M875 1157h0M925 1232h0M853 1157h0M876 1151h0M935 1215h0M933 1222h0M866 1169h0M913 1218h0M862 1158h0"/>
<path stroke="#bf0000" d="M890 1149h0M903 1219h0M911 1215h0M931 1235h0M930 1235h0M915 1220h0M927 1234h0M917 1198h0M937 1234h0M894 1151h0M932 1227h0M864 1156h0M942 1227h0M865 1136h0M913 1216h0M858 1153h0M885 1151h0M877 1150h0M886 1157h0M926 1219h0M924 1228h0M894 1163h0M923 1231h0M924 1228h0M927 1237h0M915 1194h0M908 1211h0M923 1238h0M932 1235h0M920 1213h0M922 1203h0M925 1206h0M916 1194h0M902 1165h0M921 1214h0M937 1215h0M932 1233h0M927 1218h0M916 1212h0M913 1183h0M899 1189h0"/>
<path stroke="#b10000" d="M903 1187h0M904 1193h0M902 1187h0M922 1215h0M932 1223h0M898 1173h0M898 1172h0M931 1231h0M906 1157h0M895 1155h0M931 1226h0M895 1168h0M904 1185h0M930 1233h0M926 1228h0M918 1237h0M910 1185h0M898 1160h0M867 1152h0M901 1215h0M905 1174h0M901 1166h0M932 1229h0M923 1212h0M908 1217h0M900 1235h0M913 1161h0M902 1235h0M904 1213h0M906 1211h0M899 1183h0M927 1224h0M898 1188h0M924 1218h0M893 1163h0M905 1215h0M937 1231h0M888 1160h0M895 1161h0M907 1163h0M910 1211h0M901 1217h0M895 1160h0M916 1163h0M917 1204h0M880 1151h0M924 1220h0M919 1208h0M901 1164h0M918 1221h0M890 1160h0M932 1231h0M906 1195h0M908 1185h0M901 1171h0M907 1161h0M919 1221h0M901 1212h0M889 1163h0"/>
<path stroke="#a30000" d="M919 1222h0M909 1209h0M894 1160h0M891 1149h0M871 1148h0M917 1218h0M921 1222h0M883 1151h0M901 1162h0M921 1238h0M889 1161h0M911 1193h0M900 1160h0M925 1232h0M900 1178h0M901 1163h0M880 1150h0M900 1164h0M892 1165h0M907 1161h0M934 1234h0M888 1168h0M899 1160h0M922 1228h0M939 1232h0M901 1171h0M893 1185h0M928 1229h0M890 1160h0M895 1161h0M934 1230h0M877 1150h0"/>
<path stroke="#950000" d="M906 1176h0M877 1149h0M904 1162h0M922 1210h0M925 1226h0M929 1229h0M912 1212h0M897 1160h0M907 1202h0M907 1171h0M897 1167h0M896 1162h0M925 1231h0M900 1160h0M920 1222h0M912 1186h0M894 1163h0M916 1199h0M908 1162h0M907 1178h0M880 1148h0M903 1190h0M896 1159h0M892 1165h0M918 1210h0M931 1231h0"/>
<path stroke="#870000" d="M884 1162h0M914 1208h0M933 1231h0M904 1164h0M916 1208h0M908 1222h0M889 1153h0M921 1213h0M903 1171h0M919 1230h0M898 1161h0M901 1159h0M912 1198h0M926 1235h0M906 1180h0M917 1216h0M893 1165h0M880 1149h0M898 1163h0M909 1208h0M900 1163h0M933 1237h0M922 1228h0M890 1149h0M924 1237h0M926 1230h0M930 1233h0M921 1231h0M927 1232h0M917 1166h0M891 1161h0M921 1203h0M888 1160h0M889 1163h0M894 1161h0M901 1162h0M882 1159h0M942 1231h0M926 1228h0M920 1221h0M908 1207h0M927 1223h0M908 1201h0"/>
</g></g>
<path d="M476.8 603.3l4.9 6.5l-4.9 6.5l-4.9 -6.5z" fill="#ff00ff" stroke="#e000e0" stroke-width=".5"/>
<path d="M405.5 416.5H538.5V648.5H405.5Z" stroke="#8a8a8a" stroke-width="1" fill="none" shape-rendering="crispEdges"/>
<path d="M417.5 648.5v-4M417.5 416.5v4M441.5 648.5v-4M441.5 416.5v4M465.5 648.5v-4M465.5 416.5v4M490.5 648.5v-4M490.5 416.5v4M514.5 648.5v-4M514.5 416.5v4M538.5 648.5v-4M538.5 416.5v4M405.5 648.5h4M538.5 648.5h-4M405.5 609.5h4M538.5 609.5h-4M405.5 571.5h4M538.5 571.5h-4M405.5 532.5h4M538.5 532.5h-4M405.5 493.5h4M538.5 493.5h-4M405.5 455.5h4M538.5 455.5h-4M405.5 416.5h4M538.5 416.5h-4" stroke="#9d9d9d" stroke-width="1" fill="none" shape-rendering="crispEdges"/>
<g font-size="12" text-anchor="middle">
<text x="417.6" y="665.8">2</text>
<text x="441.8" y="665.8">4</text>
<text x="466" y="665.8">6</text>
<text x="490.1" y="665.8">8</text>
<text x="514.3" y="665.8">10</text>
<text x="538.5" y="665.8">12</text>
</g><g font-size="12" text-anchor="end">
<text x="400.5" y="653.2"><tspan font-weight="bold">−</tspan> 25</text>
<text x="400.5" y="614.5"><tspan font-weight="bold">−</tspan> 20</text>
<text x="400.5" y="575.9"><tspan font-weight="bold">−</tspan> 15</text>
<text x="400.5" y="537.2"><tspan font-weight="bold">−</tspan> 10</text>
<text x="400.5" y="498.5"><tspan font-weight="bold">−</tspan> 5</text>
<text x="400.5" y="459.9">0</text>
<text x="400.5" y="421.2">5</text>
</g>
<text font-size="13.2" text-anchor="middle" x="472" y="684.2">Altitude (km)</text>
<text font-size="13.2" text-anchor="middle" transform="translate(371.5 532.5) rotate(-90)">NS (km)</text>
<text class="s" x="495.5" y="436.1">(f)</text>
</svg></body></html>
